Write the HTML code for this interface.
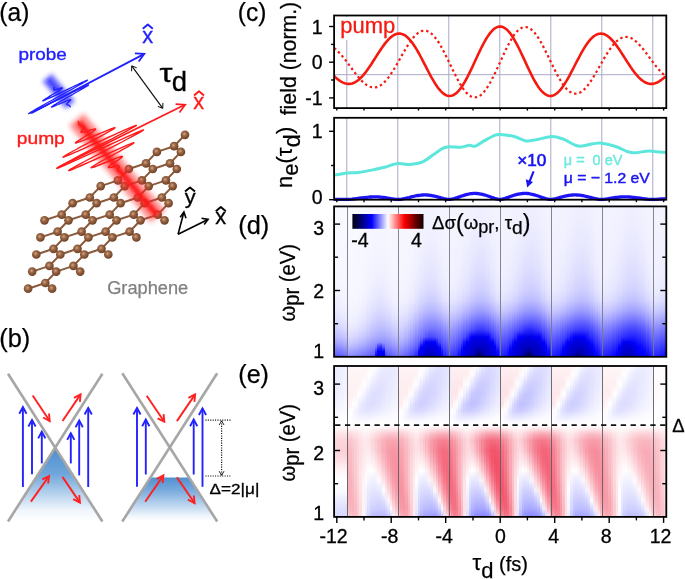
<!DOCTYPE html>
<html lang="en"><head><meta charset="utf-8"><title>Figure</title>
<style>html,body{margin:0;padding:0;background:#fff}svg{display:block}text{font-family:"Liberation Sans", sans-serif}</style></head>
<body><svg width="685" height="579" viewBox="0 0 685 579">
<defs><linearGradient id="d0" x1="0" y1="0" x2="0" y2="1"><stop offset="0" stop-color="#f8f8ff"/><stop offset="0.117" stop-color="#f8f8ff"/><stop offset="0.249" stop-color="#f7f7ff"/><stop offset="0.382" stop-color="#f6f6ff"/><stop offset="0.47" stop-color="#f5f5ff"/><stop offset="0.559" stop-color="#f2f2ff"/><stop offset="0.625" stop-color="#efefff"/><stop offset="0.691" stop-color="#e8e8ff"/><stop offset="0.735" stop-color="#e2e2ff"/><stop offset="0.779" stop-color="#d9d9ff"/><stop offset="0.823" stop-color="#ccccff"/><stop offset="0.868" stop-color="#babaff"/><stop offset="0.903" stop-color="#a6a6ff"/><stop offset="0.934" stop-color="#8f8fff"/><stop offset="0.965" stop-color="#7575ff"/><stop offset="1" stop-color="#5a5aff"/></linearGradient>
<linearGradient id="d1" x1="0" y1="0" x2="0" y2="1"><stop offset="0" stop-color="#f8f8ff"/><stop offset="0.117" stop-color="#f8f8ff"/><stop offset="0.249" stop-color="#f7f7ff"/><stop offset="0.382" stop-color="#f7f7ff"/><stop offset="0.47" stop-color="#f6f6ff"/><stop offset="0.559" stop-color="#f3f3ff"/><stop offset="0.625" stop-color="#f0f0ff"/><stop offset="0.691" stop-color="#eaeaff"/><stop offset="0.735" stop-color="#e4e4ff"/><stop offset="0.779" stop-color="#dbdbff"/><stop offset="0.823" stop-color="#cfcfff"/><stop offset="0.868" stop-color="#bcbcff"/><stop offset="0.903" stop-color="#a8a8ff"/><stop offset="0.934" stop-color="#9191ff"/><stop offset="0.965" stop-color="#7777ff"/><stop offset="1" stop-color="#5c5cff"/></linearGradient>
<linearGradient id="d2" x1="0" y1="0" x2="0" y2="1"><stop offset="0" stop-color="#f8f8ff"/><stop offset="0.117" stop-color="#f8f8ff"/><stop offset="0.249" stop-color="#f8f8ff"/><stop offset="0.382" stop-color="#f7f7ff"/><stop offset="0.47" stop-color="#f6f6ff"/><stop offset="0.559" stop-color="#f4f4ff"/><stop offset="0.625" stop-color="#f1f1ff"/><stop offset="0.691" stop-color="#ececff"/><stop offset="0.735" stop-color="#e6e6ff"/><stop offset="0.779" stop-color="#dedeff"/><stop offset="0.823" stop-color="#d1d1ff"/><stop offset="0.868" stop-color="#bfbfff"/><stop offset="0.903" stop-color="#ababff"/><stop offset="0.934" stop-color="#9595ff"/><stop offset="0.965" stop-color="#7a7aff"/><stop offset="1" stop-color="#6060ff"/></linearGradient>
<linearGradient id="d3" x1="0" y1="0" x2="0" y2="1"><stop offset="0" stop-color="#f8f8ff"/><stop offset="0.117" stop-color="#f8f8ff"/><stop offset="0.249" stop-color="#f8f8ff"/><stop offset="0.382" stop-color="#f7f7ff"/><stop offset="0.47" stop-color="#f7f7ff"/><stop offset="0.559" stop-color="#f5f5ff"/><stop offset="0.625" stop-color="#f3f3ff"/><stop offset="0.691" stop-color="#eeeeff"/><stop offset="0.735" stop-color="#e8e8ff"/><stop offset="0.779" stop-color="#e0e0ff"/><stop offset="0.823" stop-color="#d4d4ff"/><stop offset="0.868" stop-color="#c3c3ff"/><stop offset="0.903" stop-color="#afafff"/><stop offset="0.934" stop-color="#9999ff"/><stop offset="0.965" stop-color="#7f7fff"/><stop offset="1" stop-color="#6464ff"/></linearGradient>
<linearGradient id="d4" x1="0" y1="0" x2="0" y2="1"><stop offset="0" stop-color="#f8f8ff"/><stop offset="0.117" stop-color="#f8f8ff"/><stop offset="0.249" stop-color="#f8f8ff"/><stop offset="0.382" stop-color="#f7f7ff"/><stop offset="0.47" stop-color="#f7f7ff"/><stop offset="0.559" stop-color="#f5f5ff"/><stop offset="0.625" stop-color="#f3f3ff"/><stop offset="0.691" stop-color="#efefff"/><stop offset="0.735" stop-color="#eaeaff"/><stop offset="0.779" stop-color="#e2e2ff"/><stop offset="0.823" stop-color="#d7d7ff"/><stop offset="0.868" stop-color="#c6c6ff"/><stop offset="0.903" stop-color="#b3b3ff"/><stop offset="0.934" stop-color="#9d9dff"/><stop offset="0.965" stop-color="#8383ff"/><stop offset="1" stop-color="#6969ff"/></linearGradient>
<linearGradient id="d5" x1="0" y1="0" x2="0" y2="1"><stop offset="0" stop-color="#f8f8ff"/><stop offset="0.117" stop-color="#f8f8ff"/><stop offset="0.249" stop-color="#f8f8ff"/><stop offset="0.382" stop-color="#f8f8ff"/><stop offset="0.47" stop-color="#f8f8ff"/><stop offset="0.559" stop-color="#f7f7ff"/><stop offset="0.625" stop-color="#f7f7ff"/><stop offset="0.691" stop-color="#f5f5ff"/><stop offset="0.735" stop-color="#f2f2ff"/><stop offset="0.779" stop-color="#eeeeff"/><stop offset="0.823" stop-color="#e7e7ff"/><stop offset="0.868" stop-color="#dbdbff"/><stop offset="0.903" stop-color="#ccccff"/><stop offset="0.934" stop-color="#bbbbff"/><stop offset="0.965" stop-color="#a4a4ff"/><stop offset="1" stop-color="#8d8dff"/></linearGradient>
<linearGradient id="d6" x1="0" y1="0" x2="0" y2="1"><stop offset="0" stop-color="#f8f8ff"/><stop offset="0.117" stop-color="#f8f8ff"/><stop offset="0.249" stop-color="#f8f8ff"/><stop offset="0.382" stop-color="#f8f8ff"/><stop offset="0.47" stop-color="#f8f8ff"/><stop offset="0.559" stop-color="#f7f7ff"/><stop offset="0.625" stop-color="#f6f6ff"/><stop offset="0.691" stop-color="#f5f5ff"/><stop offset="0.735" stop-color="#f2f2ff"/><stop offset="0.779" stop-color="#eeeeff"/><stop offset="0.823" stop-color="#e6e6ff"/><stop offset="0.868" stop-color="#dadaff"/><stop offset="0.903" stop-color="#cbcbff"/><stop offset="0.934" stop-color="#b9b9ff"/><stop offset="0.965" stop-color="#a2a2ff"/><stop offset="1" stop-color="#8a8aff"/></linearGradient>
<linearGradient id="d7" x1="0" y1="0" x2="0" y2="1"><stop offset="0" stop-color="#f8f8ff"/><stop offset="0.117" stop-color="#f8f8ff"/><stop offset="0.249" stop-color="#f8f8ff"/><stop offset="0.382" stop-color="#f8f8ff"/><stop offset="0.47" stop-color="#f7f7ff"/><stop offset="0.559" stop-color="#f7f7ff"/><stop offset="0.625" stop-color="#f6f6ff"/><stop offset="0.691" stop-color="#f4f4ff"/><stop offset="0.735" stop-color="#f1f1ff"/><stop offset="0.779" stop-color="#ededff"/><stop offset="0.823" stop-color="#e5e5ff"/><stop offset="0.868" stop-color="#d8d8ff"/><stop offset="0.903" stop-color="#c9c9ff"/><stop offset="0.934" stop-color="#b6b6ff"/><stop offset="0.965" stop-color="#9f9fff"/><stop offset="1" stop-color="#8787ff"/></linearGradient>
<linearGradient id="d8" x1="0" y1="0" x2="0" y2="1"><stop offset="0" stop-color="#f8f8ff"/><stop offset="0.117" stop-color="#f8f8ff"/><stop offset="0.249" stop-color="#f8f8ff"/><stop offset="0.382" stop-color="#f7f7ff"/><stop offset="0.47" stop-color="#f7f7ff"/><stop offset="0.559" stop-color="#f7f7ff"/><stop offset="0.625" stop-color="#f6f6ff"/><stop offset="0.691" stop-color="#f3f3ff"/><stop offset="0.735" stop-color="#f0f0ff"/><stop offset="0.779" stop-color="#ebebff"/><stop offset="0.823" stop-color="#e3e3ff"/><stop offset="0.868" stop-color="#d5d5ff"/><stop offset="0.903" stop-color="#c5c5ff"/><stop offset="0.934" stop-color="#b2b2ff"/><stop offset="0.965" stop-color="#9b9bff"/><stop offset="1" stop-color="#8383ff"/></linearGradient>
<linearGradient id="d9" x1="0" y1="0" x2="0" y2="1"><stop offset="0" stop-color="#f8f8ff"/><stop offset="0.117" stop-color="#f8f8ff"/><stop offset="0.249" stop-color="#f7f7ff"/><stop offset="0.382" stop-color="#f7f7ff"/><stop offset="0.47" stop-color="#f7f7ff"/><stop offset="0.559" stop-color="#f6f6ff"/><stop offset="0.625" stop-color="#f5f5ff"/><stop offset="0.691" stop-color="#f2f2ff"/><stop offset="0.735" stop-color="#eeeeff"/><stop offset="0.779" stop-color="#e8e8ff"/><stop offset="0.823" stop-color="#dfdfff"/><stop offset="0.868" stop-color="#d1d1ff"/><stop offset="0.903" stop-color="#c1c1ff"/><stop offset="0.934" stop-color="#aeaeff"/><stop offset="0.965" stop-color="#9696ff"/><stop offset="1" stop-color="#7e7eff"/></linearGradient>
<linearGradient id="d10" x1="0" y1="0" x2="0" y2="1"><stop offset="0" stop-color="#f8f8ff"/><stop offset="0.117" stop-color="#f8f8ff"/><stop offset="0.249" stop-color="#f7f7ff"/><stop offset="0.382" stop-color="#f7f7ff"/><stop offset="0.47" stop-color="#f7f7ff"/><stop offset="0.559" stop-color="#f6f6ff"/><stop offset="0.625" stop-color="#f4f4ff"/><stop offset="0.691" stop-color="#f0f0ff"/><stop offset="0.735" stop-color="#ebebff"/><stop offset="0.779" stop-color="#e5e5ff"/><stop offset="0.823" stop-color="#dbdbff"/><stop offset="0.868" stop-color="#cdcdff"/><stop offset="0.903" stop-color="#bcbcff"/><stop offset="0.934" stop-color="#a8a8ff"/><stop offset="0.965" stop-color="#9191ff"/><stop offset="1" stop-color="#7878ff"/></linearGradient>
<linearGradient id="d11" x1="0" y1="0" x2="0" y2="1"><stop offset="0" stop-color="#f7f7ff"/><stop offset="0.117" stop-color="#f7f7ff"/><stop offset="0.249" stop-color="#f7f7ff"/><stop offset="0.382" stop-color="#f7f7ff"/><stop offset="0.47" stop-color="#f6f6ff"/><stop offset="0.559" stop-color="#f4f4ff"/><stop offset="0.625" stop-color="#f2f2ff"/><stop offset="0.691" stop-color="#ededff"/><stop offset="0.735" stop-color="#e8e8ff"/><stop offset="0.779" stop-color="#e1e1ff"/><stop offset="0.823" stop-color="#d7d7ff"/><stop offset="0.868" stop-color="#c7c7ff"/><stop offset="0.903" stop-color="#b6b6ff"/><stop offset="0.934" stop-color="#a2a2ff"/><stop offset="0.965" stop-color="#8a8aff"/><stop offset="1" stop-color="#7272ff"/></linearGradient>
<linearGradient id="d12" x1="0" y1="0" x2="0" y2="1"><stop offset="0" stop-color="#f7f7ff"/><stop offset="0.117" stop-color="#f7f7ff"/><stop offset="0.249" stop-color="#f7f7ff"/><stop offset="0.382" stop-color="#f6f6ff"/><stop offset="0.47" stop-color="#f5f5ff"/><stop offset="0.559" stop-color="#f3f3ff"/><stop offset="0.625" stop-color="#f0f0ff"/><stop offset="0.691" stop-color="#eaeaff"/><stop offset="0.735" stop-color="#e4e4ff"/><stop offset="0.779" stop-color="#dcdcff"/><stop offset="0.823" stop-color="#d1d1ff"/><stop offset="0.868" stop-color="#c1c1ff"/><stop offset="0.903" stop-color="#b0b0ff"/><stop offset="0.934" stop-color="#9c9cff"/><stop offset="0.965" stop-color="#8484ff"/><stop offset="1" stop-color="#6b6bff"/></linearGradient>
<linearGradient id="d13" x1="0" y1="0" x2="0" y2="1"><stop offset="0" stop-color="#f7f7ff"/><stop offset="0.117" stop-color="#f7f7ff"/><stop offset="0.249" stop-color="#f6f6ff"/><stop offset="0.382" stop-color="#f5f5ff"/><stop offset="0.47" stop-color="#f3f3ff"/><stop offset="0.559" stop-color="#f1f1ff"/><stop offset="0.625" stop-color="#ededff"/><stop offset="0.691" stop-color="#e6e6ff"/><stop offset="0.735" stop-color="#e0e0ff"/><stop offset="0.779" stop-color="#d7d7ff"/><stop offset="0.823" stop-color="#ccccff"/><stop offset="0.868" stop-color="#bbbbff"/><stop offset="0.903" stop-color="#a9a9ff"/><stop offset="0.934" stop-color="#9595ff"/><stop offset="0.965" stop-color="#7d7dff"/><stop offset="1" stop-color="#6565ff"/></linearGradient>
<linearGradient id="d14" x1="0" y1="0" x2="0" y2="1"><stop offset="0" stop-color="#f7f7ff"/><stop offset="0.117" stop-color="#f7f7ff"/><stop offset="0.249" stop-color="#f6f6ff"/><stop offset="0.382" stop-color="#f4f4ff"/><stop offset="0.47" stop-color="#f2f2ff"/><stop offset="0.559" stop-color="#efefff"/><stop offset="0.625" stop-color="#eaeaff"/><stop offset="0.691" stop-color="#e3e3ff"/><stop offset="0.735" stop-color="#dcdcff"/><stop offset="0.779" stop-color="#d2d2ff"/><stop offset="0.823" stop-color="#c6c6ff"/><stop offset="0.868" stop-color="#b5b5ff"/><stop offset="0.903" stop-color="#a3a3ff"/><stop offset="0.934" stop-color="#8f8fff"/><stop offset="0.965" stop-color="#7777ff"/><stop offset="1" stop-color="#5e5eff"/></linearGradient>
<linearGradient id="d15" x1="0" y1="0" x2="0" y2="1"><stop offset="0" stop-color="#f7f7ff"/><stop offset="0.117" stop-color="#f6f6ff"/><stop offset="0.249" stop-color="#f5f5ff"/><stop offset="0.382" stop-color="#f3f3ff"/><stop offset="0.47" stop-color="#f1f1ff"/><stop offset="0.559" stop-color="#ededff"/><stop offset="0.625" stop-color="#e8e8ff"/><stop offset="0.691" stop-color="#dfdfff"/><stop offset="0.735" stop-color="#d8d8ff"/><stop offset="0.779" stop-color="#ceceff"/><stop offset="0.823" stop-color="#c1c1ff"/><stop offset="0.868" stop-color="#b0b0ff"/><stop offset="0.903" stop-color="#9d9dff"/><stop offset="0.934" stop-color="#8989ff"/><stop offset="0.965" stop-color="#7171ff"/><stop offset="1" stop-color="#5858ff"/></linearGradient>
<linearGradient id="d16" x1="0" y1="0" x2="0" y2="1"><stop offset="0" stop-color="#f7f7ff"/><stop offset="0.117" stop-color="#f6f6ff"/><stop offset="0.249" stop-color="#f5f5ff"/><stop offset="0.382" stop-color="#f2f2ff"/><stop offset="0.47" stop-color="#efefff"/><stop offset="0.559" stop-color="#ebebff"/><stop offset="0.625" stop-color="#e5e5ff"/><stop offset="0.691" stop-color="#ddddff"/><stop offset="0.735" stop-color="#d4d4ff"/><stop offset="0.779" stop-color="#cacaff"/><stop offset="0.823" stop-color="#bdbdff"/><stop offset="0.868" stop-color="#ababff"/><stop offset="0.903" stop-color="#9999ff"/><stop offset="0.934" stop-color="#7b7bff"/><stop offset="0.965" stop-color="#2e2eff"/><stop offset="1" stop-color="#0000fc"/></linearGradient>
<linearGradient id="d17" x1="0" y1="0" x2="0" y2="1"><stop offset="0" stop-color="#f7f7ff"/><stop offset="0.117" stop-color="#f6f6ff"/><stop offset="0.249" stop-color="#f5f5ff"/><stop offset="0.382" stop-color="#f2f2ff"/><stop offset="0.47" stop-color="#efefff"/><stop offset="0.559" stop-color="#eaeaff"/><stop offset="0.625" stop-color="#e4e4ff"/><stop offset="0.691" stop-color="#dbdbff"/><stop offset="0.735" stop-color="#d2d2ff"/><stop offset="0.779" stop-color="#c7c7ff"/><stop offset="0.823" stop-color="#babaff"/><stop offset="0.868" stop-color="#a8a8ff"/><stop offset="0.903" stop-color="#9494ff"/><stop offset="0.934" stop-color="#3838ff"/><stop offset="0.965" stop-color="#0000f8"/><stop offset="1" stop-color="#0000f1"/></linearGradient>
<linearGradient id="d18" x1="0" y1="0" x2="0" y2="1"><stop offset="0" stop-color="#f7f7ff"/><stop offset="0.117" stop-color="#f6f6ff"/><stop offset="0.249" stop-color="#f4f4ff"/><stop offset="0.382" stop-color="#f2f2ff"/><stop offset="0.47" stop-color="#efefff"/><stop offset="0.559" stop-color="#eaeaff"/><stop offset="0.625" stop-color="#e4e4ff"/><stop offset="0.691" stop-color="#dbdbff"/><stop offset="0.735" stop-color="#d2d2ff"/><stop offset="0.779" stop-color="#c6c6ff"/><stop offset="0.823" stop-color="#b8b8ff"/><stop offset="0.868" stop-color="#a6a6ff"/><stop offset="0.903" stop-color="#9090ff"/><stop offset="0.934" stop-color="#2929ff"/><stop offset="0.965" stop-color="#0000f9"/><stop offset="1" stop-color="#0000f0"/></linearGradient>
<linearGradient id="d19" x1="0" y1="0" x2="0" y2="1"><stop offset="0" stop-color="#f7f7ff"/><stop offset="0.117" stop-color="#f6f6ff"/><stop offset="0.249" stop-color="#f5f5ff"/><stop offset="0.382" stop-color="#f2f2ff"/><stop offset="0.47" stop-color="#efefff"/><stop offset="0.559" stop-color="#ebebff"/><stop offset="0.625" stop-color="#e5e5ff"/><stop offset="0.691" stop-color="#dcdcff"/><stop offset="0.735" stop-color="#d2d2ff"/><stop offset="0.779" stop-color="#c7c7ff"/><stop offset="0.823" stop-color="#b8b8ff"/><stop offset="0.868" stop-color="#a6a6ff"/><stop offset="0.903" stop-color="#9393ff"/><stop offset="0.934" stop-color="#5b5bff"/><stop offset="0.965" stop-color="#0202ff"/><stop offset="1" stop-color="#0000ef"/></linearGradient>
<linearGradient id="d20" x1="0" y1="0" x2="0" y2="1"><stop offset="0" stop-color="#f7f7ff"/><stop offset="0.117" stop-color="#f6f6ff"/><stop offset="0.249" stop-color="#f5f5ff"/><stop offset="0.382" stop-color="#f3f3ff"/><stop offset="0.47" stop-color="#f1f1ff"/><stop offset="0.559" stop-color="#ededff"/><stop offset="0.625" stop-color="#e7e7ff"/><stop offset="0.691" stop-color="#dedeff"/><stop offset="0.735" stop-color="#d5d5ff"/><stop offset="0.779" stop-color="#c9c9ff"/><stop offset="0.823" stop-color="#babaff"/><stop offset="0.868" stop-color="#a8a8ff"/><stop offset="0.903" stop-color="#9595ff"/><stop offset="0.934" stop-color="#8080ff"/><stop offset="0.965" stop-color="#6464ff"/><stop offset="1" stop-color="#3e3eff"/></linearGradient>
<linearGradient id="d21" x1="0" y1="0" x2="0" y2="1"><stop offset="0" stop-color="#f7f7ff"/><stop offset="0.117" stop-color="#f6f6ff"/><stop offset="0.249" stop-color="#f6f6ff"/><stop offset="0.382" stop-color="#f4f4ff"/><stop offset="0.47" stop-color="#f2f2ff"/><stop offset="0.559" stop-color="#efefff"/><stop offset="0.625" stop-color="#eaeaff"/><stop offset="0.691" stop-color="#e1e1ff"/><stop offset="0.735" stop-color="#d8d8ff"/><stop offset="0.779" stop-color="#cdcdff"/><stop offset="0.823" stop-color="#bebeff"/><stop offset="0.868" stop-color="#acacff"/><stop offset="0.903" stop-color="#9999ff"/><stop offset="0.934" stop-color="#8585ff"/><stop offset="0.965" stop-color="#6d6dff"/><stop offset="1" stop-color="#5555ff"/></linearGradient>
<linearGradient id="d22" x1="0" y1="0" x2="0" y2="1"><stop offset="0" stop-color="#f7f7ff"/><stop offset="0.117" stop-color="#f7f7ff"/><stop offset="0.249" stop-color="#f6f6ff"/><stop offset="0.382" stop-color="#f5f5ff"/><stop offset="0.47" stop-color="#f4f4ff"/><stop offset="0.559" stop-color="#f1f1ff"/><stop offset="0.625" stop-color="#ededff"/><stop offset="0.691" stop-color="#e5e5ff"/><stop offset="0.735" stop-color="#dcdcff"/><stop offset="0.779" stop-color="#d1d1ff"/><stop offset="0.823" stop-color="#c3c3ff"/><stop offset="0.868" stop-color="#b2b2ff"/><stop offset="0.903" stop-color="#9f9fff"/><stop offset="0.934" stop-color="#8b8bff"/><stop offset="0.965" stop-color="#7373ff"/><stop offset="1" stop-color="#5b5bff"/></linearGradient>
<linearGradient id="d23" x1="0" y1="0" x2="0" y2="1"><stop offset="0" stop-color="#f7f7ff"/><stop offset="0.117" stop-color="#f7f7ff"/><stop offset="0.249" stop-color="#f6f6ff"/><stop offset="0.382" stop-color="#f6f6ff"/><stop offset="0.47" stop-color="#f5f5ff"/><stop offset="0.559" stop-color="#f3f3ff"/><stop offset="0.625" stop-color="#f0f0ff"/><stop offset="0.691" stop-color="#e8e8ff"/><stop offset="0.735" stop-color="#e1e1ff"/><stop offset="0.779" stop-color="#d6d6ff"/><stop offset="0.823" stop-color="#c9c9ff"/><stop offset="0.868" stop-color="#b8b8ff"/><stop offset="0.903" stop-color="#a6a6ff"/><stop offset="0.934" stop-color="#9292ff"/><stop offset="0.965" stop-color="#7b7bff"/><stop offset="1" stop-color="#6464ff"/></linearGradient>
<linearGradient id="d24" x1="0" y1="0" x2="0" y2="1"><stop offset="0" stop-color="#f7f7ff"/><stop offset="0.117" stop-color="#f7f7ff"/><stop offset="0.249" stop-color="#f6f6ff"/><stop offset="0.382" stop-color="#f6f6ff"/><stop offset="0.47" stop-color="#f5f5ff"/><stop offset="0.559" stop-color="#f4f4ff"/><stop offset="0.625" stop-color="#f1f1ff"/><stop offset="0.691" stop-color="#ebebff"/><stop offset="0.735" stop-color="#e4e4ff"/><stop offset="0.779" stop-color="#dadaff"/><stop offset="0.823" stop-color="#ceceff"/><stop offset="0.868" stop-color="#bebeff"/><stop offset="0.903" stop-color="#adadff"/><stop offset="0.934" stop-color="#9a9aff"/><stop offset="0.965" stop-color="#8484ff"/><stop offset="1" stop-color="#6d6dff"/></linearGradient>
<linearGradient id="d25" x1="0" y1="0" x2="0" y2="1"><stop offset="0" stop-color="#f7f7ff"/><stop offset="0.117" stop-color="#f7f7ff"/><stop offset="0.249" stop-color="#f7f7ff"/><stop offset="0.382" stop-color="#f6f6ff"/><stop offset="0.47" stop-color="#f6f6ff"/><stop offset="0.559" stop-color="#f5f5ff"/><stop offset="0.625" stop-color="#f2f2ff"/><stop offset="0.691" stop-color="#ececff"/><stop offset="0.735" stop-color="#e5e5ff"/><stop offset="0.779" stop-color="#dcdcff"/><stop offset="0.823" stop-color="#d0d0ff"/><stop offset="0.868" stop-color="#c1c1ff"/><stop offset="0.903" stop-color="#b2b2ff"/><stop offset="0.934" stop-color="#a0a0ff"/><stop offset="0.965" stop-color="#8b8bff"/><stop offset="1" stop-color="#7575ff"/></linearGradient>
<linearGradient id="d26" x1="0" y1="0" x2="0" y2="1"><stop offset="0" stop-color="#f7f7ff"/><stop offset="0.117" stop-color="#f7f7ff"/><stop offset="0.249" stop-color="#f6f6ff"/><stop offset="0.382" stop-color="#f6f6ff"/><stop offset="0.47" stop-color="#f5f5ff"/><stop offset="0.559" stop-color="#f4f4ff"/><stop offset="0.625" stop-color="#f1f1ff"/><stop offset="0.691" stop-color="#eaeaff"/><stop offset="0.735" stop-color="#e3e3ff"/><stop offset="0.779" stop-color="#d9d9ff"/><stop offset="0.823" stop-color="#cdcdff"/><stop offset="0.868" stop-color="#bebeff"/><stop offset="0.903" stop-color="#adadff"/><stop offset="0.934" stop-color="#9b9bff"/><stop offset="0.965" stop-color="#8686ff"/><stop offset="1" stop-color="#7070ff"/></linearGradient>
<linearGradient id="d27" x1="0" y1="0" x2="0" y2="1"><stop offset="0" stop-color="#f6f6ff"/><stop offset="0.117" stop-color="#f6f6ff"/><stop offset="0.249" stop-color="#f6f6ff"/><stop offset="0.382" stop-color="#f6f6ff"/><stop offset="0.47" stop-color="#f5f5ff"/><stop offset="0.559" stop-color="#f3f3ff"/><stop offset="0.625" stop-color="#f0f0ff"/><stop offset="0.691" stop-color="#e8e8ff"/><stop offset="0.735" stop-color="#e0e0ff"/><stop offset="0.779" stop-color="#d6d6ff"/><stop offset="0.823" stop-color="#c8c8ff"/><stop offset="0.868" stop-color="#b8b8ff"/><stop offset="0.903" stop-color="#a7a7ff"/><stop offset="0.934" stop-color="#9494ff"/><stop offset="0.965" stop-color="#7e7eff"/><stop offset="1" stop-color="#6868ff"/></linearGradient>
<linearGradient id="d28" x1="0" y1="0" x2="0" y2="1"><stop offset="0" stop-color="#f6f6ff"/><stop offset="0.117" stop-color="#f6f6ff"/><stop offset="0.249" stop-color="#f6f6ff"/><stop offset="0.382" stop-color="#f5f5ff"/><stop offset="0.47" stop-color="#f4f4ff"/><stop offset="0.559" stop-color="#f2f2ff"/><stop offset="0.625" stop-color="#efefff"/><stop offset="0.691" stop-color="#e6e6ff"/><stop offset="0.735" stop-color="#ddddff"/><stop offset="0.779" stop-color="#d1d1ff"/><stop offset="0.823" stop-color="#c2c2ff"/><stop offset="0.868" stop-color="#b1b1ff"/><stop offset="0.903" stop-color="#9f9fff"/><stop offset="0.934" stop-color="#8c8cff"/><stop offset="0.965" stop-color="#7575ff"/><stop offset="1" stop-color="#5f5fff"/></linearGradient>
<linearGradient id="d29" x1="0" y1="0" x2="0" y2="1"><stop offset="0" stop-color="#f6f6ff"/><stop offset="0.117" stop-color="#f6f6ff"/><stop offset="0.249" stop-color="#f5f5ff"/><stop offset="0.382" stop-color="#f5f5ff"/><stop offset="0.47" stop-color="#f3f3ff"/><stop offset="0.559" stop-color="#f1f1ff"/><stop offset="0.625" stop-color="#ececff"/><stop offset="0.691" stop-color="#e2e2ff"/><stop offset="0.735" stop-color="#d8d8ff"/><stop offset="0.779" stop-color="#cbcbff"/><stop offset="0.823" stop-color="#bbbbff"/><stop offset="0.868" stop-color="#a8a8ff"/><stop offset="0.903" stop-color="#9595ff"/><stop offset="0.934" stop-color="#8282ff"/><stop offset="0.965" stop-color="#6b6bff"/><stop offset="1" stop-color="#5454ff"/></linearGradient>
<linearGradient id="d30" x1="0" y1="0" x2="0" y2="1"><stop offset="0" stop-color="#f6f6ff"/><stop offset="0.117" stop-color="#f6f6ff"/><stop offset="0.249" stop-color="#f5f5ff"/><stop offset="0.382" stop-color="#f4f4ff"/><stop offset="0.47" stop-color="#f2f2ff"/><stop offset="0.559" stop-color="#efefff"/><stop offset="0.625" stop-color="#e9e9ff"/><stop offset="0.691" stop-color="#dedeff"/><stop offset="0.735" stop-color="#d2d2ff"/><stop offset="0.779" stop-color="#c3c3ff"/><stop offset="0.823" stop-color="#b2b2ff"/><stop offset="0.868" stop-color="#9e9eff"/><stop offset="0.903" stop-color="#8a8aff"/><stop offset="0.934" stop-color="#7676ff"/><stop offset="0.965" stop-color="#6060ff"/><stop offset="1" stop-color="#4949ff"/></linearGradient>
<linearGradient id="d31" x1="0" y1="0" x2="0" y2="1"><stop offset="0" stop-color="#f6f6ff"/><stop offset="0.117" stop-color="#f5f5ff"/><stop offset="0.249" stop-color="#f4f4ff"/><stop offset="0.382" stop-color="#f2f2ff"/><stop offset="0.47" stop-color="#f0f0ff"/><stop offset="0.559" stop-color="#ececff"/><stop offset="0.625" stop-color="#e6e6ff"/><stop offset="0.691" stop-color="#d8d8ff"/><stop offset="0.735" stop-color="#cbcbff"/><stop offset="0.779" stop-color="#babaff"/><stop offset="0.823" stop-color="#a8a8ff"/><stop offset="0.868" stop-color="#9292ff"/><stop offset="0.903" stop-color="#7e7eff"/><stop offset="0.934" stop-color="#6a6aff"/><stop offset="0.965" stop-color="#5353ff"/><stop offset="1" stop-color="#3d3dff"/></linearGradient>
<linearGradient id="d32" x1="0" y1="0" x2="0" y2="1"><stop offset="0" stop-color="#f5f5ff"/><stop offset="0.117" stop-color="#f5f5ff"/><stop offset="0.249" stop-color="#f3f3ff"/><stop offset="0.382" stop-color="#f1f1ff"/><stop offset="0.47" stop-color="#eeeeff"/><stop offset="0.559" stop-color="#e9e9ff"/><stop offset="0.625" stop-color="#e1e1ff"/><stop offset="0.691" stop-color="#d2d2ff"/><stop offset="0.735" stop-color="#c3c3ff"/><stop offset="0.779" stop-color="#b1b1ff"/><stop offset="0.823" stop-color="#9d9dff"/><stop offset="0.868" stop-color="#8787ff"/><stop offset="0.903" stop-color="#7272ff"/><stop offset="0.934" stop-color="#5e5eff"/><stop offset="0.965" stop-color="#4141ff"/><stop offset="1" stop-color="#2424ff"/></linearGradient>
<linearGradient id="d33" x1="0" y1="0" x2="0" y2="1"><stop offset="0" stop-color="#f5f5ff"/><stop offset="0.117" stop-color="#f4f4ff"/><stop offset="0.249" stop-color="#f2f2ff"/><stop offset="0.382" stop-color="#efefff"/><stop offset="0.47" stop-color="#ebebff"/><stop offset="0.559" stop-color="#e5e5ff"/><stop offset="0.625" stop-color="#dcdcff"/><stop offset="0.691" stop-color="#cbcbff"/><stop offset="0.735" stop-color="#bbbbff"/><stop offset="0.779" stop-color="#a7a7ff"/><stop offset="0.823" stop-color="#9292ff"/><stop offset="0.868" stop-color="#7b7bff"/><stop offset="0.903" stop-color="#6565ff"/><stop offset="0.934" stop-color="#3838ff"/><stop offset="0.965" stop-color="#0404ff"/><stop offset="1" stop-color="#0000f5"/></linearGradient>
<linearGradient id="d34" x1="0" y1="0" x2="0" y2="1"><stop offset="0" stop-color="#f4f4ff"/><stop offset="0.117" stop-color="#f3f3ff"/><stop offset="0.249" stop-color="#f1f1ff"/><stop offset="0.382" stop-color="#ededff"/><stop offset="0.47" stop-color="#e8e8ff"/><stop offset="0.559" stop-color="#e1e1ff"/><stop offset="0.625" stop-color="#d7d7ff"/><stop offset="0.691" stop-color="#c5c5ff"/><stop offset="0.735" stop-color="#b3b3ff"/><stop offset="0.779" stop-color="#9e9eff"/><stop offset="0.823" stop-color="#8888ff"/><stop offset="0.868" stop-color="#7070ff"/><stop offset="0.903" stop-color="#4242ff"/><stop offset="0.934" stop-color="#0000fd"/><stop offset="0.965" stop-color="#0000eb"/><stop offset="1" stop-color="#0000df"/></linearGradient>
<linearGradient id="d35" x1="0" y1="0" x2="0" y2="1"><stop offset="0" stop-color="#f4f4ff"/><stop offset="0.117" stop-color="#f2f2ff"/><stop offset="0.249" stop-color="#f0f0ff"/><stop offset="0.382" stop-color="#ebebff"/><stop offset="0.47" stop-color="#e6e6ff"/><stop offset="0.559" stop-color="#dedeff"/><stop offset="0.625" stop-color="#d3d3ff"/><stop offset="0.691" stop-color="#bfbfff"/><stop offset="0.735" stop-color="#acacff"/><stop offset="0.779" stop-color="#9696ff"/><stop offset="0.823" stop-color="#7f7fff"/><stop offset="0.868" stop-color="#6464ff"/><stop offset="0.903" stop-color="#1515ff"/><stop offset="0.934" stop-color="#0000ed"/><stop offset="0.965" stop-color="#0000db"/><stop offset="1" stop-color="#0000d2"/></linearGradient>
<linearGradient id="d36" x1="0" y1="0" x2="0" y2="1"><stop offset="0" stop-color="#f3f3ff"/><stop offset="0.117" stop-color="#f2f2ff"/><stop offset="0.249" stop-color="#efefff"/><stop offset="0.382" stop-color="#e9e9ff"/><stop offset="0.47" stop-color="#e4e4ff"/><stop offset="0.559" stop-color="#dbdbff"/><stop offset="0.625" stop-color="#d0d0ff"/><stop offset="0.691" stop-color="#bbbbff"/><stop offset="0.735" stop-color="#a7a7ff"/><stop offset="0.779" stop-color="#9090ff"/><stop offset="0.823" stop-color="#7777ff"/><stop offset="0.868" stop-color="#5454ff"/><stop offset="0.903" stop-color="#0000fb"/><stop offset="0.934" stop-color="#0000e2"/><stop offset="0.965" stop-color="#0000d6"/><stop offset="1" stop-color="#0000c1"/></linearGradient>
<linearGradient id="d37" x1="0" y1="0" x2="0" y2="1"><stop offset="0" stop-color="#f3f3ff"/><stop offset="0.117" stop-color="#f1f1ff"/><stop offset="0.249" stop-color="#eeeeff"/><stop offset="0.382" stop-color="#e8e8ff"/><stop offset="0.47" stop-color="#e3e3ff"/><stop offset="0.559" stop-color="#dadaff"/><stop offset="0.625" stop-color="#ceceff"/><stop offset="0.691" stop-color="#b8b8ff"/><stop offset="0.735" stop-color="#a3a3ff"/><stop offset="0.779" stop-color="#8c8cff"/><stop offset="0.823" stop-color="#7272ff"/><stop offset="0.868" stop-color="#4848ff"/><stop offset="0.903" stop-color="#0000f6"/><stop offset="0.934" stop-color="#0000df"/><stop offset="0.965" stop-color="#0000ce"/><stop offset="1" stop-color="#0000b1"/></linearGradient>
<linearGradient id="d38" x1="0" y1="0" x2="0" y2="1"><stop offset="0" stop-color="#f3f3ff"/><stop offset="0.117" stop-color="#f1f1ff"/><stop offset="0.249" stop-color="#eeeeff"/><stop offset="0.382" stop-color="#e8e8ff"/><stop offset="0.47" stop-color="#e3e3ff"/><stop offset="0.559" stop-color="#dadaff"/><stop offset="0.625" stop-color="#cdcdff"/><stop offset="0.691" stop-color="#b7b7ff"/><stop offset="0.735" stop-color="#a2a2ff"/><stop offset="0.779" stop-color="#8a8aff"/><stop offset="0.823" stop-color="#7070ff"/><stop offset="0.868" stop-color="#4848ff"/><stop offset="0.903" stop-color="#0000f7"/><stop offset="0.934" stop-color="#0000df"/><stop offset="0.965" stop-color="#0000d1"/><stop offset="1" stop-color="#0000b7"/></linearGradient>
<linearGradient id="d39" x1="0" y1="0" x2="0" y2="1"><stop offset="0" stop-color="#f3f3ff"/><stop offset="0.117" stop-color="#f1f1ff"/><stop offset="0.249" stop-color="#eeeeff"/><stop offset="0.382" stop-color="#e9e9ff"/><stop offset="0.47" stop-color="#e4e4ff"/><stop offset="0.559" stop-color="#dbdbff"/><stop offset="0.625" stop-color="#cfcfff"/><stop offset="0.691" stop-color="#b9b9ff"/><stop offset="0.735" stop-color="#a3a3ff"/><stop offset="0.779" stop-color="#8a8aff"/><stop offset="0.823" stop-color="#7070ff"/><stop offset="0.868" stop-color="#5151ff"/><stop offset="0.903" stop-color="#0000fd"/><stop offset="0.934" stop-color="#0000e4"/><stop offset="0.965" stop-color="#0000d6"/><stop offset="1" stop-color="#0000ca"/></linearGradient>
<linearGradient id="d40" x1="0" y1="0" x2="0" y2="1"><stop offset="0" stop-color="#f3f3ff"/><stop offset="0.117" stop-color="#f2f2ff"/><stop offset="0.249" stop-color="#efefff"/><stop offset="0.382" stop-color="#ebebff"/><stop offset="0.47" stop-color="#e6e6ff"/><stop offset="0.559" stop-color="#dedeff"/><stop offset="0.625" stop-color="#d2d2ff"/><stop offset="0.691" stop-color="#bcbcff"/><stop offset="0.735" stop-color="#a7a7ff"/><stop offset="0.779" stop-color="#8e8eff"/><stop offset="0.823" stop-color="#7474ff"/><stop offset="0.868" stop-color="#5959ff"/><stop offset="0.903" stop-color="#1c1cff"/><stop offset="0.934" stop-color="#0000f1"/><stop offset="0.965" stop-color="#0000de"/><stop offset="1" stop-color="#0000d2"/></linearGradient>
<linearGradient id="d41" x1="0" y1="0" x2="0" y2="1"><stop offset="0" stop-color="#f4f4ff"/><stop offset="0.117" stop-color="#f3f3ff"/><stop offset="0.249" stop-color="#f1f1ff"/><stop offset="0.382" stop-color="#ededff"/><stop offset="0.47" stop-color="#e9e9ff"/><stop offset="0.559" stop-color="#e2e2ff"/><stop offset="0.625" stop-color="#d7d7ff"/><stop offset="0.691" stop-color="#c1c1ff"/><stop offset="0.735" stop-color="#acacff"/><stop offset="0.779" stop-color="#9494ff"/><stop offset="0.823" stop-color="#7a7aff"/><stop offset="0.868" stop-color="#6060ff"/><stop offset="0.903" stop-color="#4343ff"/><stop offset="0.934" stop-color="#0909ff"/><stop offset="0.965" stop-color="#0000f1"/><stop offset="1" stop-color="#0000e6"/></linearGradient>
<linearGradient id="d42" x1="0" y1="0" x2="0" y2="1"><stop offset="0" stop-color="#f4f4ff"/><stop offset="0.117" stop-color="#f3f3ff"/><stop offset="0.249" stop-color="#f2f2ff"/><stop offset="0.382" stop-color="#efefff"/><stop offset="0.47" stop-color="#ececff"/><stop offset="0.559" stop-color="#e6e6ff"/><stop offset="0.625" stop-color="#dcdcff"/><stop offset="0.691" stop-color="#c7c7ff"/><stop offset="0.735" stop-color="#b3b3ff"/><stop offset="0.779" stop-color="#9b9bff"/><stop offset="0.823" stop-color="#8282ff"/><stop offset="0.868" stop-color="#6969ff"/><stop offset="0.903" stop-color="#5454ff"/><stop offset="0.934" stop-color="#3b3bff"/><stop offset="0.965" stop-color="#1515ff"/><stop offset="1" stop-color="#0000fc"/></linearGradient>
<linearGradient id="d43" x1="0" y1="0" x2="0" y2="1"><stop offset="0" stop-color="#f4f4ff"/><stop offset="0.117" stop-color="#f4f4ff"/><stop offset="0.249" stop-color="#f3f3ff"/><stop offset="0.382" stop-color="#f1f1ff"/><stop offset="0.47" stop-color="#eeeeff"/><stop offset="0.559" stop-color="#e9e9ff"/><stop offset="0.625" stop-color="#e1e1ff"/><stop offset="0.691" stop-color="#ceceff"/><stop offset="0.735" stop-color="#bbbbff"/><stop offset="0.779" stop-color="#a4a4ff"/><stop offset="0.823" stop-color="#8c8cff"/><stop offset="0.868" stop-color="#7373ff"/><stop offset="0.903" stop-color="#5f5fff"/><stop offset="0.934" stop-color="#4c4cff"/><stop offset="0.965" stop-color="#3737ff"/><stop offset="1" stop-color="#2323ff"/></linearGradient>
<linearGradient id="d44" x1="0" y1="0" x2="0" y2="1"><stop offset="0" stop-color="#f4f4ff"/><stop offset="0.117" stop-color="#f4f4ff"/><stop offset="0.249" stop-color="#f3f3ff"/><stop offset="0.382" stop-color="#f2f2ff"/><stop offset="0.47" stop-color="#f0f0ff"/><stop offset="0.559" stop-color="#ececff"/><stop offset="0.625" stop-color="#e5e5ff"/><stop offset="0.691" stop-color="#d3d3ff"/><stop offset="0.735" stop-color="#c1c1ff"/><stop offset="0.779" stop-color="#acacff"/><stop offset="0.823" stop-color="#9595ff"/><stop offset="0.868" stop-color="#7e7eff"/><stop offset="0.903" stop-color="#6b6bff"/><stop offset="0.934" stop-color="#5959ff"/><stop offset="0.965" stop-color="#4545ff"/><stop offset="1" stop-color="#3131ff"/></linearGradient>
<linearGradient id="d45" x1="0" y1="0" x2="0" y2="1"><stop offset="0" stop-color="#f4f4ff"/><stop offset="0.117" stop-color="#f4f4ff"/><stop offset="0.249" stop-color="#f4f4ff"/><stop offset="0.382" stop-color="#f3f3ff"/><stop offset="0.47" stop-color="#f2f2ff"/><stop offset="0.559" stop-color="#efefff"/><stop offset="0.625" stop-color="#e7e7ff"/><stop offset="0.691" stop-color="#d7d7ff"/><stop offset="0.735" stop-color="#c6c6ff"/><stop offset="0.779" stop-color="#b2b2ff"/><stop offset="0.823" stop-color="#9c9cff"/><stop offset="0.868" stop-color="#8787ff"/><stop offset="0.903" stop-color="#7575ff"/><stop offset="0.934" stop-color="#6464ff"/><stop offset="0.965" stop-color="#5151ff"/><stop offset="1" stop-color="#3f3fff"/></linearGradient>
<linearGradient id="d46" x1="0" y1="0" x2="0" y2="1"><stop offset="0" stop-color="#f4f4ff"/><stop offset="0.117" stop-color="#f4f4ff"/><stop offset="0.249" stop-color="#f4f4ff"/><stop offset="0.382" stop-color="#f3f3ff"/><stop offset="0.47" stop-color="#f1f1ff"/><stop offset="0.559" stop-color="#eeeeff"/><stop offset="0.625" stop-color="#e6e6ff"/><stop offset="0.691" stop-color="#d5d5ff"/><stop offset="0.735" stop-color="#c3c3ff"/><stop offset="0.779" stop-color="#aeaeff"/><stop offset="0.823" stop-color="#9898ff"/><stop offset="0.868" stop-color="#8282ff"/><stop offset="0.903" stop-color="#7070ff"/><stop offset="0.934" stop-color="#5e5eff"/><stop offset="0.965" stop-color="#4c4cff"/><stop offset="1" stop-color="#3939ff"/></linearGradient>
<linearGradient id="d47" x1="0" y1="0" x2="0" y2="1"><stop offset="0" stop-color="#f4f4ff"/><stop offset="0.117" stop-color="#f4f4ff"/><stop offset="0.249" stop-color="#f3f3ff"/><stop offset="0.382" stop-color="#f2f2ff"/><stop offset="0.47" stop-color="#f0f0ff"/><stop offset="0.559" stop-color="#ededff"/><stop offset="0.625" stop-color="#e4e4ff"/><stop offset="0.691" stop-color="#d2d2ff"/><stop offset="0.735" stop-color="#bfbfff"/><stop offset="0.779" stop-color="#a9a9ff"/><stop offset="0.823" stop-color="#9292ff"/><stop offset="0.868" stop-color="#7b7bff"/><stop offset="0.903" stop-color="#6868ff"/><stop offset="0.934" stop-color="#5656ff"/><stop offset="0.965" stop-color="#4343ff"/><stop offset="1" stop-color="#3030ff"/></linearGradient>
<linearGradient id="d48" x1="0" y1="0" x2="0" y2="1"><stop offset="0" stop-color="#f4f4ff"/><stop offset="0.117" stop-color="#f4f4ff"/><stop offset="0.249" stop-color="#f3f3ff"/><stop offset="0.382" stop-color="#f1f1ff"/><stop offset="0.47" stop-color="#efefff"/><stop offset="0.559" stop-color="#ebebff"/><stop offset="0.625" stop-color="#e2e2ff"/><stop offset="0.691" stop-color="#ceceff"/><stop offset="0.735" stop-color="#babaff"/><stop offset="0.779" stop-color="#a3a3ff"/><stop offset="0.823" stop-color="#8a8aff"/><stop offset="0.868" stop-color="#7272ff"/><stop offset="0.903" stop-color="#5e5eff"/><stop offset="0.934" stop-color="#4b4bff"/><stop offset="0.965" stop-color="#3838ff"/><stop offset="1" stop-color="#2525ff"/></linearGradient>
<linearGradient id="d49" x1="0" y1="0" x2="0" y2="1"><stop offset="0" stop-color="#f4f4ff"/><stop offset="0.117" stop-color="#f3f3ff"/><stop offset="0.249" stop-color="#f2f2ff"/><stop offset="0.382" stop-color="#f0f0ff"/><stop offset="0.47" stop-color="#ededff"/><stop offset="0.559" stop-color="#e8e8ff"/><stop offset="0.625" stop-color="#dedeff"/><stop offset="0.691" stop-color="#c9c9ff"/><stop offset="0.735" stop-color="#b4b4ff"/><stop offset="0.779" stop-color="#9b9bff"/><stop offset="0.823" stop-color="#8181ff"/><stop offset="0.868" stop-color="#6767ff"/><stop offset="0.903" stop-color="#5252ff"/><stop offset="0.934" stop-color="#3d3dff"/><stop offset="0.965" stop-color="#2121ff"/><stop offset="1" stop-color="#0909ff"/></linearGradient>
<linearGradient id="d50" x1="0" y1="0" x2="0" y2="1"><stop offset="0" stop-color="#f3f3ff"/><stop offset="0.117" stop-color="#f3f3ff"/><stop offset="0.249" stop-color="#f1f1ff"/><stop offset="0.382" stop-color="#eeeeff"/><stop offset="0.47" stop-color="#ebebff"/><stop offset="0.559" stop-color="#e5e5ff"/><stop offset="0.625" stop-color="#dadaff"/><stop offset="0.691" stop-color="#c3c3ff"/><stop offset="0.735" stop-color="#acacff"/><stop offset="0.779" stop-color="#9292ff"/><stop offset="0.823" stop-color="#7676ff"/><stop offset="0.868" stop-color="#5b5bff"/><stop offset="0.903" stop-color="#3f3fff"/><stop offset="0.934" stop-color="#1717ff"/><stop offset="0.965" stop-color="#0000fa"/><stop offset="1" stop-color="#0000f2"/></linearGradient>
<linearGradient id="d51" x1="0" y1="0" x2="0" y2="1"><stop offset="0" stop-color="#f3f3ff"/><stop offset="0.117" stop-color="#f2f2ff"/><stop offset="0.249" stop-color="#f0f0ff"/><stop offset="0.382" stop-color="#ececff"/><stop offset="0.47" stop-color="#e9e9ff"/><stop offset="0.559" stop-color="#e2e2ff"/><stop offset="0.625" stop-color="#d6d6ff"/><stop offset="0.691" stop-color="#bdbdff"/><stop offset="0.735" stop-color="#a4a4ff"/><stop offset="0.779" stop-color="#8888ff"/><stop offset="0.823" stop-color="#6b6bff"/><stop offset="0.868" stop-color="#4d4dff"/><stop offset="0.903" stop-color="#1818ff"/><stop offset="0.934" stop-color="#0000f6"/><stop offset="0.965" stop-color="#0000e9"/><stop offset="1" stop-color="#0000e1"/></linearGradient>
<linearGradient id="d52" x1="0" y1="0" x2="0" y2="1"><stop offset="0" stop-color="#f2f2ff"/><stop offset="0.117" stop-color="#f1f1ff"/><stop offset="0.249" stop-color="#efefff"/><stop offset="0.382" stop-color="#eaeaff"/><stop offset="0.47" stop-color="#e6e6ff"/><stop offset="0.559" stop-color="#dedeff"/><stop offset="0.625" stop-color="#d0d0ff"/><stop offset="0.691" stop-color="#b6b6ff"/><stop offset="0.735" stop-color="#9c9cff"/><stop offset="0.779" stop-color="#7e7eff"/><stop offset="0.823" stop-color="#6060ff"/><stop offset="0.868" stop-color="#3232ff"/><stop offset="0.903" stop-color="#0000f8"/><stop offset="0.934" stop-color="#0000e7"/><stop offset="0.965" stop-color="#0000d9"/><stop offset="1" stop-color="#0000d0"/></linearGradient>
<linearGradient id="d53" x1="0" y1="0" x2="0" y2="1"><stop offset="0" stop-color="#f2f2ff"/><stop offset="0.117" stop-color="#f0f0ff"/><stop offset="0.249" stop-color="#ededff"/><stop offset="0.382" stop-color="#e8e8ff"/><stop offset="0.47" stop-color="#e2e2ff"/><stop offset="0.559" stop-color="#d9d9ff"/><stop offset="0.625" stop-color="#cbcbff"/><stop offset="0.691" stop-color="#afafff"/><stop offset="0.735" stop-color="#9494ff"/><stop offset="0.779" stop-color="#7575ff"/><stop offset="0.823" stop-color="#5555ff"/><stop offset="0.868" stop-color="#1111ff"/><stop offset="0.903" stop-color="#0000ec"/><stop offset="0.934" stop-color="#0000d9"/><stop offset="0.965" stop-color="#0000cc"/><stop offset="1" stop-color="#0000c6"/></linearGradient>
<linearGradient id="d54" x1="0" y1="0" x2="0" y2="1"><stop offset="0" stop-color="#f1f1ff"/><stop offset="0.117" stop-color="#efefff"/><stop offset="0.249" stop-color="#ebebff"/><stop offset="0.382" stop-color="#e5e5ff"/><stop offset="0.47" stop-color="#dfdfff"/><stop offset="0.559" stop-color="#d5d5ff"/><stop offset="0.625" stop-color="#c6c6ff"/><stop offset="0.691" stop-color="#a9a9ff"/><stop offset="0.735" stop-color="#8c8cff"/><stop offset="0.779" stop-color="#6c6cff"/><stop offset="0.823" stop-color="#4b4bff"/><stop offset="0.868" stop-color="#0000fb"/><stop offset="0.903" stop-color="#0000e1"/><stop offset="0.934" stop-color="#0000ce"/><stop offset="0.965" stop-color="#0000c9"/><stop offset="1" stop-color="#0000c0"/></linearGradient>
<linearGradient id="d55" x1="0" y1="0" x2="0" y2="1"><stop offset="0" stop-color="#f0f0ff"/><stop offset="0.117" stop-color="#eeeeff"/><stop offset="0.249" stop-color="#eaeaff"/><stop offset="0.382" stop-color="#e3e3ff"/><stop offset="0.47" stop-color="#dcdcff"/><stop offset="0.559" stop-color="#d2d2ff"/><stop offset="0.625" stop-color="#c2c2ff"/><stop offset="0.691" stop-color="#a3a3ff"/><stop offset="0.735" stop-color="#8686ff"/><stop offset="0.779" stop-color="#6565ff"/><stop offset="0.823" stop-color="#4040ff"/><stop offset="0.868" stop-color="#0000f4"/><stop offset="0.903" stop-color="#0000d9"/><stop offset="0.934" stop-color="#0000cc"/><stop offset="0.965" stop-color="#0000ba"/><stop offset="1" stop-color="#00009b"/></linearGradient>
<linearGradient id="d56" x1="0" y1="0" x2="0" y2="1"><stop offset="0" stop-color="#f0f0ff"/><stop offset="0.117" stop-color="#eeeeff"/><stop offset="0.249" stop-color="#e9e9ff"/><stop offset="0.382" stop-color="#e2e2ff"/><stop offset="0.47" stop-color="#dadaff"/><stop offset="0.559" stop-color="#cfcfff"/><stop offset="0.625" stop-color="#bfbfff"/><stop offset="0.691" stop-color="#a0a0ff"/><stop offset="0.735" stop-color="#8282ff"/><stop offset="0.779" stop-color="#6060ff"/><stop offset="0.823" stop-color="#3838ff"/><stop offset="0.868" stop-color="#0000ef"/><stop offset="0.903" stop-color="#0000d3"/><stop offset="0.934" stop-color="#0000ca"/><stop offset="0.965" stop-color="#00009f"/><stop offset="1" stop-color="#000062"/></linearGradient>
<linearGradient id="d57" x1="0" y1="0" x2="0" y2="1"><stop offset="0" stop-color="#f0f0ff"/><stop offset="0.117" stop-color="#ededff"/><stop offset="0.249" stop-color="#e8e8ff"/><stop offset="0.382" stop-color="#e1e1ff"/><stop offset="0.47" stop-color="#d9d9ff"/><stop offset="0.559" stop-color="#ceceff"/><stop offset="0.625" stop-color="#bdbdff"/><stop offset="0.691" stop-color="#9e9eff"/><stop offset="0.735" stop-color="#7f7fff"/><stop offset="0.779" stop-color="#5d5dff"/><stop offset="0.823" stop-color="#3535ff"/><stop offset="0.868" stop-color="#0000ee"/><stop offset="0.903" stop-color="#0000d2"/><stop offset="0.934" stop-color="#0000c8"/><stop offset="0.965" stop-color="#000098"/><stop offset="1" stop-color="#000053"/></linearGradient>
<linearGradient id="d58" x1="0" y1="0" x2="0" y2="1"><stop offset="0" stop-color="#f0f0ff"/><stop offset="0.117" stop-color="#ededff"/><stop offset="0.249" stop-color="#e9e9ff"/><stop offset="0.382" stop-color="#e1e1ff"/><stop offset="0.47" stop-color="#dadaff"/><stop offset="0.559" stop-color="#cfcfff"/><stop offset="0.625" stop-color="#bebeff"/><stop offset="0.691" stop-color="#9e9eff"/><stop offset="0.735" stop-color="#8080ff"/><stop offset="0.779" stop-color="#5d5dff"/><stop offset="0.823" stop-color="#3636ff"/><stop offset="0.868" stop-color="#0000ef"/><stop offset="0.903" stop-color="#0000d4"/><stop offset="0.934" stop-color="#0000c9"/><stop offset="0.965" stop-color="#0000ad"/><stop offset="1" stop-color="#000081"/></linearGradient>
<linearGradient id="d59" x1="0" y1="0" x2="0" y2="1"><stop offset="0" stop-color="#f0f0ff"/><stop offset="0.117" stop-color="#eeeeff"/><stop offset="0.249" stop-color="#e9e9ff"/><stop offset="0.382" stop-color="#e2e2ff"/><stop offset="0.47" stop-color="#dbdbff"/><stop offset="0.559" stop-color="#d1d1ff"/><stop offset="0.625" stop-color="#c0c0ff"/><stop offset="0.691" stop-color="#a1a1ff"/><stop offset="0.735" stop-color="#8282ff"/><stop offset="0.779" stop-color="#6060ff"/><stop offset="0.823" stop-color="#3c3cff"/><stop offset="0.868" stop-color="#0000f4"/><stop offset="0.903" stop-color="#0000da"/><stop offset="0.934" stop-color="#0000c9"/><stop offset="0.965" stop-color="#0000c2"/><stop offset="1" stop-color="#0000b1"/></linearGradient>
<linearGradient id="d60" x1="0" y1="0" x2="0" y2="1"><stop offset="0" stop-color="#f1f1ff"/><stop offset="0.117" stop-color="#efefff"/><stop offset="0.249" stop-color="#ebebff"/><stop offset="0.382" stop-color="#e5e5ff"/><stop offset="0.47" stop-color="#dedeff"/><stop offset="0.559" stop-color="#d4d4ff"/><stop offset="0.625" stop-color="#c4c4ff"/><stop offset="0.691" stop-color="#a6a6ff"/><stop offset="0.735" stop-color="#8888ff"/><stop offset="0.779" stop-color="#6666ff"/><stop offset="0.823" stop-color="#4444ff"/><stop offset="0.868" stop-color="#0000fc"/><stop offset="0.903" stop-color="#0000e3"/><stop offset="0.934" stop-color="#0000cf"/><stop offset="0.965" stop-color="#0000c6"/><stop offset="1" stop-color="#0000c2"/></linearGradient>
<linearGradient id="d61" x1="0" y1="0" x2="0" y2="1"><stop offset="0" stop-color="#f1f1ff"/><stop offset="0.117" stop-color="#f0f0ff"/><stop offset="0.249" stop-color="#ededff"/><stop offset="0.382" stop-color="#e7e7ff"/><stop offset="0.47" stop-color="#e2e2ff"/><stop offset="0.559" stop-color="#d9d9ff"/><stop offset="0.625" stop-color="#cacaff"/><stop offset="0.691" stop-color="#acacff"/><stop offset="0.735" stop-color="#8f8fff"/><stop offset="0.779" stop-color="#6e6eff"/><stop offset="0.823" stop-color="#4d4dff"/><stop offset="0.868" stop-color="#1515ff"/><stop offset="0.903" stop-color="#0000ee"/><stop offset="0.934" stop-color="#0000dc"/><stop offset="0.965" stop-color="#0000ce"/><stop offset="1" stop-color="#0000c5"/></linearGradient>
<linearGradient id="d62" x1="0" y1="0" x2="0" y2="1"><stop offset="0" stop-color="#f2f2ff"/><stop offset="0.117" stop-color="#f1f1ff"/><stop offset="0.249" stop-color="#efefff"/><stop offset="0.382" stop-color="#eaeaff"/><stop offset="0.47" stop-color="#e6e6ff"/><stop offset="0.559" stop-color="#dedeff"/><stop offset="0.625" stop-color="#d0d0ff"/><stop offset="0.691" stop-color="#b4b4ff"/><stop offset="0.735" stop-color="#9999ff"/><stop offset="0.779" stop-color="#7979ff"/><stop offset="0.823" stop-color="#5959ff"/><stop offset="0.868" stop-color="#3434ff"/><stop offset="0.903" stop-color="#0000fc"/><stop offset="0.934" stop-color="#0000eb"/><stop offset="0.965" stop-color="#0000de"/><stop offset="1" stop-color="#0000d6"/></linearGradient>
<linearGradient id="d63" x1="0" y1="0" x2="0" y2="1"><stop offset="0" stop-color="#f3f3ff"/><stop offset="0.117" stop-color="#f2f2ff"/><stop offset="0.249" stop-color="#f0f0ff"/><stop offset="0.382" stop-color="#ededff"/><stop offset="0.47" stop-color="#eaeaff"/><stop offset="0.559" stop-color="#e3e3ff"/><stop offset="0.625" stop-color="#d7d7ff"/><stop offset="0.691" stop-color="#bdbdff"/><stop offset="0.735" stop-color="#a3a3ff"/><stop offset="0.779" stop-color="#8585ff"/><stop offset="0.823" stop-color="#6666ff"/><stop offset="0.868" stop-color="#4a4aff"/><stop offset="0.903" stop-color="#2424ff"/><stop offset="0.934" stop-color="#0000fc"/><stop offset="0.965" stop-color="#0000f0"/><stop offset="1" stop-color="#0000e8"/></linearGradient>
<linearGradient id="d64" x1="0" y1="0" x2="0" y2="1"><stop offset="0" stop-color="#f3f3ff"/><stop offset="0.117" stop-color="#f3f3ff"/><stop offset="0.249" stop-color="#f2f2ff"/><stop offset="0.382" stop-color="#efefff"/><stop offset="0.47" stop-color="#ededff"/><stop offset="0.559" stop-color="#e8e8ff"/><stop offset="0.625" stop-color="#ddddff"/><stop offset="0.691" stop-color="#c4c4ff"/><stop offset="0.735" stop-color="#acacff"/><stop offset="0.779" stop-color="#9090ff"/><stop offset="0.823" stop-color="#7474ff"/><stop offset="0.868" stop-color="#5959ff"/><stop offset="0.903" stop-color="#4444ff"/><stop offset="0.934" stop-color="#2828ff"/><stop offset="0.965" stop-color="#0808ff"/><stop offset="1" stop-color="#0000fa"/></linearGradient>
<linearGradient id="d65" x1="0" y1="0" x2="0" y2="1"><stop offset="0" stop-color="#f3f3ff"/><stop offset="0.117" stop-color="#f3f3ff"/><stop offset="0.249" stop-color="#f2f2ff"/><stop offset="0.382" stop-color="#f1f1ff"/><stop offset="0.47" stop-color="#efefff"/><stop offset="0.559" stop-color="#ebebff"/><stop offset="0.625" stop-color="#e1e1ff"/><stop offset="0.691" stop-color="#cbcbff"/><stop offset="0.735" stop-color="#b4b4ff"/><stop offset="0.779" stop-color="#9a9aff"/><stop offset="0.823" stop-color="#7f7fff"/><stop offset="0.868" stop-color="#6666ff"/><stop offset="0.903" stop-color="#5353ff"/><stop offset="0.934" stop-color="#4242ff"/><stop offset="0.965" stop-color="#3030ff"/><stop offset="1" stop-color="#1d1dff"/></linearGradient>
<linearGradient id="d66" x1="0" y1="0" x2="0" y2="1"><stop offset="0" stop-color="#f3f3ff"/><stop offset="0.117" stop-color="#f3f3ff"/><stop offset="0.249" stop-color="#f2f2ff"/><stop offset="0.382" stop-color="#f1f1ff"/><stop offset="0.47" stop-color="#efefff"/><stop offset="0.559" stop-color="#ebebff"/><stop offset="0.625" stop-color="#e1e1ff"/><stop offset="0.691" stop-color="#cacaff"/><stop offset="0.735" stop-color="#b3b3ff"/><stop offset="0.779" stop-color="#9999ff"/><stop offset="0.823" stop-color="#7e7eff"/><stop offset="0.868" stop-color="#6464ff"/><stop offset="0.903" stop-color="#5151ff"/><stop offset="0.934" stop-color="#4040ff"/><stop offset="0.965" stop-color="#2f2fff"/><stop offset="1" stop-color="#1e1eff"/></linearGradient>
<linearGradient id="d67" x1="0" y1="0" x2="0" y2="1"><stop offset="0" stop-color="#f3f3ff"/><stop offset="0.117" stop-color="#f3f3ff"/><stop offset="0.249" stop-color="#f2f2ff"/><stop offset="0.382" stop-color="#f0f0ff"/><stop offset="0.47" stop-color="#eeeeff"/><stop offset="0.559" stop-color="#e9e9ff"/><stop offset="0.625" stop-color="#dfdfff"/><stop offset="0.691" stop-color="#c7c7ff"/><stop offset="0.735" stop-color="#b0b0ff"/><stop offset="0.779" stop-color="#9494ff"/><stop offset="0.823" stop-color="#7878ff"/><stop offset="0.868" stop-color="#5e5eff"/><stop offset="0.903" stop-color="#4a4aff"/><stop offset="0.934" stop-color="#3939ff"/><stop offset="0.965" stop-color="#2727ff"/><stop offset="1" stop-color="#1717ff"/></linearGradient>
<linearGradient id="d68" x1="0" y1="0" x2="0" y2="1"><stop offset="0" stop-color="#f3f3ff"/><stop offset="0.117" stop-color="#f2f2ff"/><stop offset="0.249" stop-color="#f1f1ff"/><stop offset="0.382" stop-color="#efefff"/><stop offset="0.47" stop-color="#ededff"/><stop offset="0.559" stop-color="#e7e7ff"/><stop offset="0.625" stop-color="#dcdcff"/><stop offset="0.691" stop-color="#c4c4ff"/><stop offset="0.735" stop-color="#ababff"/><stop offset="0.779" stop-color="#8f8fff"/><stop offset="0.823" stop-color="#7272ff"/><stop offset="0.868" stop-color="#5757ff"/><stop offset="0.903" stop-color="#4242ff"/><stop offset="0.934" stop-color="#2f2fff"/><stop offset="0.965" stop-color="#1616ff"/><stop offset="1" stop-color="#0202ff"/></linearGradient>
<linearGradient id="d69" x1="0" y1="0" x2="0" y2="1"><stop offset="0" stop-color="#f3f3ff"/><stop offset="0.117" stop-color="#f2f2ff"/><stop offset="0.249" stop-color="#f1f1ff"/><stop offset="0.382" stop-color="#eeeeff"/><stop offset="0.47" stop-color="#ebebff"/><stop offset="0.559" stop-color="#e5e5ff"/><stop offset="0.625" stop-color="#d9d9ff"/><stop offset="0.691" stop-color="#bfbfff"/><stop offset="0.735" stop-color="#a5a5ff"/><stop offset="0.779" stop-color="#8888ff"/><stop offset="0.823" stop-color="#6969ff"/><stop offset="0.868" stop-color="#4d4dff"/><stop offset="0.903" stop-color="#3333ff"/><stop offset="0.934" stop-color="#0f0fff"/><stop offset="0.965" stop-color="#0000f9"/><stop offset="1" stop-color="#0000f2"/></linearGradient>
<linearGradient id="d70" x1="0" y1="0" x2="0" y2="1"><stop offset="0" stop-color="#f2f2ff"/><stop offset="0.117" stop-color="#f2f2ff"/><stop offset="0.249" stop-color="#f0f0ff"/><stop offset="0.382" stop-color="#ececff"/><stop offset="0.47" stop-color="#e9e9ff"/><stop offset="0.559" stop-color="#e2e2ff"/><stop offset="0.625" stop-color="#d5d5ff"/><stop offset="0.691" stop-color="#babaff"/><stop offset="0.735" stop-color="#9f9fff"/><stop offset="0.779" stop-color="#8080ff"/><stop offset="0.823" stop-color="#6060ff"/><stop offset="0.868" stop-color="#4242ff"/><stop offset="0.903" stop-color="#1111ff"/><stop offset="0.934" stop-color="#0000f5"/><stop offset="0.965" stop-color="#0000e9"/><stop offset="1" stop-color="#0000e1"/></linearGradient>
<linearGradient id="d71" x1="0" y1="0" x2="0" y2="1"><stop offset="0" stop-color="#f2f2ff"/><stop offset="0.117" stop-color="#f1f1ff"/><stop offset="0.249" stop-color="#efefff"/><stop offset="0.382" stop-color="#eaeaff"/><stop offset="0.47" stop-color="#e6e6ff"/><stop offset="0.559" stop-color="#dedeff"/><stop offset="0.625" stop-color="#d0d0ff"/><stop offset="0.691" stop-color="#b4b4ff"/><stop offset="0.735" stop-color="#9797ff"/><stop offset="0.779" stop-color="#7777ff"/><stop offset="0.823" stop-color="#5656ff"/><stop offset="0.868" stop-color="#2929ff"/><stop offset="0.903" stop-color="#0000f7"/><stop offset="0.934" stop-color="#0000e6"/><stop offset="0.965" stop-color="#0000da"/><stop offset="1" stop-color="#0000d1"/></linearGradient>
<linearGradient id="d72" x1="0" y1="0" x2="0" y2="1"><stop offset="0" stop-color="#f1f1ff"/><stop offset="0.117" stop-color="#f0f0ff"/><stop offset="0.249" stop-color="#ededff"/><stop offset="0.382" stop-color="#e8e8ff"/><stop offset="0.47" stop-color="#e3e3ff"/><stop offset="0.559" stop-color="#dadaff"/><stop offset="0.625" stop-color="#cbcbff"/><stop offset="0.691" stop-color="#adadff"/><stop offset="0.735" stop-color="#9090ff"/><stop offset="0.779" stop-color="#6e6eff"/><stop offset="0.823" stop-color="#4d4dff"/><stop offset="0.868" stop-color="#0909ff"/><stop offset="0.903" stop-color="#0000ea"/><stop offset="0.934" stop-color="#0000d9"/><stop offset="0.965" stop-color="#0000cb"/><stop offset="1" stop-color="#0000c4"/></linearGradient>
<linearGradient id="d73" x1="0" y1="0" x2="0" y2="1"><stop offset="0" stop-color="#f1f1ff"/><stop offset="0.117" stop-color="#efefff"/><stop offset="0.249" stop-color="#ececff"/><stop offset="0.382" stop-color="#e6e6ff"/><stop offset="0.47" stop-color="#e0e0ff"/><stop offset="0.559" stop-color="#d6d6ff"/><stop offset="0.625" stop-color="#c6c6ff"/><stop offset="0.691" stop-color="#a7a7ff"/><stop offset="0.735" stop-color="#8989ff"/><stop offset="0.779" stop-color="#6666ff"/><stop offset="0.823" stop-color="#4343ff"/><stop offset="0.868" stop-color="#0000f8"/><stop offset="0.903" stop-color="#0000df"/><stop offset="0.934" stop-color="#0000cc"/><stop offset="0.965" stop-color="#0000c7"/><stop offset="1" stop-color="#0000c2"/></linearGradient>
<linearGradient id="d74" x1="0" y1="0" x2="0" y2="1"><stop offset="0" stop-color="#f0f0ff"/><stop offset="0.117" stop-color="#eeeeff"/><stop offset="0.249" stop-color="#eaeaff"/><stop offset="0.382" stop-color="#e3e3ff"/><stop offset="0.47" stop-color="#ddddff"/><stop offset="0.559" stop-color="#d2d2ff"/><stop offset="0.625" stop-color="#c2c2ff"/><stop offset="0.691" stop-color="#a1a1ff"/><stop offset="0.735" stop-color="#8282ff"/><stop offset="0.779" stop-color="#5f5fff"/><stop offset="0.823" stop-color="#3737ff"/><stop offset="0.868" stop-color="#0000f0"/><stop offset="0.903" stop-color="#0000d6"/><stop offset="0.934" stop-color="#0000c9"/><stop offset="0.965" stop-color="#0000bf"/><stop offset="1" stop-color="#0000ab"/></linearGradient>
<linearGradient id="d75" x1="0" y1="0" x2="0" y2="1"><stop offset="0" stop-color="#f0f0ff"/><stop offset="0.117" stop-color="#ededff"/><stop offset="0.249" stop-color="#e9e9ff"/><stop offset="0.382" stop-color="#e1e1ff"/><stop offset="0.47" stop-color="#dadaff"/><stop offset="0.559" stop-color="#cfcfff"/><stop offset="0.625" stop-color="#bebeff"/><stop offset="0.691" stop-color="#9d9dff"/><stop offset="0.735" stop-color="#7d7dff"/><stop offset="0.779" stop-color="#5959ff"/><stop offset="0.823" stop-color="#2c2cff"/><stop offset="0.868" stop-color="#0000eb"/><stop offset="0.903" stop-color="#0000d0"/><stop offset="0.934" stop-color="#0000c7"/><stop offset="0.965" stop-color="#0000a5"/><stop offset="1" stop-color="#000072"/></linearGradient>
<linearGradient id="d76" x1="0" y1="0" x2="0" y2="1"><stop offset="0" stop-color="#efefff"/><stop offset="0.117" stop-color="#ececff"/><stop offset="0.249" stop-color="#e8e8ff"/><stop offset="0.382" stop-color="#e0e0ff"/><stop offset="0.47" stop-color="#d8d8ff"/><stop offset="0.559" stop-color="#cdcdff"/><stop offset="0.625" stop-color="#bcbcff"/><stop offset="0.691" stop-color="#9a9aff"/><stop offset="0.735" stop-color="#7a7aff"/><stop offset="0.779" stop-color="#5555ff"/><stop offset="0.823" stop-color="#2626ff"/><stop offset="0.868" stop-color="#0000e8"/><stop offset="0.903" stop-color="#0000cd"/><stop offset="0.934" stop-color="#0000c4"/><stop offset="0.965" stop-color="#00008e"/><stop offset="1" stop-color="#000041"/></linearGradient>
<linearGradient id="d77" x1="0" y1="0" x2="0" y2="1"><stop offset="0" stop-color="#efefff"/><stop offset="0.117" stop-color="#ececff"/><stop offset="0.249" stop-color="#e7e7ff"/><stop offset="0.382" stop-color="#dfdfff"/><stop offset="0.47" stop-color="#d8d8ff"/><stop offset="0.559" stop-color="#ccccff"/><stop offset="0.625" stop-color="#bbbbff"/><stop offset="0.691" stop-color="#9999ff"/><stop offset="0.735" stop-color="#7878ff"/><stop offset="0.779" stop-color="#5353ff"/><stop offset="0.823" stop-color="#2525ff"/><stop offset="0.868" stop-color="#0000e8"/><stop offset="0.903" stop-color="#0000cd"/><stop offset="0.934" stop-color="#0000c4"/><stop offset="0.965" stop-color="#000097"/><stop offset="1" stop-color="#000056"/></linearGradient>
<linearGradient id="d78" x1="0" y1="0" x2="0" y2="1"><stop offset="0" stop-color="#efefff"/><stop offset="0.117" stop-color="#ececff"/><stop offset="0.249" stop-color="#e7e7ff"/><stop offset="0.382" stop-color="#e0e0ff"/><stop offset="0.47" stop-color="#d8d8ff"/><stop offset="0.559" stop-color="#cdcdff"/><stop offset="0.625" stop-color="#bbbbff"/><stop offset="0.691" stop-color="#9999ff"/><stop offset="0.735" stop-color="#7979ff"/><stop offset="0.779" stop-color="#5454ff"/><stop offset="0.823" stop-color="#2929ff"/><stop offset="0.868" stop-color="#0000eb"/><stop offset="0.903" stop-color="#0000d0"/><stop offset="0.934" stop-color="#0000c5"/><stop offset="0.965" stop-color="#0000b3"/><stop offset="1" stop-color="#000093"/></linearGradient>
<linearGradient id="d79" x1="0" y1="0" x2="0" y2="1"><stop offset="0" stop-color="#efefff"/><stop offset="0.117" stop-color="#ededff"/><stop offset="0.249" stop-color="#e8e8ff"/><stop offset="0.382" stop-color="#e1e1ff"/><stop offset="0.47" stop-color="#dadaff"/><stop offset="0.559" stop-color="#cfcfff"/><stop offset="0.625" stop-color="#bebeff"/><stop offset="0.691" stop-color="#9c9cff"/><stop offset="0.735" stop-color="#7c7cff"/><stop offset="0.779" stop-color="#5858ff"/><stop offset="0.823" stop-color="#3232ff"/><stop offset="0.868" stop-color="#0000f1"/><stop offset="0.903" stop-color="#0000d7"/><stop offset="0.934" stop-color="#0000c6"/><stop offset="0.965" stop-color="#0000c2"/><stop offset="1" stop-color="#0000b9"/></linearGradient>
<linearGradient id="d80" x1="0" y1="0" x2="0" y2="1"><stop offset="0" stop-color="#f0f0ff"/><stop offset="0.117" stop-color="#eeeeff"/><stop offset="0.249" stop-color="#eaeaff"/><stop offset="0.382" stop-color="#e3e3ff"/><stop offset="0.47" stop-color="#ddddff"/><stop offset="0.559" stop-color="#d2d2ff"/><stop offset="0.625" stop-color="#c2c2ff"/><stop offset="0.691" stop-color="#a2a2ff"/><stop offset="0.735" stop-color="#8282ff"/><stop offset="0.779" stop-color="#5f5fff"/><stop offset="0.823" stop-color="#3b3bff"/><stop offset="0.868" stop-color="#0000f9"/><stop offset="0.903" stop-color="#0000e1"/><stop offset="0.934" stop-color="#0000ce"/><stop offset="0.965" stop-color="#0000c3"/><stop offset="1" stop-color="#0000be"/></linearGradient>
<linearGradient id="d81" x1="0" y1="0" x2="0" y2="1"><stop offset="0" stop-color="#f1f1ff"/><stop offset="0.117" stop-color="#efefff"/><stop offset="0.249" stop-color="#ececff"/><stop offset="0.382" stop-color="#e6e6ff"/><stop offset="0.47" stop-color="#e1e1ff"/><stop offset="0.559" stop-color="#d7d7ff"/><stop offset="0.625" stop-color="#c8c8ff"/><stop offset="0.691" stop-color="#a8a8ff"/><stop offset="0.735" stop-color="#8a8aff"/><stop offset="0.779" stop-color="#6868ff"/><stop offset="0.823" stop-color="#4646ff"/><stop offset="0.868" stop-color="#0e0eff"/><stop offset="0.903" stop-color="#0000ed"/><stop offset="0.934" stop-color="#0000dc"/><stop offset="0.965" stop-color="#0000cf"/><stop offset="1" stop-color="#0000c6"/></linearGradient>
<linearGradient id="d82" x1="0" y1="0" x2="0" y2="1"><stop offset="0" stop-color="#f2f2ff"/><stop offset="0.117" stop-color="#f0f0ff"/><stop offset="0.249" stop-color="#eeeeff"/><stop offset="0.382" stop-color="#e9e9ff"/><stop offset="0.47" stop-color="#e5e5ff"/><stop offset="0.559" stop-color="#dcdcff"/><stop offset="0.625" stop-color="#ceceff"/><stop offset="0.691" stop-color="#b1b1ff"/><stop offset="0.735" stop-color="#9494ff"/><stop offset="0.779" stop-color="#7373ff"/><stop offset="0.823" stop-color="#5252ff"/><stop offset="0.868" stop-color="#2e2eff"/><stop offset="0.903" stop-color="#0000fb"/><stop offset="0.934" stop-color="#0000eb"/><stop offset="0.965" stop-color="#0000df"/><stop offset="1" stop-color="#0000d7"/></linearGradient>
<linearGradient id="d83" x1="0" y1="0" x2="0" y2="1"><stop offset="0" stop-color="#f2f2ff"/><stop offset="0.117" stop-color="#f2f2ff"/><stop offset="0.249" stop-color="#f0f0ff"/><stop offset="0.382" stop-color="#ececff"/><stop offset="0.47" stop-color="#e9e9ff"/><stop offset="0.559" stop-color="#e2e2ff"/><stop offset="0.625" stop-color="#d5d5ff"/><stop offset="0.691" stop-color="#babaff"/><stop offset="0.735" stop-color="#9f9fff"/><stop offset="0.779" stop-color="#7f7fff"/><stop offset="0.823" stop-color="#6060ff"/><stop offset="0.868" stop-color="#4343ff"/><stop offset="0.903" stop-color="#2020ff"/><stop offset="0.934" stop-color="#0000fc"/><stop offset="0.965" stop-color="#0000f0"/><stop offset="1" stop-color="#0000e9"/></linearGradient>
<linearGradient id="d84" x1="0" y1="0" x2="0" y2="1"><stop offset="0" stop-color="#f3f3ff"/><stop offset="0.117" stop-color="#f2f2ff"/><stop offset="0.249" stop-color="#f1f1ff"/><stop offset="0.382" stop-color="#efefff"/><stop offset="0.47" stop-color="#ececff"/><stop offset="0.559" stop-color="#e7e7ff"/><stop offset="0.625" stop-color="#dbdbff"/><stop offset="0.691" stop-color="#c2c2ff"/><stop offset="0.735" stop-color="#a9a9ff"/><stop offset="0.779" stop-color="#8c8cff"/><stop offset="0.823" stop-color="#6e6eff"/><stop offset="0.868" stop-color="#5353ff"/><stop offset="0.903" stop-color="#3e3eff"/><stop offset="0.934" stop-color="#2525ff"/><stop offset="0.965" stop-color="#0707ff"/><stop offset="1" stop-color="#0000fa"/></linearGradient>
<linearGradient id="d85" x1="0" y1="0" x2="0" y2="1"><stop offset="0" stop-color="#f3f3ff"/><stop offset="0.117" stop-color="#f3f3ff"/><stop offset="0.249" stop-color="#f2f2ff"/><stop offset="0.382" stop-color="#f1f1ff"/><stop offset="0.47" stop-color="#efefff"/><stop offset="0.559" stop-color="#eaeaff"/><stop offset="0.625" stop-color="#e0e0ff"/><stop offset="0.691" stop-color="#c9c9ff"/><stop offset="0.735" stop-color="#b2b2ff"/><stop offset="0.779" stop-color="#9797ff"/><stop offset="0.823" stop-color="#7b7bff"/><stop offset="0.868" stop-color="#6161ff"/><stop offset="0.903" stop-color="#4e4eff"/><stop offset="0.934" stop-color="#3d3dff"/><stop offset="0.965" stop-color="#2b2bff"/><stop offset="1" stop-color="#1a1aff"/></linearGradient>
<linearGradient id="d86" x1="0" y1="0" x2="0" y2="1"><stop offset="0" stop-color="#f3f3ff"/><stop offset="0.117" stop-color="#f3f3ff"/><stop offset="0.249" stop-color="#f2f2ff"/><stop offset="0.382" stop-color="#f1f1ff"/><stop offset="0.47" stop-color="#efefff"/><stop offset="0.559" stop-color="#ebebff"/><stop offset="0.625" stop-color="#e0e0ff"/><stop offset="0.691" stop-color="#c9c9ff"/><stop offset="0.735" stop-color="#b2b2ff"/><stop offset="0.779" stop-color="#9797ff"/><stop offset="0.823" stop-color="#7c7cff"/><stop offset="0.868" stop-color="#6262ff"/><stop offset="0.903" stop-color="#4f4fff"/><stop offset="0.934" stop-color="#3e3eff"/><stop offset="0.965" stop-color="#2d2dff"/><stop offset="1" stop-color="#1c1cff"/></linearGradient>
<linearGradient id="d87" x1="0" y1="0" x2="0" y2="1"><stop offset="0" stop-color="#f3f3ff"/><stop offset="0.117" stop-color="#f3f3ff"/><stop offset="0.249" stop-color="#f2f2ff"/><stop offset="0.382" stop-color="#f0f0ff"/><stop offset="0.47" stop-color="#eeeeff"/><stop offset="0.559" stop-color="#e9e9ff"/><stop offset="0.625" stop-color="#dfdfff"/><stop offset="0.691" stop-color="#c7c7ff"/><stop offset="0.735" stop-color="#afafff"/><stop offset="0.779" stop-color="#9494ff"/><stop offset="0.823" stop-color="#7878ff"/><stop offset="0.868" stop-color="#5d5dff"/><stop offset="0.903" stop-color="#4a4aff"/><stop offset="0.934" stop-color="#3838ff"/><stop offset="0.965" stop-color="#2727ff"/><stop offset="1" stop-color="#1616ff"/></linearGradient>
<linearGradient id="d88" x1="0" y1="0" x2="0" y2="1"><stop offset="0" stop-color="#f3f3ff"/><stop offset="0.117" stop-color="#f2f2ff"/><stop offset="0.249" stop-color="#f1f1ff"/><stop offset="0.382" stop-color="#efefff"/><stop offset="0.47" stop-color="#ededff"/><stop offset="0.559" stop-color="#e8e8ff"/><stop offset="0.625" stop-color="#dcdcff"/><stop offset="0.691" stop-color="#c4c4ff"/><stop offset="0.735" stop-color="#ababff"/><stop offset="0.779" stop-color="#8f8fff"/><stop offset="0.823" stop-color="#7272ff"/><stop offset="0.868" stop-color="#5757ff"/><stop offset="0.903" stop-color="#4242ff"/><stop offset="0.934" stop-color="#3131ff"/><stop offset="0.965" stop-color="#1f1fff"/><stop offset="1" stop-color="#0e0eff"/></linearGradient>
<linearGradient id="d89" x1="0" y1="0" x2="0" y2="1"><stop offset="0" stop-color="#f3f3ff"/><stop offset="0.117" stop-color="#f2f2ff"/><stop offset="0.249" stop-color="#f1f1ff"/><stop offset="0.382" stop-color="#eeeeff"/><stop offset="0.47" stop-color="#ebebff"/><stop offset="0.559" stop-color="#e5e5ff"/><stop offset="0.625" stop-color="#d9d9ff"/><stop offset="0.691" stop-color="#c0c0ff"/><stop offset="0.735" stop-color="#a6a6ff"/><stop offset="0.779" stop-color="#8888ff"/><stop offset="0.823" stop-color="#6b6bff"/><stop offset="0.868" stop-color="#4f4fff"/><stop offset="0.903" stop-color="#3a3aff"/><stop offset="0.934" stop-color="#2828ff"/><stop offset="0.965" stop-color="#1111ff"/><stop offset="1" stop-color="#0000fe"/></linearGradient>
<linearGradient id="d90" x1="0" y1="0" x2="0" y2="1"><stop offset="0" stop-color="#f2f2ff"/><stop offset="0.117" stop-color="#f2f2ff"/><stop offset="0.249" stop-color="#f0f0ff"/><stop offset="0.382" stop-color="#ededff"/><stop offset="0.47" stop-color="#e9e9ff"/><stop offset="0.559" stop-color="#e2e2ff"/><stop offset="0.625" stop-color="#d6d6ff"/><stop offset="0.691" stop-color="#bbbbff"/><stop offset="0.735" stop-color="#a0a0ff"/><stop offset="0.779" stop-color="#8181ff"/><stop offset="0.823" stop-color="#6262ff"/><stop offset="0.868" stop-color="#4646ff"/><stop offset="0.903" stop-color="#2e2eff"/><stop offset="0.934" stop-color="#0909ff"/><stop offset="0.965" stop-color="#0000f6"/><stop offset="1" stop-color="#0000ee"/></linearGradient>
<linearGradient id="d91" x1="0" y1="0" x2="0" y2="1"><stop offset="0" stop-color="#f2f2ff"/><stop offset="0.117" stop-color="#f1f1ff"/><stop offset="0.249" stop-color="#efefff"/><stop offset="0.382" stop-color="#ebebff"/><stop offset="0.47" stop-color="#e7e7ff"/><stop offset="0.559" stop-color="#dfdfff"/><stop offset="0.625" stop-color="#d1d1ff"/><stop offset="0.691" stop-color="#b5b5ff"/><stop offset="0.735" stop-color="#9a9aff"/><stop offset="0.779" stop-color="#7a7aff"/><stop offset="0.823" stop-color="#5a5aff"/><stop offset="0.868" stop-color="#3c3cff"/><stop offset="0.903" stop-color="#0d0dff"/><stop offset="0.934" stop-color="#0000f2"/><stop offset="0.965" stop-color="#0000e4"/><stop offset="1" stop-color="#0000db"/></linearGradient>
<linearGradient id="d92" x1="0" y1="0" x2="0" y2="1"><stop offset="0" stop-color="#f2f2ff"/><stop offset="0.117" stop-color="#f0f0ff"/><stop offset="0.249" stop-color="#ededff"/><stop offset="0.382" stop-color="#e9e9ff"/><stop offset="0.47" stop-color="#e4e4ff"/><stop offset="0.559" stop-color="#dbdbff"/><stop offset="0.625" stop-color="#cdcdff"/><stop offset="0.691" stop-color="#afafff"/><stop offset="0.735" stop-color="#9393ff"/><stop offset="0.779" stop-color="#7272ff"/><stop offset="0.823" stop-color="#5151ff"/><stop offset="0.868" stop-color="#2b2bff"/><stop offset="0.903" stop-color="#0000f6"/><stop offset="0.934" stop-color="#0000e2"/><stop offset="0.965" stop-color="#0000d3"/><stop offset="1" stop-color="#0000ca"/></linearGradient>
<linearGradient id="d93" x1="0" y1="0" x2="0" y2="1"><stop offset="0" stop-color="#f1f1ff"/><stop offset="0.117" stop-color="#efefff"/><stop offset="0.249" stop-color="#ececff"/><stop offset="0.382" stop-color="#e6e6ff"/><stop offset="0.47" stop-color="#e1e1ff"/><stop offset="0.559" stop-color="#d8d8ff"/><stop offset="0.625" stop-color="#c8c8ff"/><stop offset="0.691" stop-color="#aaaaff"/><stop offset="0.735" stop-color="#8c8cff"/><stop offset="0.779" stop-color="#6a6aff"/><stop offset="0.823" stop-color="#4848ff"/><stop offset="0.868" stop-color="#1111ff"/><stop offset="0.903" stop-color="#0000ea"/><stop offset="0.934" stop-color="#0000d5"/><stop offset="0.965" stop-color="#0000c9"/><stop offset="1" stop-color="#0000c3"/></linearGradient>
<linearGradient id="d94" x1="0" y1="0" x2="0" y2="1"><stop offset="0" stop-color="#f0f0ff"/><stop offset="0.117" stop-color="#eeeeff"/><stop offset="0.249" stop-color="#eaeaff"/><stop offset="0.382" stop-color="#e4e4ff"/><stop offset="0.47" stop-color="#dedeff"/><stop offset="0.559" stop-color="#d4d4ff"/><stop offset="0.625" stop-color="#c4c4ff"/><stop offset="0.691" stop-color="#a5a5ff"/><stop offset="0.735" stop-color="#8686ff"/><stop offset="0.779" stop-color="#6464ff"/><stop offset="0.823" stop-color="#4141ff"/><stop offset="0.868" stop-color="#0000fd"/><stop offset="0.903" stop-color="#0000e0"/><stop offset="0.934" stop-color="#0000cd"/><stop offset="0.965" stop-color="#0000c2"/><stop offset="1" stop-color="#0000ad"/></linearGradient>
<linearGradient id="d95" x1="0" y1="0" x2="0" y2="1"><stop offset="0" stop-color="#f0f0ff"/><stop offset="0.117" stop-color="#ededff"/><stop offset="0.249" stop-color="#e9e9ff"/><stop offset="0.382" stop-color="#e2e2ff"/><stop offset="0.47" stop-color="#dbdbff"/><stop offset="0.559" stop-color="#d1d1ff"/><stop offset="0.625" stop-color="#c1c1ff"/><stop offset="0.691" stop-color="#a0a0ff"/><stop offset="0.735" stop-color="#8181ff"/><stop offset="0.779" stop-color="#5e5eff"/><stop offset="0.823" stop-color="#3b3bff"/><stop offset="0.868" stop-color="#0000f8"/><stop offset="0.903" stop-color="#0000da"/><stop offset="0.934" stop-color="#0000cb"/><stop offset="0.965" stop-color="#0000b0"/><stop offset="1" stop-color="#000087"/></linearGradient>
<linearGradient id="d96" x1="0" y1="0" x2="0" y2="1"><stop offset="0" stop-color="#efefff"/><stop offset="0.117" stop-color="#ededff"/><stop offset="0.249" stop-color="#e8e8ff"/><stop offset="0.382" stop-color="#e1e1ff"/><stop offset="0.47" stop-color="#dadaff"/><stop offset="0.559" stop-color="#cfcfff"/><stop offset="0.625" stop-color="#bebeff"/><stop offset="0.691" stop-color="#9e9eff"/><stop offset="0.735" stop-color="#7e7eff"/><stop offset="0.779" stop-color="#5b5bff"/><stop offset="0.823" stop-color="#3737ff"/><stop offset="0.868" stop-color="#0000f6"/><stop offset="0.903" stop-color="#0000d8"/><stop offset="0.934" stop-color="#0000c9"/><stop offset="0.965" stop-color="#0000ab"/><stop offset="1" stop-color="#00007b"/></linearGradient>
<linearGradient id="d97" x1="0" y1="0" x2="0" y2="1"><stop offset="0" stop-color="#efefff"/><stop offset="0.117" stop-color="#ececff"/><stop offset="0.249" stop-color="#e8e8ff"/><stop offset="0.382" stop-color="#e0e0ff"/><stop offset="0.47" stop-color="#d9d9ff"/><stop offset="0.559" stop-color="#ceceff"/><stop offset="0.625" stop-color="#bdbdff"/><stop offset="0.691" stop-color="#9c9cff"/><stop offset="0.735" stop-color="#7d7dff"/><stop offset="0.779" stop-color="#5959ff"/><stop offset="0.823" stop-color="#3636ff"/><stop offset="0.868" stop-color="#0000f7"/><stop offset="0.903" stop-color="#0000db"/><stop offset="0.934" stop-color="#0000c9"/><stop offset="0.965" stop-color="#0000b8"/><stop offset="1" stop-color="#000099"/></linearGradient>
<linearGradient id="d98" x1="0" y1="0" x2="0" y2="1"><stop offset="0" stop-color="#efefff"/><stop offset="0.117" stop-color="#ededff"/><stop offset="0.249" stop-color="#e8e8ff"/><stop offset="0.382" stop-color="#e0e0ff"/><stop offset="0.47" stop-color="#d9d9ff"/><stop offset="0.559" stop-color="#ceceff"/><stop offset="0.625" stop-color="#bebeff"/><stop offset="0.691" stop-color="#9d9dff"/><stop offset="0.735" stop-color="#7e7eff"/><stop offset="0.779" stop-color="#5a5aff"/><stop offset="0.823" stop-color="#3737ff"/><stop offset="0.868" stop-color="#0000fc"/><stop offset="0.903" stop-color="#0000e1"/><stop offset="0.934" stop-color="#0000cb"/><stop offset="0.965" stop-color="#0000c3"/><stop offset="1" stop-color="#0000b8"/></linearGradient>
<linearGradient id="d99" x1="0" y1="0" x2="0" y2="1"><stop offset="0" stop-color="#f0f0ff"/><stop offset="0.117" stop-color="#ededff"/><stop offset="0.249" stop-color="#e9e9ff"/><stop offset="0.382" stop-color="#e2e2ff"/><stop offset="0.47" stop-color="#dbdbff"/><stop offset="0.559" stop-color="#d0d0ff"/><stop offset="0.625" stop-color="#c0c0ff"/><stop offset="0.691" stop-color="#a0a0ff"/><stop offset="0.735" stop-color="#8181ff"/><stop offset="0.779" stop-color="#5e5eff"/><stop offset="0.823" stop-color="#3b3bff"/><stop offset="0.868" stop-color="#0d0dff"/><stop offset="0.903" stop-color="#0000ea"/><stop offset="0.934" stop-color="#0000d6"/><stop offset="0.965" stop-color="#0000c7"/><stop offset="1" stop-color="#0000bf"/></linearGradient>
<linearGradient id="d100" x1="0" y1="0" x2="0" y2="1"><stop offset="0" stop-color="#f0f0ff"/><stop offset="0.117" stop-color="#eeeeff"/><stop offset="0.249" stop-color="#eaeaff"/><stop offset="0.382" stop-color="#e4e4ff"/><stop offset="0.47" stop-color="#dedeff"/><stop offset="0.559" stop-color="#d4d4ff"/><stop offset="0.625" stop-color="#c4c4ff"/><stop offset="0.691" stop-color="#a4a4ff"/><stop offset="0.735" stop-color="#8686ff"/><stop offset="0.779" stop-color="#6464ff"/><stop offset="0.823" stop-color="#4242ff"/><stop offset="0.868" stop-color="#2121ff"/><stop offset="0.903" stop-color="#0000f7"/><stop offset="0.934" stop-color="#0000e4"/><stop offset="0.965" stop-color="#0000d6"/><stop offset="1" stop-color="#0000cd"/></linearGradient>
<linearGradient id="d101" x1="0" y1="0" x2="0" y2="1"><stop offset="0" stop-color="#f1f1ff"/><stop offset="0.117" stop-color="#efefff"/><stop offset="0.249" stop-color="#ececff"/><stop offset="0.382" stop-color="#e7e7ff"/><stop offset="0.47" stop-color="#e1e1ff"/><stop offset="0.559" stop-color="#d8d8ff"/><stop offset="0.625" stop-color="#c9c9ff"/><stop offset="0.691" stop-color="#ababff"/><stop offset="0.735" stop-color="#8e8eff"/><stop offset="0.779" stop-color="#6c6cff"/><stop offset="0.823" stop-color="#4b4bff"/><stop offset="0.868" stop-color="#2d2dff"/><stop offset="0.903" stop-color="#0d0dff"/><stop offset="0.934" stop-color="#0000f5"/><stop offset="0.965" stop-color="#0000e7"/><stop offset="1" stop-color="#0000df"/></linearGradient>
<linearGradient id="d102" x1="0" y1="0" x2="0" y2="1"><stop offset="0" stop-color="#f2f2ff"/><stop offset="0.117" stop-color="#f1f1ff"/><stop offset="0.249" stop-color="#eeeeff"/><stop offset="0.382" stop-color="#eaeaff"/><stop offset="0.47" stop-color="#e5e5ff"/><stop offset="0.559" stop-color="#ddddff"/><stop offset="0.625" stop-color="#cfcfff"/><stop offset="0.691" stop-color="#b3b3ff"/><stop offset="0.735" stop-color="#9797ff"/><stop offset="0.779" stop-color="#7777ff"/><stop offset="0.823" stop-color="#5757ff"/><stop offset="0.868" stop-color="#3939ff"/><stop offset="0.903" stop-color="#2323ff"/><stop offset="0.934" stop-color="#0c0cff"/><stop offset="0.965" stop-color="#0000f9"/><stop offset="1" stop-color="#0000f2"/></linearGradient>
<linearGradient id="d103" x1="0" y1="0" x2="0" y2="1"><stop offset="0" stop-color="#f2f2ff"/><stop offset="0.117" stop-color="#f2f2ff"/><stop offset="0.249" stop-color="#f0f0ff"/><stop offset="0.382" stop-color="#ededff"/><stop offset="0.47" stop-color="#e9e9ff"/><stop offset="0.559" stop-color="#e2e2ff"/><stop offset="0.625" stop-color="#d5d5ff"/><stop offset="0.691" stop-color="#bbbbff"/><stop offset="0.735" stop-color="#a1a1ff"/><stop offset="0.779" stop-color="#8282ff"/><stop offset="0.823" stop-color="#6464ff"/><stop offset="0.868" stop-color="#4747ff"/><stop offset="0.903" stop-color="#3232ff"/><stop offset="0.934" stop-color="#2020ff"/><stop offset="0.965" stop-color="#0e0eff"/><stop offset="1" stop-color="#0000fe"/></linearGradient>
<linearGradient id="d104" x1="0" y1="0" x2="0" y2="1"><stop offset="0" stop-color="#f3f3ff"/><stop offset="0.117" stop-color="#f2f2ff"/><stop offset="0.249" stop-color="#f1f1ff"/><stop offset="0.382" stop-color="#efefff"/><stop offset="0.47" stop-color="#ececff"/><stop offset="0.559" stop-color="#e7e7ff"/><stop offset="0.625" stop-color="#dbdbff"/><stop offset="0.691" stop-color="#c3c3ff"/><stop offset="0.735" stop-color="#aaaaff"/><stop offset="0.779" stop-color="#8e8eff"/><stop offset="0.823" stop-color="#7171ff"/><stop offset="0.868" stop-color="#5656ff"/><stop offset="0.903" stop-color="#4242ff"/><stop offset="0.934" stop-color="#3030ff"/><stop offset="0.965" stop-color="#1e1eff"/><stop offset="1" stop-color="#0d0dff"/></linearGradient>
<linearGradient id="d105" x1="0" y1="0" x2="0" y2="1"><stop offset="0" stop-color="#f3f3ff"/><stop offset="0.117" stop-color="#f3f3ff"/><stop offset="0.249" stop-color="#f2f2ff"/><stop offset="0.382" stop-color="#f1f1ff"/><stop offset="0.47" stop-color="#efefff"/><stop offset="0.559" stop-color="#ebebff"/><stop offset="0.625" stop-color="#e1e1ff"/><stop offset="0.691" stop-color="#cacaff"/><stop offset="0.735" stop-color="#b3b3ff"/><stop offset="0.779" stop-color="#9999ff"/><stop offset="0.823" stop-color="#7e7eff"/><stop offset="0.868" stop-color="#6464ff"/><stop offset="0.903" stop-color="#5151ff"/><stop offset="0.934" stop-color="#4040ff"/><stop offset="0.965" stop-color="#2f2fff"/><stop offset="1" stop-color="#1e1eff"/></linearGradient>
<linearGradient id="d106" x1="0" y1="0" x2="0" y2="1"><stop offset="0" stop-color="#f3f3ff"/><stop offset="0.117" stop-color="#f3f3ff"/><stop offset="0.249" stop-color="#f2f2ff"/><stop offset="0.382" stop-color="#f1f1ff"/><stop offset="0.47" stop-color="#efefff"/><stop offset="0.559" stop-color="#ebebff"/><stop offset="0.625" stop-color="#e1e1ff"/><stop offset="0.691" stop-color="#cbcbff"/><stop offset="0.735" stop-color="#b5b5ff"/><stop offset="0.779" stop-color="#9b9bff"/><stop offset="0.823" stop-color="#8080ff"/><stop offset="0.868" stop-color="#6767ff"/><stop offset="0.903" stop-color="#5454ff"/><stop offset="0.934" stop-color="#4343ff"/><stop offset="0.965" stop-color="#3232ff"/><stop offset="1" stop-color="#2121ff"/></linearGradient>
<linearGradient id="d107" x1="0" y1="0" x2="0" y2="1"><stop offset="0" stop-color="#f3f3ff"/><stop offset="0.117" stop-color="#f3f3ff"/><stop offset="0.249" stop-color="#f2f2ff"/><stop offset="0.382" stop-color="#f1f1ff"/><stop offset="0.47" stop-color="#efefff"/><stop offset="0.559" stop-color="#eaeaff"/><stop offset="0.625" stop-color="#e0e0ff"/><stop offset="0.691" stop-color="#c9c9ff"/><stop offset="0.735" stop-color="#b2b2ff"/><stop offset="0.779" stop-color="#9898ff"/><stop offset="0.823" stop-color="#7c7cff"/><stop offset="0.868" stop-color="#6363ff"/><stop offset="0.903" stop-color="#4f4fff"/><stop offset="0.934" stop-color="#3e3eff"/><stop offset="0.965" stop-color="#2d2dff"/><stop offset="1" stop-color="#1c1cff"/></linearGradient>
<linearGradient id="d108" x1="0" y1="0" x2="0" y2="1"><stop offset="0" stop-color="#f3f3ff"/><stop offset="0.117" stop-color="#f3f3ff"/><stop offset="0.249" stop-color="#f2f2ff"/><stop offset="0.382" stop-color="#f0f0ff"/><stop offset="0.47" stop-color="#ededff"/><stop offset="0.559" stop-color="#e8e8ff"/><stop offset="0.625" stop-color="#dedeff"/><stop offset="0.691" stop-color="#c6c6ff"/><stop offset="0.735" stop-color="#aeaeff"/><stop offset="0.779" stop-color="#9393ff"/><stop offset="0.823" stop-color="#7777ff"/><stop offset="0.868" stop-color="#5d5dff"/><stop offset="0.903" stop-color="#4949ff"/><stop offset="0.934" stop-color="#3737ff"/><stop offset="0.965" stop-color="#2626ff"/><stop offset="1" stop-color="#1515ff"/></linearGradient>
<linearGradient id="d109" x1="0" y1="0" x2="0" y2="1"><stop offset="0" stop-color="#f3f3ff"/><stop offset="0.117" stop-color="#f2f2ff"/><stop offset="0.249" stop-color="#f1f1ff"/><stop offset="0.382" stop-color="#efefff"/><stop offset="0.47" stop-color="#ececff"/><stop offset="0.559" stop-color="#e6e6ff"/><stop offset="0.625" stop-color="#dbdbff"/><stop offset="0.691" stop-color="#c2c2ff"/><stop offset="0.735" stop-color="#aaaaff"/><stop offset="0.779" stop-color="#8d8dff"/><stop offset="0.823" stop-color="#7171ff"/><stop offset="0.868" stop-color="#5656ff"/><stop offset="0.903" stop-color="#4141ff"/><stop offset="0.934" stop-color="#2f2fff"/><stop offset="0.965" stop-color="#1d1dff"/><stop offset="1" stop-color="#0c0cff"/></linearGradient>
<linearGradient id="d110" x1="0" y1="0" x2="0" y2="1"><stop offset="0" stop-color="#f3f3ff"/><stop offset="0.117" stop-color="#f2f2ff"/><stop offset="0.249" stop-color="#f0f0ff"/><stop offset="0.382" stop-color="#ededff"/><stop offset="0.47" stop-color="#eaeaff"/><stop offset="0.559" stop-color="#e4e4ff"/><stop offset="0.625" stop-color="#d7d7ff"/><stop offset="0.691" stop-color="#bebeff"/><stop offset="0.735" stop-color="#a4a4ff"/><stop offset="0.779" stop-color="#8787ff"/><stop offset="0.823" stop-color="#6969ff"/><stop offset="0.868" stop-color="#4e4eff"/><stop offset="0.903" stop-color="#3939ff"/><stop offset="0.934" stop-color="#2727ff"/><stop offset="0.965" stop-color="#1414ff"/><stop offset="1" stop-color="#0303ff"/></linearGradient>
<linearGradient id="d111" x1="0" y1="0" x2="0" y2="1"><stop offset="0" stop-color="#f2f2ff"/><stop offset="0.117" stop-color="#f1f1ff"/><stop offset="0.249" stop-color="#efefff"/><stop offset="0.382" stop-color="#ececff"/><stop offset="0.47" stop-color="#e8e8ff"/><stop offset="0.559" stop-color="#e0e0ff"/><stop offset="0.625" stop-color="#d4d4ff"/><stop offset="0.691" stop-color="#b9b9ff"/><stop offset="0.735" stop-color="#9e9eff"/><stop offset="0.779" stop-color="#8080ff"/><stop offset="0.823" stop-color="#6161ff"/><stop offset="0.868" stop-color="#4545ff"/><stop offset="0.903" stop-color="#3030ff"/><stop offset="0.934" stop-color="#1d1dff"/><stop offset="0.965" stop-color="#0505ff"/><stop offset="1" stop-color="#0000f9"/></linearGradient>
<linearGradient id="d112" x1="0" y1="0" x2="0" y2="1"><stop offset="0" stop-color="#f2f2ff"/><stop offset="0.117" stop-color="#f1f1ff"/><stop offset="0.249" stop-color="#eeeeff"/><stop offset="0.382" stop-color="#eaeaff"/><stop offset="0.47" stop-color="#e5e5ff"/><stop offset="0.559" stop-color="#ddddff"/><stop offset="0.625" stop-color="#cfcfff"/><stop offset="0.691" stop-color="#b4b4ff"/><stop offset="0.735" stop-color="#9898ff"/><stop offset="0.779" stop-color="#7979ff"/><stop offset="0.823" stop-color="#5959ff"/><stop offset="0.868" stop-color="#3c3cff"/><stop offset="0.903" stop-color="#2727ff"/><stop offset="0.934" stop-color="#0000fd"/><stop offset="0.965" stop-color="#0000ec"/><stop offset="1" stop-color="#0000e1"/></linearGradient>
<linearGradient id="d113" x1="0" y1="0" x2="0" y2="1"><stop offset="0" stop-color="#f1f1ff"/><stop offset="0.117" stop-color="#f0f0ff"/><stop offset="0.249" stop-color="#ededff"/><stop offset="0.382" stop-color="#e7e7ff"/><stop offset="0.47" stop-color="#e2e2ff"/><stop offset="0.559" stop-color="#dadaff"/><stop offset="0.625" stop-color="#cbcbff"/><stop offset="0.691" stop-color="#aeaeff"/><stop offset="0.735" stop-color="#9292ff"/><stop offset="0.779" stop-color="#7272ff"/><stop offset="0.823" stop-color="#5252ff"/><stop offset="0.868" stop-color="#3434ff"/><stop offset="0.903" stop-color="#0808ff"/><stop offset="0.934" stop-color="#0000e9"/><stop offset="0.965" stop-color="#0000d5"/><stop offset="1" stop-color="#0000ca"/></linearGradient>
<linearGradient id="d114" x1="0" y1="0" x2="0" y2="1"><stop offset="0" stop-color="#f1f1ff"/><stop offset="0.117" stop-color="#efefff"/><stop offset="0.249" stop-color="#ebebff"/><stop offset="0.382" stop-color="#e5e5ff"/><stop offset="0.47" stop-color="#e0e0ff"/><stop offset="0.559" stop-color="#d6d6ff"/><stop offset="0.625" stop-color="#c7c7ff"/><stop offset="0.691" stop-color="#aaaaff"/><stop offset="0.735" stop-color="#8d8dff"/><stop offset="0.779" stop-color="#6c6cff"/><stop offset="0.823" stop-color="#4b4bff"/><stop offset="0.868" stop-color="#2d2dff"/><stop offset="0.903" stop-color="#0000f6"/><stop offset="0.934" stop-color="#0000db"/><stop offset="0.965" stop-color="#0000ce"/><stop offset="1" stop-color="#0000c2"/></linearGradient>
<linearGradient id="d115" x1="0" y1="0" x2="0" y2="1"><stop offset="0" stop-color="#f0f0ff"/><stop offset="0.117" stop-color="#eeeeff"/><stop offset="0.249" stop-color="#eaeaff"/><stop offset="0.382" stop-color="#e3e3ff"/><stop offset="0.47" stop-color="#ddddff"/><stop offset="0.559" stop-color="#d4d4ff"/><stop offset="0.625" stop-color="#c4c4ff"/><stop offset="0.691" stop-color="#a6a6ff"/><stop offset="0.735" stop-color="#8989ff"/><stop offset="0.779" stop-color="#6767ff"/><stop offset="0.823" stop-color="#4646ff"/><stop offset="0.868" stop-color="#2727ff"/><stop offset="0.903" stop-color="#0000ef"/><stop offset="0.934" stop-color="#0000d5"/><stop offset="0.965" stop-color="#0000ca"/><stop offset="1" stop-color="#0000b7"/></linearGradient>
<linearGradient id="d116" x1="0" y1="0" x2="0" y2="1"><stop offset="0" stop-color="#f0f0ff"/><stop offset="0.117" stop-color="#ededff"/><stop offset="0.249" stop-color="#e9e9ff"/><stop offset="0.382" stop-color="#e2e2ff"/><stop offset="0.47" stop-color="#dcdcff"/><stop offset="0.559" stop-color="#d2d2ff"/><stop offset="0.625" stop-color="#c2c2ff"/><stop offset="0.691" stop-color="#a3a3ff"/><stop offset="0.735" stop-color="#8686ff"/><stop offset="0.779" stop-color="#6464ff"/><stop offset="0.823" stop-color="#4242ff"/><stop offset="0.868" stop-color="#2424ff"/><stop offset="0.903" stop-color="#0000f0"/><stop offset="0.934" stop-color="#0000d5"/><stop offset="0.965" stop-color="#0000ca"/><stop offset="1" stop-color="#0000ba"/></linearGradient>
<linearGradient id="d117" x1="0" y1="0" x2="0" y2="1"><stop offset="0" stop-color="#f0f0ff"/><stop offset="0.117" stop-color="#ededff"/><stop offset="0.249" stop-color="#e9e9ff"/><stop offset="0.382" stop-color="#e1e1ff"/><stop offset="0.47" stop-color="#dbdbff"/><stop offset="0.559" stop-color="#d1d1ff"/><stop offset="0.625" stop-color="#c1c1ff"/><stop offset="0.691" stop-color="#a2a2ff"/><stop offset="0.735" stop-color="#8484ff"/><stop offset="0.779" stop-color="#6262ff"/><stop offset="0.823" stop-color="#4141ff"/><stop offset="0.868" stop-color="#2222ff"/><stop offset="0.903" stop-color="#0000f7"/><stop offset="0.934" stop-color="#0000de"/><stop offset="0.965" stop-color="#0000ca"/><stop offset="1" stop-color="#0000c2"/></linearGradient>
<linearGradient id="d118" x1="0" y1="0" x2="0" y2="1"><stop offset="0" stop-color="#f0f0ff"/><stop offset="0.117" stop-color="#ededff"/><stop offset="0.249" stop-color="#e9e9ff"/><stop offset="0.382" stop-color="#e2e2ff"/><stop offset="0.47" stop-color="#dbdbff"/><stop offset="0.559" stop-color="#d1d1ff"/><stop offset="0.625" stop-color="#c1c1ff"/><stop offset="0.691" stop-color="#a3a3ff"/><stop offset="0.735" stop-color="#8585ff"/><stop offset="0.779" stop-color="#6363ff"/><stop offset="0.823" stop-color="#4242ff"/><stop offset="0.868" stop-color="#2323ff"/><stop offset="0.903" stop-color="#0606ff"/><stop offset="0.934" stop-color="#0000ed"/><stop offset="0.965" stop-color="#0000da"/><stop offset="1" stop-color="#0000cf"/></linearGradient>
<linearGradient id="d119" x1="0" y1="0" x2="0" y2="1"><stop offset="0" stop-color="#f0f0ff"/><stop offset="0.117" stop-color="#eeeeff"/><stop offset="0.249" stop-color="#e9e9ff"/><stop offset="0.382" stop-color="#e3e3ff"/><stop offset="0.47" stop-color="#dcdcff"/><stop offset="0.559" stop-color="#d3d3ff"/><stop offset="0.625" stop-color="#c3c3ff"/><stop offset="0.691" stop-color="#a5a5ff"/><stop offset="0.735" stop-color="#8888ff"/><stop offset="0.779" stop-color="#6666ff"/><stop offset="0.823" stop-color="#4545ff"/><stop offset="0.868" stop-color="#2727ff"/><stop offset="0.903" stop-color="#1010ff"/><stop offset="0.934" stop-color="#0000fd"/><stop offset="0.965" stop-color="#0000f0"/><stop offset="1" stop-color="#0000e7"/></linearGradient>
<linearGradient id="d120" x1="0" y1="0" x2="0" y2="1"><stop offset="0" stop-color="#f1f1ff"/><stop offset="0.117" stop-color="#eeeeff"/><stop offset="0.249" stop-color="#ebebff"/><stop offset="0.382" stop-color="#e5e5ff"/><stop offset="0.47" stop-color="#dfdfff"/><stop offset="0.559" stop-color="#d5d5ff"/><stop offset="0.625" stop-color="#c7c7ff"/><stop offset="0.691" stop-color="#a9a9ff"/><stop offset="0.735" stop-color="#8c8cff"/><stop offset="0.779" stop-color="#6c6cff"/><stop offset="0.823" stop-color="#4b4bff"/><stop offset="0.868" stop-color="#2d2dff"/><stop offset="0.903" stop-color="#1717ff"/><stop offset="0.934" stop-color="#0404ff"/><stop offset="0.965" stop-color="#0000fb"/><stop offset="1" stop-color="#0000f6"/></linearGradient>
<linearGradient id="d121" x1="0" y1="0" x2="0" y2="1"><stop offset="0" stop-color="#f1f1ff"/><stop offset="0.117" stop-color="#f0f0ff"/><stop offset="0.249" stop-color="#ececff"/><stop offset="0.382" stop-color="#e7e7ff"/><stop offset="0.47" stop-color="#e2e2ff"/><stop offset="0.559" stop-color="#d9d9ff"/><stop offset="0.625" stop-color="#cbcbff"/><stop offset="0.691" stop-color="#afafff"/><stop offset="0.735" stop-color="#9393ff"/><stop offset="0.779" stop-color="#7373ff"/><stop offset="0.823" stop-color="#5353ff"/><stop offset="0.868" stop-color="#3636ff"/><stop offset="0.903" stop-color="#2020ff"/><stop offset="0.934" stop-color="#0e0eff"/><stop offset="0.965" stop-color="#0000fe"/><stop offset="1" stop-color="#0000f8"/></linearGradient>
<linearGradient id="d122" x1="0" y1="0" x2="0" y2="1"><stop offset="0" stop-color="#f2f2ff"/><stop offset="0.117" stop-color="#f1f1ff"/><stop offset="0.249" stop-color="#eeeeff"/><stop offset="0.382" stop-color="#eaeaff"/><stop offset="0.47" stop-color="#e5e5ff"/><stop offset="0.559" stop-color="#dedeff"/><stop offset="0.625" stop-color="#d1d1ff"/><stop offset="0.691" stop-color="#b5b5ff"/><stop offset="0.735" stop-color="#9b9bff"/><stop offset="0.779" stop-color="#7c7cff"/><stop offset="0.823" stop-color="#5e5eff"/><stop offset="0.868" stop-color="#4141ff"/><stop offset="0.903" stop-color="#2c2cff"/><stop offset="0.934" stop-color="#1a1aff"/><stop offset="0.965" stop-color="#0707ff"/><stop offset="1" stop-color="#0000fc"/></linearGradient>
<linearGradient id="d123" x1="0" y1="0" x2="0" y2="1"><stop offset="0" stop-color="#f3f3ff"/><stop offset="0.117" stop-color="#f2f2ff"/><stop offset="0.249" stop-color="#f0f0ff"/><stop offset="0.382" stop-color="#ededff"/><stop offset="0.47" stop-color="#e9e9ff"/><stop offset="0.559" stop-color="#e3e3ff"/><stop offset="0.625" stop-color="#d6d6ff"/><stop offset="0.691" stop-color="#bdbdff"/><stop offset="0.735" stop-color="#a4a4ff"/><stop offset="0.779" stop-color="#8787ff"/><stop offset="0.823" stop-color="#6969ff"/><stop offset="0.868" stop-color="#4e4eff"/><stop offset="0.903" stop-color="#3939ff"/><stop offset="0.934" stop-color="#2727ff"/><stop offset="0.965" stop-color="#1515ff"/><stop offset="1" stop-color="#0404ff"/></linearGradient>
<linearGradient id="d124" x1="0" y1="0" x2="0" y2="1"><stop offset="0" stop-color="#f3f3ff"/><stop offset="0.117" stop-color="#f3f3ff"/><stop offset="0.249" stop-color="#f1f1ff"/><stop offset="0.382" stop-color="#efefff"/><stop offset="0.47" stop-color="#ececff"/><stop offset="0.559" stop-color="#e7e7ff"/><stop offset="0.625" stop-color="#dcdcff"/><stop offset="0.691" stop-color="#c5c5ff"/><stop offset="0.735" stop-color="#adadff"/><stop offset="0.779" stop-color="#9191ff"/><stop offset="0.823" stop-color="#7676ff"/><stop offset="0.868" stop-color="#5b5bff"/><stop offset="0.903" stop-color="#4747ff"/><stop offset="0.934" stop-color="#3636ff"/><stop offset="0.965" stop-color="#2424ff"/><stop offset="1" stop-color="#1313ff"/></linearGradient>
<linearGradient id="d125" x1="0" y1="0" x2="0" y2="1"><stop offset="0" stop-color="#f3f3ff"/><stop offset="0.117" stop-color="#f3f3ff"/><stop offset="0.249" stop-color="#f2f2ff"/><stop offset="0.382" stop-color="#f1f1ff"/><stop offset="0.47" stop-color="#efefff"/><stop offset="0.559" stop-color="#ebebff"/><stop offset="0.625" stop-color="#e1e1ff"/><stop offset="0.691" stop-color="#cbcbff"/><stop offset="0.735" stop-color="#b5b5ff"/><stop offset="0.779" stop-color="#9c9cff"/><stop offset="0.823" stop-color="#8181ff"/><stop offset="0.868" stop-color="#6969ff"/><stop offset="0.903" stop-color="#5555ff"/><stop offset="0.934" stop-color="#4444ff"/><stop offset="0.965" stop-color="#3333ff"/><stop offset="1" stop-color="#2222ff"/></linearGradient>
<linearGradient id="d126" x1="0" y1="0" x2="0" y2="1"><stop offset="0" stop-color="#f3f3ff"/><stop offset="0.117" stop-color="#f3f3ff"/><stop offset="0.249" stop-color="#f3f3ff"/><stop offset="0.382" stop-color="#f1f1ff"/><stop offset="0.47" stop-color="#f0f0ff"/><stop offset="0.559" stop-color="#ececff"/><stop offset="0.625" stop-color="#e2e2ff"/><stop offset="0.691" stop-color="#cdcdff"/><stop offset="0.735" stop-color="#b8b8ff"/><stop offset="0.779" stop-color="#9f9fff"/><stop offset="0.823" stop-color="#8585ff"/><stop offset="0.868" stop-color="#6d6dff"/><stop offset="0.903" stop-color="#5a5aff"/><stop offset="0.934" stop-color="#4949ff"/><stop offset="0.965" stop-color="#3737ff"/><stop offset="1" stop-color="#2626ff"/></linearGradient>
<linearGradient id="d127" x1="0" y1="0" x2="0" y2="1"><stop offset="0" stop-color="#f3f3ff"/><stop offset="0.117" stop-color="#f3f3ff"/><stop offset="0.249" stop-color="#f2f2ff"/><stop offset="0.382" stop-color="#f1f1ff"/><stop offset="0.47" stop-color="#efefff"/><stop offset="0.559" stop-color="#ebebff"/><stop offset="0.625" stop-color="#e1e1ff"/><stop offset="0.691" stop-color="#cbcbff"/><stop offset="0.735" stop-color="#b5b5ff"/><stop offset="0.779" stop-color="#9c9cff"/><stop offset="0.823" stop-color="#8282ff"/><stop offset="0.868" stop-color="#6969ff"/><stop offset="0.903" stop-color="#5656ff"/><stop offset="0.934" stop-color="#4545ff"/><stop offset="0.965" stop-color="#3333ff"/><stop offset="1" stop-color="#2222ff"/></linearGradient>
<linearGradient id="d128" x1="0" y1="0" x2="0" y2="1"><stop offset="0" stop-color="#f3f3ff"/><stop offset="0.117" stop-color="#f3f3ff"/><stop offset="0.249" stop-color="#f2f2ff"/><stop offset="0.382" stop-color="#f0f0ff"/><stop offset="0.47" stop-color="#eeeeff"/><stop offset="0.559" stop-color="#e9e9ff"/><stop offset="0.625" stop-color="#dfdfff"/><stop offset="0.691" stop-color="#c9c9ff"/><stop offset="0.735" stop-color="#b2b2ff"/><stop offset="0.779" stop-color="#9898ff"/><stop offset="0.823" stop-color="#7d7dff"/><stop offset="0.868" stop-color="#6464ff"/><stop offset="0.903" stop-color="#5050ff"/><stop offset="0.934" stop-color="#3f3fff"/><stop offset="0.965" stop-color="#2d2dff"/><stop offset="1" stop-color="#1c1cff"/></linearGradient>
<linearGradient id="d129" x1="0" y1="0" x2="0" y2="1"><stop offset="0" stop-color="#f3f3ff"/><stop offset="0.117" stop-color="#f3f3ff"/><stop offset="0.249" stop-color="#f2f2ff"/><stop offset="0.382" stop-color="#efefff"/><stop offset="0.47" stop-color="#ededff"/><stop offset="0.559" stop-color="#e7e7ff"/><stop offset="0.625" stop-color="#dcdcff"/><stop offset="0.691" stop-color="#c5c5ff"/><stop offset="0.735" stop-color="#aeaeff"/><stop offset="0.779" stop-color="#9393ff"/><stop offset="0.823" stop-color="#7777ff"/><stop offset="0.868" stop-color="#5d5dff"/><stop offset="0.903" stop-color="#4949ff"/><stop offset="0.934" stop-color="#3838ff"/><stop offset="0.965" stop-color="#2626ff"/><stop offset="1" stop-color="#1414ff"/></linearGradient>
<linearGradient id="d130" x1="0" y1="0" x2="0" y2="1"><stop offset="0" stop-color="#f3f3ff"/><stop offset="0.117" stop-color="#f2f2ff"/><stop offset="0.249" stop-color="#f1f1ff"/><stop offset="0.382" stop-color="#eeeeff"/><stop offset="0.47" stop-color="#ebebff"/><stop offset="0.559" stop-color="#e5e5ff"/><stop offset="0.625" stop-color="#d9d9ff"/><stop offset="0.691" stop-color="#c1c1ff"/><stop offset="0.735" stop-color="#a9a9ff"/><stop offset="0.779" stop-color="#8d8dff"/><stop offset="0.823" stop-color="#7171ff"/><stop offset="0.868" stop-color="#5656ff"/><stop offset="0.903" stop-color="#4242ff"/><stop offset="0.934" stop-color="#3030ff"/><stop offset="0.965" stop-color="#1e1eff"/><stop offset="1" stop-color="#0c0cff"/></linearGradient>
<linearGradient id="e0" x1="0" y1="0" x2="0" y2="1"><stop offset="0" stop-color="#f0f0ff"/><stop offset="0.054" stop-color="#ececff"/><stop offset="0.12" stop-color="#ebebff"/><stop offset="0.186" stop-color="#ececff"/><stop offset="0.252" stop-color="#f0f0ff"/><stop offset="0.296" stop-color="#f5f5ff"/><stop offset="0.34" stop-color="#fbfbff"/><stop offset="0.371" stop-color="#fefeff"/><stop offset="0.397" stop-color="#fffefe"/><stop offset="0.424" stop-color="#fef2f3"/><stop offset="0.45" stop-color="#fde4e7"/><stop offset="0.494" stop-color="#fcd5db"/><stop offset="0.56" stop-color="#fbd0d6"/><stop offset="0.626" stop-color="#fddfe3"/><stop offset="0.692" stop-color="#fef4f6"/><stop offset="0.758" stop-color="#ffffff"/><stop offset="0.824" stop-color="#fbfbff"/><stop offset="0.89" stop-color="#ececff"/><stop offset="0.947" stop-color="#dfdfff"/><stop offset="1" stop-color="#d9d9ff"/></linearGradient>
<linearGradient id="e1" x1="0" y1="0" x2="0" y2="1"><stop offset="0" stop-color="#efefff"/><stop offset="0.054" stop-color="#ededff"/><stop offset="0.12" stop-color="#ededff"/><stop offset="0.186" stop-color="#eeeeff"/><stop offset="0.252" stop-color="#f2f2ff"/><stop offset="0.296" stop-color="#f6f6ff"/><stop offset="0.34" stop-color="#fcfcff"/><stop offset="0.371" stop-color="#fefeff"/><stop offset="0.397" stop-color="#fffefe"/><stop offset="0.424" stop-color="#fef1f3"/><stop offset="0.45" stop-color="#fde4e7"/><stop offset="0.494" stop-color="#fcd5da"/><stop offset="0.56" stop-color="#fbd0d6"/><stop offset="0.626" stop-color="#fddfe3"/><stop offset="0.692" stop-color="#fef4f6"/><stop offset="0.758" stop-color="#ffffff"/><stop offset="0.824" stop-color="#fbfbff"/><stop offset="0.89" stop-color="#ececff"/><stop offset="0.947" stop-color="#dedeff"/><stop offset="1" stop-color="#d9d9ff"/></linearGradient>
<linearGradient id="e2" x1="0" y1="0" x2="0" y2="1"><stop offset="0" stop-color="#efefff"/><stop offset="0.054" stop-color="#eeeeff"/><stop offset="0.12" stop-color="#eeeeff"/><stop offset="0.186" stop-color="#f0f0ff"/><stop offset="0.252" stop-color="#f4f4ff"/><stop offset="0.296" stop-color="#f8f8ff"/><stop offset="0.34" stop-color="#fcfcff"/><stop offset="0.371" stop-color="#ffffff"/><stop offset="0.397" stop-color="#fffefe"/><stop offset="0.424" stop-color="#fef1f3"/><stop offset="0.45" stop-color="#fde3e7"/><stop offset="0.494" stop-color="#fcd4da"/><stop offset="0.56" stop-color="#fbcfd6"/><stop offset="0.626" stop-color="#fddfe3"/><stop offset="0.692" stop-color="#fef4f6"/><stop offset="0.758" stop-color="#ffffff"/><stop offset="0.824" stop-color="#fbfbff"/><stop offset="0.89" stop-color="#ececff"/><stop offset="0.947" stop-color="#dedeff"/><stop offset="1" stop-color="#d8d8ff"/></linearGradient>
<linearGradient id="e3" x1="0" y1="0" x2="0" y2="1"><stop offset="0" stop-color="#f0f0ff"/><stop offset="0.054" stop-color="#f0f0ff"/><stop offset="0.12" stop-color="#f0f0ff"/><stop offset="0.186" stop-color="#f2f2ff"/><stop offset="0.252" stop-color="#f5f5ff"/><stop offset="0.296" stop-color="#f9f9ff"/><stop offset="0.34" stop-color="#fdfdff"/><stop offset="0.371" stop-color="#ffffff"/><stop offset="0.397" stop-color="#fffefe"/><stop offset="0.424" stop-color="#fef1f3"/><stop offset="0.45" stop-color="#fde3e7"/><stop offset="0.494" stop-color="#fcd4da"/><stop offset="0.56" stop-color="#fbcfd5"/><stop offset="0.626" stop-color="#fddee3"/><stop offset="0.692" stop-color="#fef4f6"/><stop offset="0.758" stop-color="#ffffff"/><stop offset="0.824" stop-color="#fbfbff"/><stop offset="0.89" stop-color="#ebebff"/><stop offset="0.947" stop-color="#dedeff"/><stop offset="1" stop-color="#d8d8ff"/></linearGradient>
<linearGradient id="e4" x1="0" y1="0" x2="0" y2="1"><stop offset="0" stop-color="#f1f1ff"/><stop offset="0.054" stop-color="#f1f1ff"/><stop offset="0.12" stop-color="#f2f2ff"/><stop offset="0.186" stop-color="#f4f4ff"/><stop offset="0.252" stop-color="#f7f7ff"/><stop offset="0.296" stop-color="#fafaff"/><stop offset="0.34" stop-color="#fdfdff"/><stop offset="0.371" stop-color="#ffffff"/><stop offset="0.397" stop-color="#fffefe"/><stop offset="0.424" stop-color="#fef1f3"/><stop offset="0.45" stop-color="#fde3e7"/><stop offset="0.494" stop-color="#fcd4d9"/><stop offset="0.56" stop-color="#fbced5"/><stop offset="0.626" stop-color="#fddee2"/><stop offset="0.692" stop-color="#fef4f5"/><stop offset="0.758" stop-color="#ffffff"/><stop offset="0.824" stop-color="#fbfbff"/><stop offset="0.89" stop-color="#ebebff"/><stop offset="0.947" stop-color="#ddddff"/><stop offset="1" stop-color="#d8d8ff"/></linearGradient>
<linearGradient id="e5" x1="0" y1="0" x2="0" y2="1"><stop offset="0" stop-color="#fef8f9"/><stop offset="0.054" stop-color="#fef5f7"/><stop offset="0.12" stop-color="#fef3f4"/><stop offset="0.186" stop-color="#fef1f3"/><stop offset="0.252" stop-color="#fef2f3"/><stop offset="0.296" stop-color="#fef8f9"/><stop offset="0.34" stop-color="#ffffff"/><stop offset="0.371" stop-color="#ffffff"/><stop offset="0.397" stop-color="#fffefe"/><stop offset="0.424" stop-color="#fdebee"/><stop offset="0.45" stop-color="#fcd7dc"/><stop offset="0.494" stop-color="#fac1c9"/><stop offset="0.56" stop-color="#f9b6c0"/><stop offset="0.626" stop-color="#f9b3bd"/><stop offset="0.692" stop-color="#f9b0ba"/><stop offset="0.758" stop-color="#f9aeb9"/><stop offset="0.824" stop-color="#f9afb9"/><stop offset="0.89" stop-color="#f9b4be"/><stop offset="0.947" stop-color="#fabfc8"/><stop offset="1" stop-color="#fcd5da"/></linearGradient>
<linearGradient id="e6" x1="0" y1="0" x2="0" y2="1"><stop offset="0" stop-color="#fef8f9"/><stop offset="0.054" stop-color="#fef5f7"/><stop offset="0.12" stop-color="#fef3f4"/><stop offset="0.186" stop-color="#fef1f3"/><stop offset="0.252" stop-color="#fef3f5"/><stop offset="0.296" stop-color="#ffffff"/><stop offset="0.34" stop-color="#fcfcff"/><stop offset="0.371" stop-color="#fefeff"/><stop offset="0.397" stop-color="#fffefe"/><stop offset="0.424" stop-color="#feedef"/><stop offset="0.45" stop-color="#fcdadf"/><stop offset="0.494" stop-color="#fbc6cd"/><stop offset="0.56" stop-color="#fabcc5"/><stop offset="0.626" stop-color="#fab9c3"/><stop offset="0.692" stop-color="#f9b6c0"/><stop offset="0.758" stop-color="#f9b2bd"/><stop offset="0.824" stop-color="#f9b0ba"/><stop offset="0.89" stop-color="#f9b0ba"/><stop offset="0.947" stop-color="#f9b5bf"/><stop offset="1" stop-color="#fbc4cc"/></linearGradient>
<linearGradient id="e7" x1="0" y1="0" x2="0" y2="1"><stop offset="0" stop-color="#fef7f8"/><stop offset="0.054" stop-color="#fef5f7"/><stop offset="0.12" stop-color="#fef3f4"/><stop offset="0.186" stop-color="#fef1f3"/><stop offset="0.252" stop-color="#fffdfd"/><stop offset="0.296" stop-color="#fcfcff"/><stop offset="0.34" stop-color="#f9f9ff"/><stop offset="0.371" stop-color="#fdfdff"/><stop offset="0.397" stop-color="#fffefe"/><stop offset="0.424" stop-color="#feeff1"/><stop offset="0.45" stop-color="#fcdee2"/><stop offset="0.494" stop-color="#fbccd3"/><stop offset="0.56" stop-color="#fbc4cc"/><stop offset="0.626" stop-color="#fac2ca"/><stop offset="0.692" stop-color="#fac0c8"/><stop offset="0.758" stop-color="#fabbc4"/><stop offset="0.824" stop-color="#fab7c0"/><stop offset="0.89" stop-color="#f9b3bd"/><stop offset="0.947" stop-color="#f9b3bd"/><stop offset="1" stop-color="#fabcc5"/></linearGradient>
<linearGradient id="e8" x1="0" y1="0" x2="0" y2="1"><stop offset="0" stop-color="#fef7f8"/><stop offset="0.054" stop-color="#fef5f6"/><stop offset="0.12" stop-color="#fef2f4"/><stop offset="0.186" stop-color="#fef3f5"/><stop offset="0.252" stop-color="#fdfdff"/><stop offset="0.296" stop-color="#f4f4ff"/><stop offset="0.34" stop-color="#f6f6ff"/><stop offset="0.371" stop-color="#fdfdff"/><stop offset="0.397" stop-color="#fffefe"/><stop offset="0.424" stop-color="#fef1f3"/><stop offset="0.45" stop-color="#fde2e6"/><stop offset="0.494" stop-color="#fcd2d8"/><stop offset="0.56" stop-color="#fbcdd4"/><stop offset="0.626" stop-color="#fbcdd3"/><stop offset="0.692" stop-color="#fbcbd2"/><stop offset="0.758" stop-color="#fbc8cf"/><stop offset="0.824" stop-color="#fac3cb"/><stop offset="0.89" stop-color="#fabec6"/><stop offset="0.947" stop-color="#fabac3"/><stop offset="1" stop-color="#fabec7"/></linearGradient>
<linearGradient id="e9" x1="0" y1="0" x2="0" y2="1"><stop offset="0" stop-color="#fef7f8"/><stop offset="0.054" stop-color="#fef5f6"/><stop offset="0.12" stop-color="#fef2f4"/><stop offset="0.186" stop-color="#fffdfd"/><stop offset="0.252" stop-color="#f5f5ff"/><stop offset="0.296" stop-color="#ededff"/><stop offset="0.34" stop-color="#f4f4ff"/><stop offset="0.371" stop-color="#fcfcff"/><stop offset="0.397" stop-color="#fffefe"/><stop offset="0.424" stop-color="#fef3f5"/><stop offset="0.45" stop-color="#fde7ea"/><stop offset="0.494" stop-color="#fcd9de"/><stop offset="0.56" stop-color="#fcd6db"/><stop offset="0.626" stop-color="#fcd7dd"/><stop offset="0.692" stop-color="#fcd8dd"/><stop offset="0.758" stop-color="#fcd6dc"/><stop offset="0.824" stop-color="#fcd3d9"/><stop offset="0.89" stop-color="#fbcdd4"/><stop offset="0.947" stop-color="#fbc9d0"/><stop offset="1" stop-color="#fbcbd2"/></linearGradient>
<linearGradient id="e10" x1="0" y1="0" x2="0" y2="1"><stop offset="0" stop-color="#fef7f8"/><stop offset="0.054" stop-color="#fef5f6"/><stop offset="0.12" stop-color="#fef5f6"/><stop offset="0.186" stop-color="#fdfdff"/><stop offset="0.252" stop-color="#ececff"/><stop offset="0.296" stop-color="#e8e8ff"/><stop offset="0.34" stop-color="#f2f2ff"/><stop offset="0.371" stop-color="#fcfcff"/><stop offset="0.397" stop-color="#fffefe"/><stop offset="0.424" stop-color="#fef5f6"/><stop offset="0.45" stop-color="#fdebee"/><stop offset="0.494" stop-color="#fde0e4"/><stop offset="0.56" stop-color="#fddee3"/><stop offset="0.626" stop-color="#fde1e5"/><stop offset="0.692" stop-color="#fde4e7"/><stop offset="0.758" stop-color="#fde5e8"/><stop offset="0.824" stop-color="#fde4e7"/><stop offset="0.89" stop-color="#fde0e4"/><stop offset="0.947" stop-color="#fcdde1"/><stop offset="1" stop-color="#fddee3"/></linearGradient>
<linearGradient id="e11" x1="0" y1="0" x2="0" y2="1"><stop offset="0" stop-color="#fef7f8"/><stop offset="0.054" stop-color="#fef5f6"/><stop offset="0.12" stop-color="#fffdfe"/><stop offset="0.186" stop-color="#f5f5ff"/><stop offset="0.252" stop-color="#e5e5ff"/><stop offset="0.296" stop-color="#e5e5ff"/><stop offset="0.34" stop-color="#f2f2ff"/><stop offset="0.371" stop-color="#fcfcff"/><stop offset="0.397" stop-color="#ffffff"/><stop offset="0.424" stop-color="#fef7f8"/><stop offset="0.45" stop-color="#feeff1"/><stop offset="0.494" stop-color="#fde6e9"/><stop offset="0.56" stop-color="#fde6e9"/><stop offset="0.626" stop-color="#fdeaed"/><stop offset="0.692" stop-color="#feeef1"/><stop offset="0.758" stop-color="#fef2f4"/><stop offset="0.824" stop-color="#fef4f6"/><stop offset="0.89" stop-color="#fef4f6"/><stop offset="0.947" stop-color="#fef3f5"/><stop offset="1" stop-color="#fef8f9"/></linearGradient>
<linearGradient id="e12" x1="0" y1="0" x2="0" y2="1"><stop offset="0" stop-color="#fef7f8"/><stop offset="0.054" stop-color="#fef7f8"/><stop offset="0.12" stop-color="#fdfdff"/><stop offset="0.186" stop-color="#ececff"/><stop offset="0.252" stop-color="#e0e0ff"/><stop offset="0.296" stop-color="#e3e3ff"/><stop offset="0.34" stop-color="#f2f2ff"/><stop offset="0.371" stop-color="#fcfcff"/><stop offset="0.397" stop-color="#ffffff"/><stop offset="0.424" stop-color="#fef8f9"/><stop offset="0.45" stop-color="#fef1f2"/><stop offset="0.494" stop-color="#fde9ec"/><stop offset="0.56" stop-color="#fdeaed"/><stop offset="0.626" stop-color="#fef0f2"/><stop offset="0.692" stop-color="#fef7f8"/><stop offset="0.758" stop-color="#fefeff"/><stop offset="0.824" stop-color="#f5f5ff"/><stop offset="0.89" stop-color="#f1f1ff"/><stop offset="0.947" stop-color="#ededff"/><stop offset="1" stop-color="#e4e4ff"/></linearGradient>
<linearGradient id="e13" x1="0" y1="0" x2="0" y2="1"><stop offset="0" stop-color="#fef7f8"/><stop offset="0.054" stop-color="#fffefe"/><stop offset="0.12" stop-color="#f6f6ff"/><stop offset="0.186" stop-color="#e6e6ff"/><stop offset="0.252" stop-color="#dedeff"/><stop offset="0.296" stop-color="#e3e3ff"/><stop offset="0.34" stop-color="#f2f2ff"/><stop offset="0.371" stop-color="#fdfdff"/><stop offset="0.397" stop-color="#fffeff"/><stop offset="0.424" stop-color="#fef6f7"/><stop offset="0.45" stop-color="#feedf0"/><stop offset="0.494" stop-color="#fde4e7"/><stop offset="0.56" stop-color="#fde9ec"/><stop offset="0.626" stop-color="#fef3f4"/><stop offset="0.692" stop-color="#fffdfd"/><stop offset="0.758" stop-color="#f4f4ff"/><stop offset="0.824" stop-color="#ebebff"/><stop offset="0.89" stop-color="#e3e3ff"/><stop offset="0.947" stop-color="#ddddff"/><stop offset="1" stop-color="#d0d0ff"/></linearGradient>
<linearGradient id="e14" x1="0" y1="0" x2="0" y2="1"><stop offset="0" stop-color="#fffbfb"/><stop offset="0.054" stop-color="#fdfdff"/><stop offset="0.12" stop-color="#eeeeff"/><stop offset="0.186" stop-color="#e1e1ff"/><stop offset="0.252" stop-color="#ddddff"/><stop offset="0.296" stop-color="#e4e4ff"/><stop offset="0.34" stop-color="#f3f3ff"/><stop offset="0.371" stop-color="#fdfdff"/><stop offset="0.397" stop-color="#fffefe"/><stop offset="0.424" stop-color="#fef4f5"/><stop offset="0.45" stop-color="#fde8eb"/><stop offset="0.494" stop-color="#fcdce1"/><stop offset="0.56" stop-color="#fde2e6"/><stop offset="0.626" stop-color="#fef0f2"/><stop offset="0.692" stop-color="#fffefe"/><stop offset="0.758" stop-color="#f1f1ff"/><stop offset="0.824" stop-color="#e7e7ff"/><stop offset="0.89" stop-color="#dcdcff"/><stop offset="0.947" stop-color="#d3d3ff"/><stop offset="1" stop-color="#c3c3ff"/></linearGradient>
<linearGradient id="e15" x1="0" y1="0" x2="0" y2="1"><stop offset="0" stop-color="#ffffff"/><stop offset="0.054" stop-color="#f7f7ff"/><stop offset="0.12" stop-color="#e9e9ff"/><stop offset="0.186" stop-color="#dfdfff"/><stop offset="0.252" stop-color="#dedeff"/><stop offset="0.296" stop-color="#e6e6ff"/><stop offset="0.34" stop-color="#f4f4ff"/><stop offset="0.371" stop-color="#fdfdff"/><stop offset="0.397" stop-color="#fffefe"/><stop offset="0.424" stop-color="#fef1f3"/><stop offset="0.45" stop-color="#fde3e6"/><stop offset="0.494" stop-color="#fcd4d9"/><stop offset="0.56" stop-color="#fcd9de"/><stop offset="0.626" stop-color="#fdeaed"/><stop offset="0.692" stop-color="#fffbfc"/><stop offset="0.758" stop-color="#f1f1ff"/><stop offset="0.824" stop-color="#e5e5ff"/><stop offset="0.89" stop-color="#dadaff"/><stop offset="0.947" stop-color="#cfcfff"/><stop offset="1" stop-color="#bcbcff"/></linearGradient>
<linearGradient id="e16" x1="0" y1="0" x2="0" y2="1"><stop offset="0" stop-color="#fcfcff"/><stop offset="0.054" stop-color="#f1f1ff"/><stop offset="0.12" stop-color="#e5e5ff"/><stop offset="0.186" stop-color="#dedeff"/><stop offset="0.252" stop-color="#e0e0ff"/><stop offset="0.296" stop-color="#e8e8ff"/><stop offset="0.34" stop-color="#f6f6ff"/><stop offset="0.371" stop-color="#fdfdff"/><stop offset="0.397" stop-color="#fffefe"/><stop offset="0.424" stop-color="#feeef0"/><stop offset="0.45" stop-color="#fcdde1"/><stop offset="0.494" stop-color="#fbcbd2"/><stop offset="0.56" stop-color="#fbced5"/><stop offset="0.626" stop-color="#fde0e4"/><stop offset="0.692" stop-color="#fef3f5"/><stop offset="0.758" stop-color="#f3f3ff"/><stop offset="0.824" stop-color="#e5e5ff"/><stop offset="0.89" stop-color="#d9d9ff"/><stop offset="0.947" stop-color="#cdcdff"/><stop offset="1" stop-color="#babaff"/></linearGradient>
<linearGradient id="e17" x1="0" y1="0" x2="0" y2="1"><stop offset="0" stop-color="#f6f6ff"/><stop offset="0.054" stop-color="#ececff"/><stop offset="0.12" stop-color="#e3e3ff"/><stop offset="0.186" stop-color="#dfdfff"/><stop offset="0.252" stop-color="#e2e2ff"/><stop offset="0.296" stop-color="#eaeaff"/><stop offset="0.34" stop-color="#f7f7ff"/><stop offset="0.371" stop-color="#fdfdff"/><stop offset="0.397" stop-color="#fffefe"/><stop offset="0.424" stop-color="#feebee"/><stop offset="0.45" stop-color="#fcd7dc"/><stop offset="0.494" stop-color="#fac2ca"/><stop offset="0.56" stop-color="#fac2cb"/><stop offset="0.626" stop-color="#fcd4da"/><stop offset="0.692" stop-color="#fde9ec"/><stop offset="0.758" stop-color="#fcfcff"/><stop offset="0.824" stop-color="#e7e7ff"/><stop offset="0.89" stop-color="#d8d8ff"/><stop offset="0.947" stop-color="#ccccff"/><stop offset="1" stop-color="#b8b8ff"/></linearGradient>
<linearGradient id="e18" x1="0" y1="0" x2="0" y2="1"><stop offset="0" stop-color="#f1f1ff"/><stop offset="0.054" stop-color="#e8e8ff"/><stop offset="0.12" stop-color="#e2e2ff"/><stop offset="0.186" stop-color="#e1e1ff"/><stop offset="0.252" stop-color="#e5e5ff"/><stop offset="0.296" stop-color="#ededff"/><stop offset="0.34" stop-color="#f8f8ff"/><stop offset="0.371" stop-color="#fefeff"/><stop offset="0.397" stop-color="#fffefe"/><stop offset="0.424" stop-color="#fde9ec"/><stop offset="0.45" stop-color="#fcd1d8"/><stop offset="0.494" stop-color="#fab9c2"/><stop offset="0.56" stop-color="#fab7c0"/><stop offset="0.626" stop-color="#fbc7ce"/><stop offset="0.692" stop-color="#fcdbe0"/><stop offset="0.758" stop-color="#fef2f4"/><stop offset="0.824" stop-color="#ededff"/><stop offset="0.89" stop-color="#dadaff"/><stop offset="0.947" stop-color="#ccccff"/><stop offset="1" stop-color="#b7b7ff"/></linearGradient>
<linearGradient id="e19" x1="0" y1="0" x2="0" y2="1"><stop offset="0" stop-color="#ededff"/><stop offset="0.054" stop-color="#e7e7ff"/><stop offset="0.12" stop-color="#e3e3ff"/><stop offset="0.186" stop-color="#e3e3ff"/><stop offset="0.252" stop-color="#e8e8ff"/><stop offset="0.296" stop-color="#efefff"/><stop offset="0.34" stop-color="#f9f9ff"/><stop offset="0.371" stop-color="#fefeff"/><stop offset="0.397" stop-color="#fffdfe"/><stop offset="0.424" stop-color="#fde6e9"/><stop offset="0.45" stop-color="#fbcdd3"/><stop offset="0.494" stop-color="#f9b2bc"/><stop offset="0.56" stop-color="#f9acb7"/><stop offset="0.626" stop-color="#fab9c2"/><stop offset="0.692" stop-color="#fbccd3"/><stop offset="0.758" stop-color="#fde3e6"/><stop offset="0.824" stop-color="#fdfdff"/><stop offset="0.89" stop-color="#e0e0ff"/><stop offset="0.947" stop-color="#cdcdff"/><stop offset="1" stop-color="#b7b7ff"/></linearGradient>
<linearGradient id="e20" x1="0" y1="0" x2="0" y2="1"><stop offset="0" stop-color="#ebebff"/><stop offset="0.054" stop-color="#e6e6ff"/><stop offset="0.12" stop-color="#e4e4ff"/><stop offset="0.186" stop-color="#e6e6ff"/><stop offset="0.252" stop-color="#ebebff"/><stop offset="0.296" stop-color="#f1f1ff"/><stop offset="0.34" stop-color="#fafaff"/><stop offset="0.371" stop-color="#fefeff"/><stop offset="0.397" stop-color="#fffdfe"/><stop offset="0.424" stop-color="#fde4e8"/><stop offset="0.45" stop-color="#fbc9d0"/><stop offset="0.494" stop-color="#f9acb7"/><stop offset="0.56" stop-color="#f8a3af"/><stop offset="0.626" stop-color="#f9acb7"/><stop offset="0.692" stop-color="#fabcc5"/><stop offset="0.758" stop-color="#fcd1d7"/><stop offset="0.824" stop-color="#fdebed"/><stop offset="0.89" stop-color="#ededff"/><stop offset="0.947" stop-color="#d4d4ff"/><stop offset="1" stop-color="#b9b9ff"/></linearGradient>
<linearGradient id="e21" x1="0" y1="0" x2="0" y2="1"><stop offset="0" stop-color="#eaeaff"/><stop offset="0.054" stop-color="#e7e7ff"/><stop offset="0.12" stop-color="#e7e7ff"/><stop offset="0.186" stop-color="#e9e9ff"/><stop offset="0.252" stop-color="#ededff"/><stop offset="0.296" stop-color="#f3f3ff"/><stop offset="0.34" stop-color="#fbfbff"/><stop offset="0.371" stop-color="#fefeff"/><stop offset="0.397" stop-color="#fffdfd"/><stop offset="0.424" stop-color="#fde3e7"/><stop offset="0.45" stop-color="#fbc6ce"/><stop offset="0.494" stop-color="#f8a7b3"/><stop offset="0.56" stop-color="#f79ca9"/><stop offset="0.626" stop-color="#f8a0ad"/><stop offset="0.692" stop-color="#f9acb7"/><stop offset="0.758" stop-color="#fabec7"/><stop offset="0.824" stop-color="#fcd6dc"/><stop offset="0.89" stop-color="#fef4f6"/><stop offset="0.947" stop-color="#e3e3ff"/><stop offset="1" stop-color="#c1c1ff"/></linearGradient>
<linearGradient id="e22" x1="0" y1="0" x2="0" y2="1"><stop offset="0" stop-color="#eaeaff"/><stop offset="0.054" stop-color="#e8e8ff"/><stop offset="0.12" stop-color="#e9e9ff"/><stop offset="0.186" stop-color="#ebebff"/><stop offset="0.252" stop-color="#f0f0ff"/><stop offset="0.296" stop-color="#f5f5ff"/><stop offset="0.34" stop-color="#fbfbff"/><stop offset="0.371" stop-color="#fefeff"/><stop offset="0.397" stop-color="#fffdfd"/><stop offset="0.424" stop-color="#fde2e6"/><stop offset="0.45" stop-color="#fbc4cc"/><stop offset="0.494" stop-color="#f8a5b1"/><stop offset="0.56" stop-color="#f797a5"/><stop offset="0.626" stop-color="#f798a6"/><stop offset="0.692" stop-color="#f89fac"/><stop offset="0.758" stop-color="#f9acb7"/><stop offset="0.824" stop-color="#fac1c9"/><stop offset="0.89" stop-color="#fcdce1"/><stop offset="0.947" stop-color="#fffdfd"/><stop offset="1" stop-color="#d2d2ff"/></linearGradient>
<linearGradient id="e23" x1="0" y1="0" x2="0" y2="1"><stop offset="0" stop-color="#ebebff"/><stop offset="0.054" stop-color="#eaeaff"/><stop offset="0.12" stop-color="#ebebff"/><stop offset="0.186" stop-color="#eeeeff"/><stop offset="0.252" stop-color="#f2f2ff"/><stop offset="0.296" stop-color="#f7f7ff"/><stop offset="0.34" stop-color="#fcfcff"/><stop offset="0.371" stop-color="#fefeff"/><stop offset="0.397" stop-color="#fffdfd"/><stop offset="0.424" stop-color="#fde2e6"/><stop offset="0.45" stop-color="#fbc4cc"/><stop offset="0.494" stop-color="#f8a5b1"/><stop offset="0.56" stop-color="#f796a4"/><stop offset="0.626" stop-color="#f794a2"/><stop offset="0.692" stop-color="#f796a4"/><stop offset="0.758" stop-color="#f89eab"/><stop offset="0.824" stop-color="#f9acb7"/><stop offset="0.89" stop-color="#fac3cb"/><stop offset="0.947" stop-color="#fddee3"/><stop offset="1" stop-color="#eeeeff"/></linearGradient>
<linearGradient id="e24" x1="0" y1="0" x2="0" y2="1"><stop offset="0" stop-color="#ececff"/><stop offset="0.054" stop-color="#ececff"/><stop offset="0.12" stop-color="#eeeeff"/><stop offset="0.186" stop-color="#f0f0ff"/><stop offset="0.252" stop-color="#f4f4ff"/><stop offset="0.296" stop-color="#f8f8ff"/><stop offset="0.34" stop-color="#fcfcff"/><stop offset="0.371" stop-color="#ffffff"/><stop offset="0.397" stop-color="#fffdfd"/><stop offset="0.424" stop-color="#fde3e6"/><stop offset="0.45" stop-color="#fbc5cd"/><stop offset="0.494" stop-color="#f8a7b2"/><stop offset="0.56" stop-color="#f797a5"/><stop offset="0.626" stop-color="#f793a2"/><stop offset="0.692" stop-color="#f792a1"/><stop offset="0.758" stop-color="#f794a3"/><stop offset="0.824" stop-color="#f89caa"/><stop offset="0.89" stop-color="#f9adb8"/><stop offset="0.947" stop-color="#fac3cb"/><stop offset="1" stop-color="#fde7ea"/></linearGradient>
<linearGradient id="e25" x1="0" y1="0" x2="0" y2="1"><stop offset="0" stop-color="#fef5f6"/><stop offset="0.054" stop-color="#fef2f4"/><stop offset="0.12" stop-color="#feeff1"/><stop offset="0.186" stop-color="#feecef"/><stop offset="0.252" stop-color="#feedef"/><stop offset="0.296" stop-color="#fef4f6"/><stop offset="0.34" stop-color="#ffffff"/><stop offset="0.371" stop-color="#fefeff"/><stop offset="0.397" stop-color="#fffdfe"/><stop offset="0.424" stop-color="#fde4e8"/><stop offset="0.45" stop-color="#fbc8cf"/><stop offset="0.494" stop-color="#f9abb6"/><stop offset="0.56" stop-color="#f89ca9"/><stop offset="0.626" stop-color="#f797a5"/><stop offset="0.692" stop-color="#f794a2"/><stop offset="0.758" stop-color="#f792a0"/><stop offset="0.824" stop-color="#f793a2"/><stop offset="0.89" stop-color="#f89ca9"/><stop offset="0.947" stop-color="#f9acb7"/><stop offset="1" stop-color="#fbc9d0"/></linearGradient>
<linearGradient id="e26" x1="0" y1="0" x2="0" y2="1"><stop offset="0" stop-color="#fef5f6"/><stop offset="0.054" stop-color="#fef2f4"/><stop offset="0.12" stop-color="#feeef1"/><stop offset="0.186" stop-color="#feecef"/><stop offset="0.252" stop-color="#feeef1"/><stop offset="0.296" stop-color="#fffefe"/><stop offset="0.34" stop-color="#fcfcff"/><stop offset="0.371" stop-color="#fdfdff"/><stop offset="0.397" stop-color="#fffdfe"/><stop offset="0.424" stop-color="#fde6e9"/><stop offset="0.45" stop-color="#fbccd3"/><stop offset="0.494" stop-color="#f9b1bb"/><stop offset="0.56" stop-color="#f8a4b0"/><stop offset="0.626" stop-color="#f8a0ac"/><stop offset="0.692" stop-color="#f79ba8"/><stop offset="0.758" stop-color="#f796a4"/><stop offset="0.824" stop-color="#f793a1"/><stop offset="0.89" stop-color="#f794a2"/><stop offset="0.947" stop-color="#f79ca9"/><stop offset="1" stop-color="#f9b1bc"/></linearGradient>
<linearGradient id="e27" x1="0" y1="0" x2="0" y2="1"><stop offset="0" stop-color="#fef5f6"/><stop offset="0.054" stop-color="#fef2f4"/><stop offset="0.12" stop-color="#feeef0"/><stop offset="0.186" stop-color="#feecee"/><stop offset="0.252" stop-color="#fffbfb"/><stop offset="0.296" stop-color="#fcfcff"/><stop offset="0.34" stop-color="#f7f7ff"/><stop offset="0.371" stop-color="#fdfdff"/><stop offset="0.397" stop-color="#fffefe"/><stop offset="0.424" stop-color="#fde8eb"/><stop offset="0.45" stop-color="#fcd1d7"/><stop offset="0.494" stop-color="#fab8c2"/><stop offset="0.56" stop-color="#f9aeb9"/><stop offset="0.626" stop-color="#f9abb6"/><stop offset="0.692" stop-color="#f8a7b3"/><stop offset="0.758" stop-color="#f8a1ae"/><stop offset="0.824" stop-color="#f79ba8"/><stop offset="0.89" stop-color="#f797a4"/><stop offset="0.947" stop-color="#f797a5"/><stop offset="1" stop-color="#f8a5b1"/></linearGradient>
<linearGradient id="e28" x1="0" y1="0" x2="0" y2="1"><stop offset="0" stop-color="#fef5f6"/><stop offset="0.054" stop-color="#fef2f3"/><stop offset="0.12" stop-color="#feeef0"/><stop offset="0.186" stop-color="#feeef0"/><stop offset="0.252" stop-color="#fdfdff"/><stop offset="0.296" stop-color="#f2f2ff"/><stop offset="0.34" stop-color="#f3f3ff"/><stop offset="0.371" stop-color="#fcfcff"/><stop offset="0.397" stop-color="#fffefe"/><stop offset="0.424" stop-color="#fdebee"/><stop offset="0.45" stop-color="#fcd7dc"/><stop offset="0.494" stop-color="#fac1c9"/><stop offset="0.56" stop-color="#fab9c2"/><stop offset="0.626" stop-color="#fab8c2"/><stop offset="0.692" stop-color="#fab6c0"/><stop offset="0.758" stop-color="#f9b2bc"/><stop offset="0.824" stop-color="#f9abb6"/><stop offset="0.89" stop-color="#f8a3b0"/><stop offset="0.947" stop-color="#f89fac"/><stop offset="1" stop-color="#f8a6b2"/></linearGradient>
<linearGradient id="e29" x1="0" y1="0" x2="0" y2="1"><stop offset="0" stop-color="#fef4f6"/><stop offset="0.054" stop-color="#fef1f3"/><stop offset="0.12" stop-color="#feeef0"/><stop offset="0.186" stop-color="#fffbfb"/><stop offset="0.252" stop-color="#f3f3ff"/><stop offset="0.296" stop-color="#e8e8ff"/><stop offset="0.34" stop-color="#efefff"/><stop offset="0.371" stop-color="#fbfbff"/><stop offset="0.397" stop-color="#fffefe"/><stop offset="0.424" stop-color="#feeef0"/><stop offset="0.45" stop-color="#fcdde1"/><stop offset="0.494" stop-color="#fbcad1"/><stop offset="0.56" stop-color="#fbc5cd"/><stop offset="0.626" stop-color="#fbc7ce"/><stop offset="0.692" stop-color="#fbc7cf"/><stop offset="0.758" stop-color="#fbc5cd"/><stop offset="0.824" stop-color="#fac0c8"/><stop offset="0.89" stop-color="#fab8c2"/><stop offset="0.947" stop-color="#f9b2bc"/><stop offset="1" stop-color="#f9b5be"/></linearGradient>
<linearGradient id="e30" x1="0" y1="0" x2="0" y2="1"><stop offset="0" stop-color="#fef4f6"/><stop offset="0.054" stop-color="#fef1f3"/><stop offset="0.12" stop-color="#fef0f2"/><stop offset="0.186" stop-color="#fdfdff"/><stop offset="0.252" stop-color="#e6e6ff"/><stop offset="0.296" stop-color="#e0e0ff"/><stop offset="0.34" stop-color="#ededff"/><stop offset="0.371" stop-color="#fbfbff"/><stop offset="0.397" stop-color="#fffefe"/><stop offset="0.424" stop-color="#fef1f3"/><stop offset="0.45" stop-color="#fde3e6"/><stop offset="0.494" stop-color="#fcd4d9"/><stop offset="0.56" stop-color="#fbd1d7"/><stop offset="0.626" stop-color="#fcd5da"/><stop offset="0.692" stop-color="#fcd8dd"/><stop offset="0.758" stop-color="#fcd9de"/><stop offset="0.824" stop-color="#fcd7dc"/><stop offset="0.89" stop-color="#fcd2d8"/><stop offset="0.947" stop-color="#fbccd3"/><stop offset="1" stop-color="#fbcfd5"/></linearGradient>
<linearGradient id="e31" x1="0" y1="0" x2="0" y2="1"><stop offset="0" stop-color="#fef4f5"/><stop offset="0.054" stop-color="#fef1f3"/><stop offset="0.12" stop-color="#fffcfc"/><stop offset="0.186" stop-color="#f3f3ff"/><stop offset="0.252" stop-color="#dcdcff"/><stop offset="0.296" stop-color="#dbdbff"/><stop offset="0.34" stop-color="#ededff"/><stop offset="0.371" stop-color="#fbfbff"/><stop offset="0.397" stop-color="#fffefe"/><stop offset="0.424" stop-color="#fef4f5"/><stop offset="0.45" stop-color="#fde8eb"/><stop offset="0.494" stop-color="#fcdce0"/><stop offset="0.56" stop-color="#fcdbe0"/><stop offset="0.626" stop-color="#fde1e5"/><stop offset="0.692" stop-color="#fde7ea"/><stop offset="0.758" stop-color="#fdebee"/><stop offset="0.824" stop-color="#feedf0"/><stop offset="0.89" stop-color="#feedef"/><stop offset="0.947" stop-color="#fdebed"/><stop offset="1" stop-color="#fef1f3"/></linearGradient>
<linearGradient id="e32" x1="0" y1="0" x2="0" y2="1"><stop offset="0" stop-color="#fef4f5"/><stop offset="0.054" stop-color="#fef3f4"/><stop offset="0.12" stop-color="#fdfdff"/><stop offset="0.186" stop-color="#e6e6ff"/><stop offset="0.252" stop-color="#d4d4ff"/><stop offset="0.296" stop-color="#d8d8ff"/><stop offset="0.34" stop-color="#ededff"/><stop offset="0.371" stop-color="#fbfbff"/><stop offset="0.397" stop-color="#fffefe"/><stop offset="0.424" stop-color="#fef5f7"/><stop offset="0.45" stop-color="#feebee"/><stop offset="0.494" stop-color="#fde1e5"/><stop offset="0.56" stop-color="#fde2e5"/><stop offset="0.626" stop-color="#fdeaec"/><stop offset="0.692" stop-color="#fef3f4"/><stop offset="0.758" stop-color="#fffefe"/><stop offset="0.824" stop-color="#f4f4ff"/><stop offset="0.89" stop-color="#eeeeff"/><stop offset="0.947" stop-color="#eaeaff"/><stop offset="1" stop-color="#dedeff"/></linearGradient>
<linearGradient id="e33" x1="0" y1="0" x2="0" y2="1"><stop offset="0" stop-color="#fef4f5"/><stop offset="0.054" stop-color="#fffdfd"/><stop offset="0.12" stop-color="#f4f4ff"/><stop offset="0.186" stop-color="#dcdcff"/><stop offset="0.252" stop-color="#d0d0ff"/><stop offset="0.296" stop-color="#d8d8ff"/><stop offset="0.34" stop-color="#ededff"/><stop offset="0.371" stop-color="#fcfcff"/><stop offset="0.397" stop-color="#fffefe"/><stop offset="0.424" stop-color="#fef3f5"/><stop offset="0.45" stop-color="#fde7ea"/><stop offset="0.494" stop-color="#fcdadf"/><stop offset="0.56" stop-color="#fde0e4"/><stop offset="0.626" stop-color="#feedf0"/><stop offset="0.692" stop-color="#fffbfc"/><stop offset="0.758" stop-color="#f1f1ff"/><stop offset="0.824" stop-color="#e4e4ff"/><stop offset="0.89" stop-color="#dadaff"/><stop offset="0.947" stop-color="#d1d1ff"/><stop offset="1" stop-color="#c0c0ff"/></linearGradient>
<linearGradient id="e34" x1="0" y1="0" x2="0" y2="1"><stop offset="0" stop-color="#fef8f9"/><stop offset="0.054" stop-color="#fdfdff"/><stop offset="0.12" stop-color="#e9e9ff"/><stop offset="0.186" stop-color="#d6d6ff"/><stop offset="0.252" stop-color="#cfcfff"/><stop offset="0.296" stop-color="#d9d9ff"/><stop offset="0.34" stop-color="#efefff"/><stop offset="0.371" stop-color="#fcfcff"/><stop offset="0.397" stop-color="#fffefe"/><stop offset="0.424" stop-color="#fef0f2"/><stop offset="0.45" stop-color="#fde0e4"/><stop offset="0.494" stop-color="#fbcfd6"/><stop offset="0.56" stop-color="#fcd8dd"/><stop offset="0.626" stop-color="#fdebee"/><stop offset="0.692" stop-color="#fffefe"/><stop offset="0.758" stop-color="#ececff"/><stop offset="0.824" stop-color="#ddddff"/><stop offset="0.89" stop-color="#cfcfff"/><stop offset="0.947" stop-color="#c3c3ff"/><stop offset="1" stop-color="#adadff"/></linearGradient>
<linearGradient id="e35" x1="0" y1="0" x2="0" y2="1"><stop offset="0" stop-color="#ffffff"/><stop offset="0.054" stop-color="#f5f5ff"/><stop offset="0.12" stop-color="#e0e0ff"/><stop offset="0.186" stop-color="#d2d2ff"/><stop offset="0.252" stop-color="#d0d0ff"/><stop offset="0.296" stop-color="#dbdbff"/><stop offset="0.34" stop-color="#f0f0ff"/><stop offset="0.371" stop-color="#fcfcff"/><stop offset="0.397" stop-color="#fffefe"/><stop offset="0.424" stop-color="#feecee"/><stop offset="0.45" stop-color="#fcd8dd"/><stop offset="0.494" stop-color="#fbc3cb"/><stop offset="0.56" stop-color="#fbcbd2"/><stop offset="0.626" stop-color="#fde3e7"/><stop offset="0.692" stop-color="#fffafb"/><stop offset="0.758" stop-color="#ebebff"/><stop offset="0.824" stop-color="#dbdbff"/><stop offset="0.89" stop-color="#cbcbff"/><stop offset="0.947" stop-color="#bcbcff"/><stop offset="1" stop-color="#a2a2ff"/></linearGradient>
<linearGradient id="e36" x1="0" y1="0" x2="0" y2="1"><stop offset="0" stop-color="#fbfbff"/><stop offset="0.054" stop-color="#ececff"/><stop offset="0.12" stop-color="#dadaff"/><stop offset="0.186" stop-color="#d1d1ff"/><stop offset="0.252" stop-color="#d3d3ff"/><stop offset="0.296" stop-color="#dedeff"/><stop offset="0.34" stop-color="#f2f2ff"/><stop offset="0.371" stop-color="#fdfdff"/><stop offset="0.397" stop-color="#fffefe"/><stop offset="0.424" stop-color="#fde8eb"/><stop offset="0.45" stop-color="#fbd0d6"/><stop offset="0.494" stop-color="#fab7c0"/><stop offset="0.56" stop-color="#fabcc5"/><stop offset="0.626" stop-color="#fcd6db"/><stop offset="0.692" stop-color="#fef0f2"/><stop offset="0.758" stop-color="#eeeeff"/><stop offset="0.824" stop-color="#dbdbff"/><stop offset="0.89" stop-color="#cacaff"/><stop offset="0.947" stop-color="#b9b9ff"/><stop offset="1" stop-color="#9e9eff"/></linearGradient>
<linearGradient id="e37" x1="0" y1="0" x2="0" y2="1"><stop offset="0" stop-color="#f3f3ff"/><stop offset="0.054" stop-color="#e5e5ff"/><stop offset="0.12" stop-color="#d7d7ff"/><stop offset="0.186" stop-color="#d2d2ff"/><stop offset="0.252" stop-color="#d6d6ff"/><stop offset="0.296" stop-color="#e2e2ff"/><stop offset="0.34" stop-color="#f3f3ff"/><stop offset="0.371" stop-color="#fdfdff"/><stop offset="0.397" stop-color="#fffdfe"/><stop offset="0.424" stop-color="#fde4e7"/><stop offset="0.45" stop-color="#fbc8cf"/><stop offset="0.494" stop-color="#f9aab5"/><stop offset="0.56" stop-color="#f9acb7"/><stop offset="0.626" stop-color="#fbc5cd"/><stop offset="0.692" stop-color="#fde2e6"/><stop offset="0.758" stop-color="#f8f8ff"/><stop offset="0.824" stop-color="#dcdcff"/><stop offset="0.89" stop-color="#c9c9ff"/><stop offset="0.947" stop-color="#b8b8ff"/><stop offset="1" stop-color="#9c9cff"/></linearGradient>
<linearGradient id="e38" x1="0" y1="0" x2="0" y2="1"><stop offset="0" stop-color="#ececff"/><stop offset="0.054" stop-color="#e0e0ff"/><stop offset="0.12" stop-color="#d6d6ff"/><stop offset="0.186" stop-color="#d4d4ff"/><stop offset="0.252" stop-color="#dadaff"/><stop offset="0.296" stop-color="#e5e5ff"/><stop offset="0.34" stop-color="#f5f5ff"/><stop offset="0.371" stop-color="#fdfdff"/><stop offset="0.397" stop-color="#fffdfd"/><stop offset="0.424" stop-color="#fde0e4"/><stop offset="0.45" stop-color="#fac0c8"/><stop offset="0.494" stop-color="#f89eab"/><stop offset="0.56" stop-color="#f79ca9"/><stop offset="0.626" stop-color="#f9b2bc"/><stop offset="0.692" stop-color="#fbcfd6"/><stop offset="0.758" stop-color="#feeff1"/><stop offset="0.824" stop-color="#e4e4ff"/><stop offset="0.89" stop-color="#cacaff"/><stop offset="0.947" stop-color="#b7b7ff"/><stop offset="1" stop-color="#9a9aff"/></linearGradient>
<linearGradient id="e39" x1="0" y1="0" x2="0" y2="1"><stop offset="0" stop-color="#e7e7ff"/><stop offset="0.054" stop-color="#ddddff"/><stop offset="0.12" stop-color="#d7d7ff"/><stop offset="0.186" stop-color="#d8d8ff"/><stop offset="0.252" stop-color="#dedeff"/><stop offset="0.296" stop-color="#e8e8ff"/><stop offset="0.34" stop-color="#f6f6ff"/><stop offset="0.371" stop-color="#fdfdff"/><stop offset="0.397" stop-color="#fffdfd"/><stop offset="0.424" stop-color="#fcdde1"/><stop offset="0.45" stop-color="#fab9c2"/><stop offset="0.494" stop-color="#f794a2"/><stop offset="0.56" stop-color="#f68c9c"/><stop offset="0.626" stop-color="#f89fac"/><stop offset="0.692" stop-color="#fabac3"/><stop offset="0.758" stop-color="#fcdadf"/><stop offset="0.824" stop-color="#f9f9ff"/><stop offset="0.89" stop-color="#d2d2ff"/><stop offset="0.947" stop-color="#b9b9ff"/><stop offset="1" stop-color="#9999ff"/></linearGradient>
<linearGradient id="e40" x1="0" y1="0" x2="0" y2="1"><stop offset="0" stop-color="#e3e3ff"/><stop offset="0.054" stop-color="#dcdcff"/><stop offset="0.12" stop-color="#dadaff"/><stop offset="0.186" stop-color="#dbdbff"/><stop offset="0.252" stop-color="#e2e2ff"/><stop offset="0.296" stop-color="#ebebff"/><stop offset="0.34" stop-color="#f7f7ff"/><stop offset="0.371" stop-color="#fefeff"/><stop offset="0.397" stop-color="#fffdfd"/><stop offset="0.424" stop-color="#fcdadf"/><stop offset="0.45" stop-color="#f9b3be"/><stop offset="0.494" stop-color="#f68b9b"/><stop offset="0.56" stop-color="#f57f90"/><stop offset="0.626" stop-color="#f68c9b"/><stop offset="0.692" stop-color="#f8a3af"/><stop offset="0.758" stop-color="#fac1ca"/><stop offset="0.824" stop-color="#fde6e9"/><stop offset="0.89" stop-color="#e3e3ff"/><stop offset="0.947" stop-color="#c2c2ff"/><stop offset="1" stop-color="#9c9cff"/></linearGradient>
<linearGradient id="e41" x1="0" y1="0" x2="0" y2="1"><stop offset="0" stop-color="#e2e2ff"/><stop offset="0.054" stop-color="#ddddff"/><stop offset="0.12" stop-color="#ddddff"/><stop offset="0.186" stop-color="#dfdfff"/><stop offset="0.252" stop-color="#e6e6ff"/><stop offset="0.296" stop-color="#eeeeff"/><stop offset="0.34" stop-color="#f9f9ff"/><stop offset="0.371" stop-color="#fefeff"/><stop offset="0.397" stop-color="#fffdfd"/><stop offset="0.424" stop-color="#fcd8dd"/><stop offset="0.45" stop-color="#f9b0ba"/><stop offset="0.494" stop-color="#f68595"/><stop offset="0.56" stop-color="#f57587"/><stop offset="0.626" stop-color="#f57c8e"/><stop offset="0.692" stop-color="#f68d9c"/><stop offset="0.758" stop-color="#f8a7b3"/><stop offset="0.824" stop-color="#fbc9d0"/><stop offset="0.89" stop-color="#fef4f6"/><stop offset="0.947" stop-color="#d5d5ff"/><stop offset="1" stop-color="#a7a7ff"/></linearGradient>
<linearGradient id="e42" x1="0" y1="0" x2="0" y2="1"><stop offset="0" stop-color="#e2e2ff"/><stop offset="0.054" stop-color="#dfdfff"/><stop offset="0.12" stop-color="#e0e0ff"/><stop offset="0.186" stop-color="#e3e3ff"/><stop offset="0.252" stop-color="#eaeaff"/><stop offset="0.296" stop-color="#f1f1ff"/><stop offset="0.34" stop-color="#fafaff"/><stop offset="0.371" stop-color="#fefeff"/><stop offset="0.397" stop-color="#fffcfd"/><stop offset="0.424" stop-color="#fcd7dc"/><stop offset="0.45" stop-color="#f9adb8"/><stop offset="0.494" stop-color="#f68292"/><stop offset="0.56" stop-color="#f46f82"/><stop offset="0.626" stop-color="#f47083"/><stop offset="0.692" stop-color="#f57b8d"/><stop offset="0.758" stop-color="#f68e9d"/><stop offset="0.824" stop-color="#f9abb6"/><stop offset="0.89" stop-color="#fcd2d8"/><stop offset="0.947" stop-color="#fafaff"/><stop offset="1" stop-color="#bdbdff"/></linearGradient>
<linearGradient id="e43" x1="0" y1="0" x2="0" y2="1"><stop offset="0" stop-color="#e3e3ff"/><stop offset="0.054" stop-color="#e2e2ff"/><stop offset="0.12" stop-color="#e3e3ff"/><stop offset="0.186" stop-color="#e7e7ff"/><stop offset="0.252" stop-color="#ededff"/><stop offset="0.296" stop-color="#f3f3ff"/><stop offset="0.34" stop-color="#fbfbff"/><stop offset="0.371" stop-color="#fefeff"/><stop offset="0.397" stop-color="#fffcfd"/><stop offset="0.424" stop-color="#fcd7dc"/><stop offset="0.45" stop-color="#f9adb8"/><stop offset="0.494" stop-color="#f68192"/><stop offset="0.56" stop-color="#f46d80"/><stop offset="0.626" stop-color="#f46a7e"/><stop offset="0.692" stop-color="#f46e81"/><stop offset="0.758" stop-color="#f57a8b"/><stop offset="0.824" stop-color="#f78f9e"/><stop offset="0.89" stop-color="#f9b0ba"/><stop offset="0.947" stop-color="#fcd6db"/><stop offset="1" stop-color="#e2e2ff"/></linearGradient>
<linearGradient id="e44" x1="0" y1="0" x2="0" y2="1"><stop offset="0" stop-color="#e5e5ff"/><stop offset="0.054" stop-color="#e5e5ff"/><stop offset="0.12" stop-color="#e7e7ff"/><stop offset="0.186" stop-color="#ebebff"/><stop offset="0.252" stop-color="#f0f0ff"/><stop offset="0.296" stop-color="#f5f5ff"/><stop offset="0.34" stop-color="#fbfbff"/><stop offset="0.371" stop-color="#fefeff"/><stop offset="0.397" stop-color="#fffdfd"/><stop offset="0.424" stop-color="#fcd8dd"/><stop offset="0.45" stop-color="#f9afba"/><stop offset="0.494" stop-color="#f68495"/><stop offset="0.56" stop-color="#f46f82"/><stop offset="0.626" stop-color="#f46a7e"/><stop offset="0.692" stop-color="#f4687c"/><stop offset="0.758" stop-color="#f46c80"/><stop offset="0.824" stop-color="#f5798b"/><stop offset="0.89" stop-color="#f7909f"/><stop offset="0.947" stop-color="#f9b0bb"/><stop offset="1" stop-color="#fde2e6"/></linearGradient>
<linearGradient id="e45" x1="0" y1="0" x2="0" y2="1"><stop offset="0" stop-color="#e7e7ff"/><stop offset="0.054" stop-color="#e8e8ff"/><stop offset="0.12" stop-color="#eaeaff"/><stop offset="0.186" stop-color="#eeeeff"/><stop offset="0.252" stop-color="#f2f2ff"/><stop offset="0.296" stop-color="#f7f7ff"/><stop offset="0.34" stop-color="#fcfcff"/><stop offset="0.371" stop-color="#fefeff"/><stop offset="0.397" stop-color="#fffdfd"/><stop offset="0.424" stop-color="#fcd9de"/><stop offset="0.45" stop-color="#f9b3bd"/><stop offset="0.494" stop-color="#f68a9a"/><stop offset="0.56" stop-color="#f57688"/><stop offset="0.626" stop-color="#f46f83"/><stop offset="0.692" stop-color="#f46b7e"/><stop offset="0.758" stop-color="#f4687c"/><stop offset="0.824" stop-color="#f46c7f"/><stop offset="0.89" stop-color="#f5788a"/><stop offset="0.947" stop-color="#f78f9e"/><stop offset="1" stop-color="#fab9c2"/></linearGradient>
<linearGradient id="e46" x1="0" y1="0" x2="0" y2="1"><stop offset="0" stop-color="#fef1f3"/><stop offset="0.054" stop-color="#feedf0"/><stop offset="0.12" stop-color="#fde8eb"/><stop offset="0.186" stop-color="#fde5e9"/><stop offset="0.252" stop-color="#fde7ea"/><stop offset="0.296" stop-color="#fffdfd"/><stop offset="0.34" stop-color="#fcfcff"/><stop offset="0.371" stop-color="#fdfdff"/><stop offset="0.397" stop-color="#fffdfd"/><stop offset="0.424" stop-color="#fcdce1"/><stop offset="0.45" stop-color="#fab8c2"/><stop offset="0.494" stop-color="#f793a1"/><stop offset="0.56" stop-color="#f58192"/><stop offset="0.626" stop-color="#f57b8c"/><stop offset="0.692" stop-color="#f57487"/><stop offset="0.758" stop-color="#f46e81"/><stop offset="0.824" stop-color="#f46a7e"/><stop offset="0.89" stop-color="#f46d80"/><stop offset="0.947" stop-color="#f5788a"/><stop offset="1" stop-color="#f798a5"/></linearGradient>
<linearGradient id="e47" x1="0" y1="0" x2="0" y2="1"><stop offset="0" stop-color="#fef1f3"/><stop offset="0.054" stop-color="#feedef"/><stop offset="0.12" stop-color="#fde8eb"/><stop offset="0.186" stop-color="#fde5e8"/><stop offset="0.252" stop-color="#fef7f8"/><stop offset="0.296" stop-color="#fbfbff"/><stop offset="0.34" stop-color="#f5f5ff"/><stop offset="0.371" stop-color="#fcfcff"/><stop offset="0.397" stop-color="#fffdfd"/><stop offset="0.424" stop-color="#fde0e4"/><stop offset="0.45" stop-color="#fabfc8"/><stop offset="0.494" stop-color="#f89daa"/><stop offset="0.56" stop-color="#f78f9e"/><stop offset="0.626" stop-color="#f68a9a"/><stop offset="0.692" stop-color="#f68595"/><stop offset="0.758" stop-color="#f57d8f"/><stop offset="0.824" stop-color="#f57587"/><stop offset="0.89" stop-color="#f46f83"/><stop offset="0.947" stop-color="#f47184"/><stop offset="1" stop-color="#f68595"/></linearGradient>
<linearGradient id="e48" x1="0" y1="0" x2="0" y2="1"><stop offset="0" stop-color="#fef1f3"/><stop offset="0.054" stop-color="#feedef"/><stop offset="0.12" stop-color="#fde8eb"/><stop offset="0.186" stop-color="#fde6ea"/><stop offset="0.252" stop-color="#fefeff"/><stop offset="0.296" stop-color="#eeeeff"/><stop offset="0.34" stop-color="#efefff"/><stop offset="0.371" stop-color="#fbfbff"/><stop offset="0.397" stop-color="#fffdfe"/><stop offset="0.424" stop-color="#fde4e7"/><stop offset="0.45" stop-color="#fbc7cf"/><stop offset="0.494" stop-color="#f9aab5"/><stop offset="0.56" stop-color="#f89eab"/><stop offset="0.626" stop-color="#f89daa"/><stop offset="0.692" stop-color="#f79aa7"/><stop offset="0.758" stop-color="#f793a2"/><stop offset="0.824" stop-color="#f68a9a"/><stop offset="0.89" stop-color="#f58091"/><stop offset="0.947" stop-color="#f57b8c"/><stop offset="1" stop-color="#f68595"/></linearGradient>
<linearGradient id="e49" x1="0" y1="0" x2="0" y2="1"><stop offset="0" stop-color="#fef1f3"/><stop offset="0.054" stop-color="#feedef"/><stop offset="0.12" stop-color="#fde8eb"/><stop offset="0.186" stop-color="#fef8f9"/><stop offset="0.252" stop-color="#f0f0ff"/><stop offset="0.296" stop-color="#e1e1ff"/><stop offset="0.34" stop-color="#eaeaff"/><stop offset="0.371" stop-color="#fafaff"/><stop offset="0.397" stop-color="#fffefe"/><stop offset="0.424" stop-color="#fde8eb"/><stop offset="0.45" stop-color="#fbd0d6"/><stop offset="0.494" stop-color="#fab7c0"/><stop offset="0.56" stop-color="#f9afba"/><stop offset="0.626" stop-color="#f9b1bc"/><stop offset="0.692" stop-color="#f9b1bc"/><stop offset="0.758" stop-color="#f9aeb8"/><stop offset="0.824" stop-color="#f8a6b2"/><stop offset="0.89" stop-color="#f89ca9"/><stop offset="0.947" stop-color="#f794a2"/><stop offset="1" stop-color="#f798a5"/></linearGradient>
<linearGradient id="e50" x1="0" y1="0" x2="0" y2="1"><stop offset="0" stop-color="#fef1f2"/><stop offset="0.054" stop-color="#feecef"/><stop offset="0.12" stop-color="#fde9ec"/><stop offset="0.186" stop-color="#fefeff"/><stop offset="0.252" stop-color="#dfdfff"/><stop offset="0.296" stop-color="#d6d6ff"/><stop offset="0.34" stop-color="#e8e8ff"/><stop offset="0.371" stop-color="#fafaff"/><stop offset="0.397" stop-color="#fffefe"/><stop offset="0.424" stop-color="#feecee"/><stop offset="0.45" stop-color="#fcd8dd"/><stop offset="0.494" stop-color="#fbc4cc"/><stop offset="0.56" stop-color="#fabfc8"/><stop offset="0.626" stop-color="#fbc5cc"/><stop offset="0.692" stop-color="#fbc8cf"/><stop offset="0.758" stop-color="#fbc9d0"/><stop offset="0.824" stop-color="#fbc6cd"/><stop offset="0.89" stop-color="#fabfc7"/><stop offset="0.947" stop-color="#fab7c1"/><stop offset="1" stop-color="#fabac3"/></linearGradient>
<linearGradient id="e51" x1="0" y1="0" x2="0" y2="1"><stop offset="0" stop-color="#fef0f2"/><stop offset="0.054" stop-color="#feecef"/><stop offset="0.12" stop-color="#fff9fa"/><stop offset="0.186" stop-color="#f0f0ff"/><stop offset="0.252" stop-color="#d1d1ff"/><stop offset="0.296" stop-color="#d0d0ff"/><stop offset="0.34" stop-color="#e7e7ff"/><stop offset="0.371" stop-color="#fafaff"/><stop offset="0.397" stop-color="#fffefe"/><stop offset="0.424" stop-color="#fef0f2"/><stop offset="0.45" stop-color="#fde0e4"/><stop offset="0.494" stop-color="#fbcfd6"/><stop offset="0.56" stop-color="#fbced4"/><stop offset="0.626" stop-color="#fcd5db"/><stop offset="0.692" stop-color="#fcdde1"/><stop offset="0.758" stop-color="#fde2e6"/><stop offset="0.824" stop-color="#fde4e8"/><stop offset="0.89" stop-color="#fde3e7"/><stop offset="0.947" stop-color="#fddfe4"/><stop offset="1" stop-color="#fde6ea"/></linearGradient>
<linearGradient id="e52" x1="0" y1="0" x2="0" y2="1"><stop offset="0" stop-color="#fef0f2"/><stop offset="0.054" stop-color="#feeef0"/><stop offset="0.12" stop-color="#fdfdff"/><stop offset="0.186" stop-color="#e0e0ff"/><stop offset="0.252" stop-color="#c8c8ff"/><stop offset="0.296" stop-color="#ccccff"/><stop offset="0.34" stop-color="#e7e7ff"/><stop offset="0.371" stop-color="#fafaff"/><stop offset="0.397" stop-color="#fffefe"/><stop offset="0.424" stop-color="#fef2f4"/><stop offset="0.45" stop-color="#fde5e8"/><stop offset="0.494" stop-color="#fcd7dc"/><stop offset="0.56" stop-color="#fcd8dd"/><stop offset="0.626" stop-color="#fde2e6"/><stop offset="0.692" stop-color="#feedf0"/><stop offset="0.758" stop-color="#fffbfb"/><stop offset="0.824" stop-color="#f4f4ff"/><stop offset="0.89" stop-color="#ececff"/><stop offset="0.947" stop-color="#e8e8ff"/><stop offset="1" stop-color="#d8d8ff"/></linearGradient>
<linearGradient id="e53" x1="0" y1="0" x2="0" y2="1"><stop offset="0" stop-color="#fef0f2"/><stop offset="0.054" stop-color="#fffbfb"/><stop offset="0.12" stop-color="#f2f2ff"/><stop offset="0.186" stop-color="#d3d3ff"/><stop offset="0.252" stop-color="#c3c3ff"/><stop offset="0.296" stop-color="#ccccff"/><stop offset="0.34" stop-color="#e8e8ff"/><stop offset="0.371" stop-color="#fafaff"/><stop offset="0.397" stop-color="#fffefe"/><stop offset="0.424" stop-color="#fef0f2"/><stop offset="0.45" stop-color="#fde0e4"/><stop offset="0.494" stop-color="#fbd0d6"/><stop offset="0.56" stop-color="#fcd8dd"/><stop offset="0.626" stop-color="#fde8eb"/><stop offset="0.692" stop-color="#fff9fa"/><stop offset="0.758" stop-color="#eeeeff"/><stop offset="0.824" stop-color="#dedeff"/><stop offset="0.89" stop-color="#d1d1ff"/><stop offset="0.947" stop-color="#c6c6ff"/><stop offset="1" stop-color="#b0b0ff"/></linearGradient>
<linearGradient id="e54" x1="0" y1="0" x2="0" y2="1"><stop offset="0" stop-color="#fef5f7"/><stop offset="0.054" stop-color="#fdfdff"/><stop offset="0.12" stop-color="#e4e4ff"/><stop offset="0.186" stop-color="#cacaff"/><stop offset="0.252" stop-color="#c1c1ff"/><stop offset="0.296" stop-color="#ceceff"/><stop offset="0.34" stop-color="#eaeaff"/><stop offset="0.371" stop-color="#fbfbff"/><stop offset="0.397" stop-color="#fffefe"/><stop offset="0.424" stop-color="#feecee"/><stop offset="0.45" stop-color="#fcd8dd"/><stop offset="0.494" stop-color="#fac3cb"/><stop offset="0.56" stop-color="#fbced4"/><stop offset="0.626" stop-color="#fde6e9"/><stop offset="0.692" stop-color="#fffefe"/><stop offset="0.758" stop-color="#e7e7ff"/><stop offset="0.824" stop-color="#d4d4ff"/><stop offset="0.89" stop-color="#c2c2ff"/><stop offset="0.947" stop-color="#b2b2ff"/><stop offset="1" stop-color="#9797ff"/></linearGradient>
<linearGradient id="e55" x1="0" y1="0" x2="0" y2="1"><stop offset="0" stop-color="#ffffff"/><stop offset="0.054" stop-color="#f3f3ff"/><stop offset="0.12" stop-color="#d9d9ff"/><stop offset="0.186" stop-color="#c6c6ff"/><stop offset="0.252" stop-color="#c3c3ff"/><stop offset="0.296" stop-color="#d1d1ff"/><stop offset="0.34" stop-color="#ececff"/><stop offset="0.371" stop-color="#fbfbff"/><stop offset="0.397" stop-color="#fffefe"/><stop offset="0.424" stop-color="#fde7ea"/><stop offset="0.45" stop-color="#fbced5"/><stop offset="0.494" stop-color="#f9b4be"/><stop offset="0.56" stop-color="#fabec7"/><stop offset="0.626" stop-color="#fcdce1"/><stop offset="0.692" stop-color="#fffafb"/><stop offset="0.758" stop-color="#e6e6ff"/><stop offset="0.824" stop-color="#d1d1ff"/><stop offset="0.89" stop-color="#bdbdff"/><stop offset="0.947" stop-color="#a9a9ff"/><stop offset="1" stop-color="#8989ff"/></linearGradient>
<linearGradient id="e56" x1="0" y1="0" x2="0" y2="1"><stop offset="0" stop-color="#fbfbff"/><stop offset="0.054" stop-color="#e8e8ff"/><stop offset="0.12" stop-color="#d1d1ff"/><stop offset="0.186" stop-color="#c4c4ff"/><stop offset="0.252" stop-color="#c6c6ff"/><stop offset="0.296" stop-color="#d5d5ff"/><stop offset="0.34" stop-color="#eeeeff"/><stop offset="0.371" stop-color="#fcfcff"/><stop offset="0.397" stop-color="#fffdfd"/><stop offset="0.424" stop-color="#fde2e6"/><stop offset="0.45" stop-color="#fbc4cc"/><stop offset="0.494" stop-color="#f8a5b1"/><stop offset="0.56" stop-color="#f9acb7"/><stop offset="0.626" stop-color="#fbcdd3"/><stop offset="0.692" stop-color="#feeef0"/><stop offset="0.758" stop-color="#e8e8ff"/><stop offset="0.824" stop-color="#d1d1ff"/><stop offset="0.89" stop-color="#bbbbff"/><stop offset="0.947" stop-color="#a6a6ff"/><stop offset="1" stop-color="#8484ff"/></linearGradient>
<linearGradient id="e57" x1="0" y1="0" x2="0" y2="1"><stop offset="0" stop-color="#f1f1ff"/><stop offset="0.054" stop-color="#dfdfff"/><stop offset="0.12" stop-color="#cdcdff"/><stop offset="0.186" stop-color="#c6c6ff"/><stop offset="0.252" stop-color="#cbcbff"/><stop offset="0.296" stop-color="#dadaff"/><stop offset="0.34" stop-color="#f0f0ff"/><stop offset="0.371" stop-color="#fcfcff"/><stop offset="0.397" stop-color="#fffdfd"/><stop offset="0.424" stop-color="#fcdde2"/><stop offset="0.45" stop-color="#fabbc4"/><stop offset="0.494" stop-color="#f796a4"/><stop offset="0.56" stop-color="#f799a6"/><stop offset="0.626" stop-color="#fab9c2"/><stop offset="0.692" stop-color="#fcdce1"/><stop offset="0.758" stop-color="#f4f4ff"/><stop offset="0.824" stop-color="#d3d3ff"/><stop offset="0.89" stop-color="#bbbbff"/><stop offset="0.947" stop-color="#a6a6ff"/><stop offset="1" stop-color="#8383ff"/></linearGradient>
<linearGradient id="e58" x1="0" y1="0" x2="0" y2="1"><stop offset="0" stop-color="#e8e8ff"/><stop offset="0.054" stop-color="#d9d9ff"/><stop offset="0.12" stop-color="#cdcdff"/><stop offset="0.186" stop-color="#cacaff"/><stop offset="0.252" stop-color="#d0d0ff"/><stop offset="0.296" stop-color="#dedeff"/><stop offset="0.34" stop-color="#f2f2ff"/><stop offset="0.371" stop-color="#fdfdff"/><stop offset="0.397" stop-color="#fffdfd"/><stop offset="0.424" stop-color="#fcd9de"/><stop offset="0.45" stop-color="#f9b2bc"/><stop offset="0.494" stop-color="#f68898"/><stop offset="0.56" stop-color="#f68696"/><stop offset="0.626" stop-color="#f8a2af"/><stop offset="0.692" stop-color="#fbc6ce"/><stop offset="0.758" stop-color="#feeef1"/><stop offset="0.824" stop-color="#dcdcff"/><stop offset="0.89" stop-color="#bdbdff"/><stop offset="0.947" stop-color="#a6a6ff"/><stop offset="1" stop-color="#8282ff"/></linearGradient>
<linearGradient id="e59" x1="0" y1="0" x2="0" y2="1"><stop offset="0" stop-color="#e2e2ff"/><stop offset="0.054" stop-color="#d6d6ff"/><stop offset="0.12" stop-color="#ceceff"/><stop offset="0.186" stop-color="#ceceff"/><stop offset="0.252" stop-color="#d6d6ff"/><stop offset="0.296" stop-color="#e3e3ff"/><stop offset="0.34" stop-color="#f4f4ff"/><stop offset="0.371" stop-color="#fdfdff"/><stop offset="0.397" stop-color="#fffcfd"/><stop offset="0.424" stop-color="#fcd5db"/><stop offset="0.45" stop-color="#f9aab5"/><stop offset="0.494" stop-color="#f57c8e"/><stop offset="0.56" stop-color="#f47486"/><stop offset="0.626" stop-color="#f68b9b"/><stop offset="0.692" stop-color="#f9adb8"/><stop offset="0.758" stop-color="#fcd4da"/><stop offset="0.824" stop-color="#f3f3ff"/><stop offset="0.89" stop-color="#c6c6ff"/><stop offset="0.947" stop-color="#a8a8ff"/><stop offset="1" stop-color="#8282ff"/></linearGradient>
<linearGradient id="e60" x1="0" y1="0" x2="0" y2="1"><stop offset="0" stop-color="#dedeff"/><stop offset="0.054" stop-color="#d5d5ff"/><stop offset="0.12" stop-color="#d1d1ff"/><stop offset="0.186" stop-color="#d3d3ff"/><stop offset="0.252" stop-color="#dbdbff"/><stop offset="0.296" stop-color="#e7e7ff"/><stop offset="0.34" stop-color="#f6f6ff"/><stop offset="0.371" stop-color="#fdfdff"/><stop offset="0.397" stop-color="#fffcfd"/><stop offset="0.424" stop-color="#fcd2d8"/><stop offset="0.45" stop-color="#f8a4b0"/><stop offset="0.494" stop-color="#f47386"/><stop offset="0.56" stop-color="#f3657a"/><stop offset="0.626" stop-color="#f57688"/><stop offset="0.692" stop-color="#f792a1"/><stop offset="0.758" stop-color="#fab8c1"/><stop offset="0.824" stop-color="#fde4e7"/><stop offset="0.89" stop-color="#dadaff"/><stop offset="0.947" stop-color="#b3b3ff"/><stop offset="1" stop-color="#8686ff"/></linearGradient>
<linearGradient id="e61" x1="0" y1="0" x2="0" y2="1"><stop offset="0" stop-color="#dcdcff"/><stop offset="0.054" stop-color="#d6d6ff"/><stop offset="0.12" stop-color="#d5d5ff"/><stop offset="0.186" stop-color="#d9d9ff"/><stop offset="0.252" stop-color="#e0e0ff"/><stop offset="0.296" stop-color="#ebebff"/><stop offset="0.34" stop-color="#f7f7ff"/><stop offset="0.371" stop-color="#fefeff"/><stop offset="0.397" stop-color="#fffcfc"/><stop offset="0.424" stop-color="#fbd0d6"/><stop offset="0.45" stop-color="#f8a0ad"/><stop offset="0.494" stop-color="#f46d81"/><stop offset="0.56" stop-color="#f35a70"/><stop offset="0.626" stop-color="#f36478"/><stop offset="0.692" stop-color="#f5798b"/><stop offset="0.758" stop-color="#f799a7"/><stop offset="0.824" stop-color="#fac2ca"/><stop offset="0.89" stop-color="#fef8f9"/><stop offset="0.947" stop-color="#c9c9ff"/><stop offset="1" stop-color="#9393ff"/></linearGradient>
<linearGradient id="e62" x1="0" y1="0" x2="0" y2="1"><stop offset="0" stop-color="#dcdcff"/><stop offset="0.054" stop-color="#d9d9ff"/><stop offset="0.12" stop-color="#dadaff"/><stop offset="0.186" stop-color="#dedeff"/><stop offset="0.252" stop-color="#e5e5ff"/><stop offset="0.296" stop-color="#eeeeff"/><stop offset="0.34" stop-color="#f9f9ff"/><stop offset="0.371" stop-color="#fefeff"/><stop offset="0.397" stop-color="#fffcfc"/><stop offset="0.424" stop-color="#fbcfd6"/><stop offset="0.45" stop-color="#f89eab"/><stop offset="0.494" stop-color="#f46b7e"/><stop offset="0.56" stop-color="#f2546b"/><stop offset="0.626" stop-color="#f2576d"/><stop offset="0.692" stop-color="#f36479"/><stop offset="0.758" stop-color="#f57c8e"/><stop offset="0.824" stop-color="#f8a0ac"/><stop offset="0.89" stop-color="#fbced4"/><stop offset="0.947" stop-color="#f2f2ff"/><stop offset="1" stop-color="#aeaeff"/></linearGradient>
<linearGradient id="e63" x1="0" y1="0" x2="0" y2="1"><stop offset="0" stop-color="#dedeff"/><stop offset="0.054" stop-color="#dcdcff"/><stop offset="0.12" stop-color="#dedeff"/><stop offset="0.186" stop-color="#e2e2ff"/><stop offset="0.252" stop-color="#e9e9ff"/><stop offset="0.296" stop-color="#f1f1ff"/><stop offset="0.34" stop-color="#fafaff"/><stop offset="0.371" stop-color="#fefeff"/><stop offset="0.397" stop-color="#fffcfc"/><stop offset="0.424" stop-color="#fbd0d6"/><stop offset="0.45" stop-color="#f89fac"/><stop offset="0.494" stop-color="#f46c7f"/><stop offset="0.56" stop-color="#f2546a"/><stop offset="0.626" stop-color="#f25168"/><stop offset="0.692" stop-color="#f2566d"/><stop offset="0.758" stop-color="#f36579"/><stop offset="0.824" stop-color="#f57f90"/><stop offset="0.89" stop-color="#f8a6b2"/><stop offset="0.947" stop-color="#fcd4da"/><stop offset="1" stop-color="#d7d7ff"/></linearGradient>
<linearGradient id="e64" x1="0" y1="0" x2="0" y2="1"><stop offset="0" stop-color="#e1e1ff"/><stop offset="0.054" stop-color="#e0e0ff"/><stop offset="0.12" stop-color="#e3e3ff"/><stop offset="0.186" stop-color="#e7e7ff"/><stop offset="0.252" stop-color="#ededff"/><stop offset="0.296" stop-color="#f3f3ff"/><stop offset="0.34" stop-color="#fbfbff"/><stop offset="0.371" stop-color="#fefeff"/><stop offset="0.397" stop-color="#fffcfd"/><stop offset="0.424" stop-color="#fcd1d7"/><stop offset="0.45" stop-color="#f8a2af"/><stop offset="0.494" stop-color="#f47083"/><stop offset="0.56" stop-color="#f2586e"/><stop offset="0.626" stop-color="#f25269"/><stop offset="0.692" stop-color="#f25168"/><stop offset="0.758" stop-color="#f2566d"/><stop offset="0.824" stop-color="#f3667a"/><stop offset="0.89" stop-color="#f68293"/><stop offset="0.947" stop-color="#f8a8b4"/><stop offset="1" stop-color="#fde3e7"/></linearGradient>
<linearGradient id="e65" x1="0" y1="0" x2="0" y2="1"><stop offset="0" stop-color="#e4e4ff"/><stop offset="0.054" stop-color="#e4e4ff"/><stop offset="0.12" stop-color="#e7e7ff"/><stop offset="0.186" stop-color="#ebebff"/><stop offset="0.252" stop-color="#f0f0ff"/><stop offset="0.296" stop-color="#f5f5ff"/><stop offset="0.34" stop-color="#fbfbff"/><stop offset="0.371" stop-color="#fefeff"/><stop offset="0.397" stop-color="#fffcfd"/><stop offset="0.424" stop-color="#fcd4da"/><stop offset="0.45" stop-color="#f8a7b3"/><stop offset="0.494" stop-color="#f5798a"/><stop offset="0.56" stop-color="#f36176"/><stop offset="0.626" stop-color="#f35a70"/><stop offset="0.692" stop-color="#f2556b"/><stop offset="0.758" stop-color="#f2536a"/><stop offset="0.824" stop-color="#f2576e"/><stop offset="0.89" stop-color="#f4687c"/><stop offset="0.947" stop-color="#f68393"/><stop offset="1" stop-color="#f9b3bd"/></linearGradient>
<linearGradient id="e66" x1="0" y1="0" x2="0" y2="1"><stop offset="0" stop-color="#feeff1"/><stop offset="0.054" stop-color="#fdebee"/><stop offset="0.12" stop-color="#fde5e9"/><stop offset="0.186" stop-color="#fde2e6"/><stop offset="0.252" stop-color="#fde3e7"/><stop offset="0.296" stop-color="#fffbfb"/><stop offset="0.34" stop-color="#fcfcff"/><stop offset="0.371" stop-color="#fdfdff"/><stop offset="0.397" stop-color="#fffdfd"/><stop offset="0.424" stop-color="#fcd7dd"/><stop offset="0.45" stop-color="#f9afb9"/><stop offset="0.494" stop-color="#f68494"/><stop offset="0.56" stop-color="#f46f82"/><stop offset="0.626" stop-color="#f4687c"/><stop offset="0.692" stop-color="#f36176"/><stop offset="0.758" stop-color="#f35a70"/><stop offset="0.824" stop-color="#f2576d"/><stop offset="0.89" stop-color="#f35b70"/><stop offset="0.947" stop-color="#f4697d"/><stop offset="1" stop-color="#f68e9d"/></linearGradient>
<linearGradient id="e67" x1="0" y1="0" x2="0" y2="1"><stop offset="0" stop-color="#feeff1"/><stop offset="0.054" stop-color="#fdebee"/><stop offset="0.12" stop-color="#fde5e9"/><stop offset="0.186" stop-color="#fde2e6"/><stop offset="0.252" stop-color="#fef4f6"/><stop offset="0.296" stop-color="#fcfcff"/><stop offset="0.34" stop-color="#f5f5ff"/><stop offset="0.371" stop-color="#fcfcff"/><stop offset="0.397" stop-color="#fffdfd"/><stop offset="0.424" stop-color="#fcdce0"/><stop offset="0.45" stop-color="#fab7c1"/><stop offset="0.494" stop-color="#f7919f"/><stop offset="0.56" stop-color="#f58091"/><stop offset="0.626" stop-color="#f57b8d"/><stop offset="0.692" stop-color="#f57587"/><stop offset="0.758" stop-color="#f46c80"/><stop offset="0.824" stop-color="#f36378"/><stop offset="0.89" stop-color="#f35e73"/><stop offset="0.947" stop-color="#f36176"/><stop offset="1" stop-color="#f5788a"/></linearGradient>
<linearGradient id="e68" x1="0" y1="0" x2="0" y2="1"><stop offset="0" stop-color="#feeff2"/><stop offset="0.054" stop-color="#fdebee"/><stop offset="0.12" stop-color="#fde5e9"/><stop offset="0.186" stop-color="#fde3e7"/><stop offset="0.252" stop-color="#fefeff"/><stop offset="0.296" stop-color="#efefff"/><stop offset="0.34" stop-color="#eeeeff"/><stop offset="0.371" stop-color="#fafaff"/><stop offset="0.397" stop-color="#fffdfd"/><stop offset="0.424" stop-color="#fde0e4"/><stop offset="0.45" stop-color="#fac1c9"/><stop offset="0.494" stop-color="#f8a0ac"/><stop offset="0.56" stop-color="#f793a1"/><stop offset="0.626" stop-color="#f791a0"/><stop offset="0.692" stop-color="#f68d9c"/><stop offset="0.758" stop-color="#f68696"/><stop offset="0.824" stop-color="#f57c8d"/><stop offset="0.89" stop-color="#f47184"/><stop offset="0.947" stop-color="#f46b7f"/><stop offset="1" stop-color="#f5788a"/></linearGradient>
<linearGradient id="e69" x1="0" y1="0" x2="0" y2="1"><stop offset="0" stop-color="#feeff2"/><stop offset="0.054" stop-color="#fdebee"/><stop offset="0.12" stop-color="#fde6e9"/><stop offset="0.186" stop-color="#fef5f6"/><stop offset="0.252" stop-color="#f1f1ff"/><stop offset="0.296" stop-color="#e0e0ff"/><stop offset="0.34" stop-color="#e9e9ff"/><stop offset="0.371" stop-color="#fafaff"/><stop offset="0.397" stop-color="#fffdfe"/><stop offset="0.424" stop-color="#fde5e9"/><stop offset="0.45" stop-color="#fbcbd2"/><stop offset="0.494" stop-color="#f9afba"/><stop offset="0.56" stop-color="#f8a6b2"/><stop offset="0.626" stop-color="#f8a8b4"/><stop offset="0.692" stop-color="#f8a8b3"/><stop offset="0.758" stop-color="#f8a4b0"/><stop offset="0.824" stop-color="#f79ba9"/><stop offset="0.89" stop-color="#f7909f"/><stop offset="0.947" stop-color="#f68797"/><stop offset="1" stop-color="#f68c9b"/></linearGradient>
<linearGradient id="e70" x1="0" y1="0" x2="0" y2="1"><stop offset="0" stop-color="#fef0f2"/><stop offset="0.054" stop-color="#fdebee"/><stop offset="0.12" stop-color="#fde7ea"/><stop offset="0.186" stop-color="#fefeff"/><stop offset="0.252" stop-color="#dfdfff"/><stop offset="0.296" stop-color="#d5d5ff"/><stop offset="0.34" stop-color="#e6e6ff"/><stop offset="0.371" stop-color="#fafaff"/><stop offset="0.397" stop-color="#fffefe"/><stop offset="0.424" stop-color="#fdeaed"/><stop offset="0.45" stop-color="#fcd5da"/><stop offset="0.494" stop-color="#fabec7"/><stop offset="0.56" stop-color="#fab9c2"/><stop offset="0.626" stop-color="#fabec7"/><stop offset="0.692" stop-color="#fac2ca"/><stop offset="0.758" stop-color="#fac2ca"/><stop offset="0.824" stop-color="#fabec7"/><stop offset="0.89" stop-color="#f9b6c0"/><stop offset="0.947" stop-color="#f9adb8"/><stop offset="1" stop-color="#f9b0bb"/></linearGradient>
<linearGradient id="e71" x1="0" y1="0" x2="0" y2="1"><stop offset="0" stop-color="#fef0f2"/><stop offset="0.054" stop-color="#feebee"/><stop offset="0.12" stop-color="#fef7f8"/><stop offset="0.186" stop-color="#f1f1ff"/><stop offset="0.252" stop-color="#d0d0ff"/><stop offset="0.296" stop-color="#ceceff"/><stop offset="0.34" stop-color="#e5e5ff"/><stop offset="0.371" stop-color="#fafaff"/><stop offset="0.397" stop-color="#fffefe"/><stop offset="0.424" stop-color="#feeef1"/><stop offset="0.45" stop-color="#fcdde2"/><stop offset="0.494" stop-color="#fbcbd2"/><stop offset="0.56" stop-color="#fbc9d0"/><stop offset="0.626" stop-color="#fcd1d7"/><stop offset="0.692" stop-color="#fcd9de"/><stop offset="0.758" stop-color="#fcdee2"/><stop offset="0.824" stop-color="#fddfe4"/><stop offset="0.89" stop-color="#fcdde2"/><stop offset="0.947" stop-color="#fcd9de"/><stop offset="1" stop-color="#fddfe3"/></linearGradient>
<linearGradient id="e72" x1="0" y1="0" x2="0" y2="1"><stop offset="0" stop-color="#fef0f2"/><stop offset="0.054" stop-color="#feecef"/><stop offset="0.12" stop-color="#fefeff"/><stop offset="0.186" stop-color="#e1e1ff"/><stop offset="0.252" stop-color="#c6c6ff"/><stop offset="0.296" stop-color="#cacaff"/><stop offset="0.34" stop-color="#e6e6ff"/><stop offset="0.371" stop-color="#fafaff"/><stop offset="0.397" stop-color="#fffefe"/><stop offset="0.424" stop-color="#fef1f3"/><stop offset="0.45" stop-color="#fde4e7"/><stop offset="0.494" stop-color="#fcd5da"/><stop offset="0.56" stop-color="#fcd5db"/><stop offset="0.626" stop-color="#fddfe4"/><stop offset="0.692" stop-color="#fdebee"/><stop offset="0.758" stop-color="#fef8f9"/><stop offset="0.824" stop-color="#f8f8ff"/><stop offset="0.89" stop-color="#f0f0ff"/><stop offset="0.947" stop-color="#ececff"/><stop offset="1" stop-color="#dcdcff"/></linearGradient>
<linearGradient id="e73" x1="0" y1="0" x2="0" y2="1"><stop offset="0" stop-color="#fef0f2"/><stop offset="0.054" stop-color="#fff9fa"/><stop offset="0.12" stop-color="#f3f3ff"/><stop offset="0.186" stop-color="#d3d3ff"/><stop offset="0.252" stop-color="#c1c1ff"/><stop offset="0.296" stop-color="#cbcbff"/><stop offset="0.34" stop-color="#e7e7ff"/><stop offset="0.371" stop-color="#fafaff"/><stop offset="0.397" stop-color="#fffefe"/><stop offset="0.424" stop-color="#fef0f2"/><stop offset="0.45" stop-color="#fde0e4"/><stop offset="0.494" stop-color="#fbcfd6"/><stop offset="0.56" stop-color="#fcd8dd"/><stop offset="0.626" stop-color="#fde7ea"/><stop offset="0.692" stop-color="#fef8f9"/><stop offset="0.758" stop-color="#eeeeff"/><stop offset="0.824" stop-color="#dfdfff"/><stop offset="0.89" stop-color="#d2d2ff"/><stop offset="0.947" stop-color="#c7c7ff"/><stop offset="1" stop-color="#b2b2ff"/></linearGradient>
<linearGradient id="e74" x1="0" y1="0" x2="0" y2="1"><stop offset="0" stop-color="#fef4f5"/><stop offset="0.054" stop-color="#fefeff"/><stop offset="0.12" stop-color="#e5e5ff"/><stop offset="0.186" stop-color="#cacaff"/><stop offset="0.252" stop-color="#c0c0ff"/><stop offset="0.296" stop-color="#cdcdff"/><stop offset="0.34" stop-color="#e9e9ff"/><stop offset="0.371" stop-color="#fbfbff"/><stop offset="0.397" stop-color="#fffefe"/><stop offset="0.424" stop-color="#feecef"/><stop offset="0.45" stop-color="#fcd8de"/><stop offset="0.494" stop-color="#fbc4cc"/><stop offset="0.56" stop-color="#fbced5"/><stop offset="0.626" stop-color="#fde6ea"/><stop offset="0.692" stop-color="#fffdfe"/><stop offset="0.758" stop-color="#e7e7ff"/><stop offset="0.824" stop-color="#d4d4ff"/><stop offset="0.89" stop-color="#c3c3ff"/><stop offset="0.947" stop-color="#b3b3ff"/><stop offset="1" stop-color="#9898ff"/></linearGradient>
<linearGradient id="e75" x1="0" y1="0" x2="0" y2="1"><stop offset="0" stop-color="#fffefe"/><stop offset="0.054" stop-color="#f5f5ff"/><stop offset="0.12" stop-color="#dadaff"/><stop offset="0.186" stop-color="#c6c6ff"/><stop offset="0.252" stop-color="#c3c3ff"/><stop offset="0.296" stop-color="#d1d1ff"/><stop offset="0.34" stop-color="#ebebff"/><stop offset="0.371" stop-color="#fbfbff"/><stop offset="0.397" stop-color="#fffefe"/><stop offset="0.424" stop-color="#fde8eb"/><stop offset="0.45" stop-color="#fbd0d6"/><stop offset="0.494" stop-color="#f9b6c0"/><stop offset="0.56" stop-color="#fac0c9"/><stop offset="0.626" stop-color="#fcdee2"/><stop offset="0.692" stop-color="#fffbfb"/><stop offset="0.758" stop-color="#e6e6ff"/><stop offset="0.824" stop-color="#d1d1ff"/><stop offset="0.89" stop-color="#bdbdff"/><stop offset="0.947" stop-color="#aaaaff"/><stop offset="1" stop-color="#8a8aff"/></linearGradient>
<linearGradient id="e76" x1="0" y1="0" x2="0" y2="1"><stop offset="0" stop-color="#fcfcff"/><stop offset="0.054" stop-color="#e9e9ff"/><stop offset="0.12" stop-color="#d2d2ff"/><stop offset="0.186" stop-color="#c5c5ff"/><stop offset="0.252" stop-color="#c7c7ff"/><stop offset="0.296" stop-color="#d5d5ff"/><stop offset="0.34" stop-color="#eeeeff"/><stop offset="0.371" stop-color="#fcfcff"/><stop offset="0.397" stop-color="#fffdfd"/><stop offset="0.424" stop-color="#fde3e7"/><stop offset="0.45" stop-color="#fbc6ce"/><stop offset="0.494" stop-color="#f8a8b4"/><stop offset="0.56" stop-color="#f9afba"/><stop offset="0.626" stop-color="#fbcfd6"/><stop offset="0.692" stop-color="#fef0f2"/><stop offset="0.758" stop-color="#e8e8ff"/><stop offset="0.824" stop-color="#d1d1ff"/><stop offset="0.89" stop-color="#bcbcff"/><stop offset="0.947" stop-color="#a8a8ff"/><stop offset="1" stop-color="#8686ff"/></linearGradient>
<linearGradient id="e77" x1="0" y1="0" x2="0" y2="1"><stop offset="0" stop-color="#f3f3ff"/><stop offset="0.054" stop-color="#e0e0ff"/><stop offset="0.12" stop-color="#cfcfff"/><stop offset="0.186" stop-color="#c7c7ff"/><stop offset="0.252" stop-color="#ccccff"/><stop offset="0.296" stop-color="#dadaff"/><stop offset="0.34" stop-color="#f0f0ff"/><stop offset="0.371" stop-color="#fcfcff"/><stop offset="0.397" stop-color="#fffdfd"/><stop offset="0.424" stop-color="#fddfe3"/><stop offset="0.45" stop-color="#fabec6"/><stop offset="0.494" stop-color="#f79ba8"/><stop offset="0.56" stop-color="#f89eab"/><stop offset="0.626" stop-color="#fabdc6"/><stop offset="0.692" stop-color="#fddfe4"/><stop offset="0.758" stop-color="#f3f3ff"/><stop offset="0.824" stop-color="#d4d4ff"/><stop offset="0.89" stop-color="#bdbdff"/><stop offset="0.947" stop-color="#a8a8ff"/><stop offset="1" stop-color="#8686ff"/></linearGradient>
<linearGradient id="e78" x1="0" y1="0" x2="0" y2="1"><stop offset="0" stop-color="#eaeaff"/><stop offset="0.054" stop-color="#dbdbff"/><stop offset="0.12" stop-color="#cfcfff"/><stop offset="0.186" stop-color="#cbcbff"/><stop offset="0.252" stop-color="#d2d2ff"/><stop offset="0.296" stop-color="#dfdfff"/><stop offset="0.34" stop-color="#f2f2ff"/><stop offset="0.371" stop-color="#fdfdff"/><stop offset="0.397" stop-color="#fffdfd"/><stop offset="0.424" stop-color="#fcdbe0"/><stop offset="0.45" stop-color="#f9b6bf"/><stop offset="0.494" stop-color="#f68e9d"/><stop offset="0.56" stop-color="#f68c9c"/><stop offset="0.626" stop-color="#f8a8b4"/><stop offset="0.692" stop-color="#fbcbd2"/><stop offset="0.758" stop-color="#fef2f4"/><stop offset="0.824" stop-color="#dcdcff"/><stop offset="0.89" stop-color="#bfbfff"/><stop offset="0.947" stop-color="#a9a9ff"/><stop offset="1" stop-color="#8787ff"/></linearGradient>
<linearGradient id="e79" x1="0" y1="0" x2="0" y2="1"><stop offset="0" stop-color="#e4e4ff"/><stop offset="0.054" stop-color="#d8d8ff"/><stop offset="0.12" stop-color="#d0d0ff"/><stop offset="0.186" stop-color="#d0d0ff"/><stop offset="0.252" stop-color="#d8d8ff"/><stop offset="0.296" stop-color="#e4e4ff"/><stop offset="0.34" stop-color="#f4f4ff"/><stop offset="0.371" stop-color="#fdfdff"/><stop offset="0.397" stop-color="#fffdfd"/><stop offset="0.424" stop-color="#fcd8dd"/><stop offset="0.45" stop-color="#f9afba"/><stop offset="0.494" stop-color="#f68495"/><stop offset="0.56" stop-color="#f57d8e"/><stop offset="0.626" stop-color="#f794a2"/><stop offset="0.692" stop-color="#f9b4be"/><stop offset="0.758" stop-color="#fcd9de"/><stop offset="0.824" stop-color="#f0f0ff"/><stop offset="0.89" stop-color="#c8c8ff"/><stop offset="0.947" stop-color="#acacff"/><stop offset="1" stop-color="#8989ff"/></linearGradient>
<linearGradient id="e80" x1="0" y1="0" x2="0" y2="1"><stop offset="0" stop-color="#e0e0ff"/><stop offset="0.054" stop-color="#d8d8ff"/><stop offset="0.12" stop-color="#d4d4ff"/><stop offset="0.186" stop-color="#d6d6ff"/><stop offset="0.252" stop-color="#ddddff"/><stop offset="0.296" stop-color="#e8e8ff"/><stop offset="0.34" stop-color="#f6f6ff"/><stop offset="0.371" stop-color="#fdfdff"/><stop offset="0.397" stop-color="#fffcfd"/><stop offset="0.424" stop-color="#fcd5db"/><stop offset="0.45" stop-color="#f9aab6"/><stop offset="0.494" stop-color="#f57d8f"/><stop offset="0.56" stop-color="#f47184"/><stop offset="0.626" stop-color="#f58192"/><stop offset="0.692" stop-color="#f89ca9"/><stop offset="0.758" stop-color="#fabfc8"/><stop offset="0.824" stop-color="#fde9ec"/><stop offset="0.89" stop-color="#dadaff"/><stop offset="0.947" stop-color="#b6b6ff"/><stop offset="1" stop-color="#8e8eff"/></linearGradient>
<linearGradient id="e81" x1="0" y1="0" x2="0" y2="1"><stop offset="0" stop-color="#dfdfff"/><stop offset="0.054" stop-color="#d9d9ff"/><stop offset="0.12" stop-color="#d8d8ff"/><stop offset="0.186" stop-color="#dbdbff"/><stop offset="0.252" stop-color="#e2e2ff"/><stop offset="0.296" stop-color="#ececff"/><stop offset="0.34" stop-color="#f8f8ff"/><stop offset="0.371" stop-color="#fefeff"/><stop offset="0.397" stop-color="#fffcfd"/><stop offset="0.424" stop-color="#fcd4da"/><stop offset="0.45" stop-color="#f8a8b3"/><stop offset="0.494" stop-color="#f5798b"/><stop offset="0.56" stop-color="#f4687c"/><stop offset="0.626" stop-color="#f47284"/><stop offset="0.692" stop-color="#f68696"/><stop offset="0.758" stop-color="#f8a4b0"/><stop offset="0.824" stop-color="#fbcad1"/><stop offset="0.89" stop-color="#fffefe"/><stop offset="0.947" stop-color="#cbcbff"/><stop offset="1" stop-color="#9a9aff"/></linearGradient>
<linearGradient id="e82" x1="0" y1="0" x2="0" y2="1"><stop offset="0" stop-color="#dfdfff"/><stop offset="0.054" stop-color="#dcdcff"/><stop offset="0.12" stop-color="#ddddff"/><stop offset="0.186" stop-color="#e0e0ff"/><stop offset="0.252" stop-color="#e7e7ff"/><stop offset="0.296" stop-color="#efefff"/><stop offset="0.34" stop-color="#f9f9ff"/><stop offset="0.371" stop-color="#fefeff"/><stop offset="0.397" stop-color="#fffcfd"/><stop offset="0.424" stop-color="#fcd4d9"/><stop offset="0.45" stop-color="#f8a7b3"/><stop offset="0.494" stop-color="#f5788a"/><stop offset="0.56" stop-color="#f36479"/><stop offset="0.626" stop-color="#f4677c"/><stop offset="0.692" stop-color="#f57487"/><stop offset="0.758" stop-color="#f68b9a"/><stop offset="0.824" stop-color="#f9acb7"/><stop offset="0.89" stop-color="#fcd6db"/><stop offset="0.947" stop-color="#ededff"/><stop offset="1" stop-color="#b2b2ff"/></linearGradient>
<linearGradient id="e83" x1="0" y1="0" x2="0" y2="1"><stop offset="0" stop-color="#e1e1ff"/><stop offset="0.054" stop-color="#e0e0ff"/><stop offset="0.12" stop-color="#e1e1ff"/><stop offset="0.186" stop-color="#e5e5ff"/><stop offset="0.252" stop-color="#ebebff"/><stop offset="0.296" stop-color="#f2f2ff"/><stop offset="0.34" stop-color="#fafaff"/><stop offset="0.371" stop-color="#fefeff"/><stop offset="0.397" stop-color="#fffcfd"/><stop offset="0.424" stop-color="#fcd4da"/><stop offset="0.45" stop-color="#f8a9b4"/><stop offset="0.494" stop-color="#f57b8c"/><stop offset="0.56" stop-color="#f3657a"/><stop offset="0.626" stop-color="#f36378"/><stop offset="0.692" stop-color="#f4697d"/><stop offset="0.758" stop-color="#f57789"/><stop offset="0.824" stop-color="#f78f9e"/><stop offset="0.89" stop-color="#f9b3bd"/><stop offset="0.947" stop-color="#fcdde1"/><stop offset="1" stop-color="#d6d6ff"/></linearGradient>
<linearGradient id="e84" x1="0" y1="0" x2="0" y2="1"><stop offset="0" stop-color="#e4e4ff"/><stop offset="0.054" stop-color="#e3e3ff"/><stop offset="0.12" stop-color="#e6e6ff"/><stop offset="0.186" stop-color="#e9e9ff"/><stop offset="0.252" stop-color="#efefff"/><stop offset="0.296" stop-color="#f4f4ff"/><stop offset="0.34" stop-color="#fbfbff"/><stop offset="0.371" stop-color="#fefeff"/><stop offset="0.397" stop-color="#fffcfd"/><stop offset="0.424" stop-color="#fcd6dc"/><stop offset="0.45" stop-color="#f9acb7"/><stop offset="0.494" stop-color="#f58091"/><stop offset="0.56" stop-color="#f46a7e"/><stop offset="0.626" stop-color="#f3657a"/><stop offset="0.692" stop-color="#f3657a"/><stop offset="0.758" stop-color="#f46b7e"/><stop offset="0.824" stop-color="#f5798b"/><stop offset="0.89" stop-color="#f794a2"/><stop offset="0.947" stop-color="#fab6c0"/><stop offset="1" stop-color="#feecee"/></linearGradient>
<linearGradient id="e85" x1="0" y1="0" x2="0" y2="1"><stop offset="0" stop-color="#e7e7ff"/><stop offset="0.054" stop-color="#e7e7ff"/><stop offset="0.12" stop-color="#e9e9ff"/><stop offset="0.186" stop-color="#ededff"/><stop offset="0.252" stop-color="#f2f2ff"/><stop offset="0.296" stop-color="#f6f6ff"/><stop offset="0.34" stop-color="#fcfcff"/><stop offset="0.371" stop-color="#fefeff"/><stop offset="0.397" stop-color="#fffdfd"/><stop offset="0.424" stop-color="#fcd9de"/><stop offset="0.45" stop-color="#f9b2bc"/><stop offset="0.494" stop-color="#f68998"/><stop offset="0.56" stop-color="#f57487"/><stop offset="0.626" stop-color="#f46d81"/><stop offset="0.692" stop-color="#f4697d"/><stop offset="0.758" stop-color="#f4687c"/><stop offset="0.824" stop-color="#f46d81"/><stop offset="0.89" stop-color="#f57d8e"/><stop offset="0.947" stop-color="#f796a4"/><stop offset="1" stop-color="#fac1c9"/></linearGradient>
<linearGradient id="e86" x1="0" y1="0" x2="0" y2="1"><stop offset="0" stop-color="#fef2f3"/><stop offset="0.054" stop-color="#feeef0"/><stop offset="0.12" stop-color="#fde9ec"/><stop offset="0.186" stop-color="#fde6e9"/><stop offset="0.252" stop-color="#fde7ea"/><stop offset="0.296" stop-color="#fffafb"/><stop offset="0.34" stop-color="#fdfdff"/><stop offset="0.371" stop-color="#fdfdff"/><stop offset="0.397" stop-color="#fffdfd"/><stop offset="0.424" stop-color="#fcdce1"/><stop offset="0.45" stop-color="#fab9c2"/><stop offset="0.494" stop-color="#f793a2"/><stop offset="0.56" stop-color="#f58192"/><stop offset="0.626" stop-color="#f57b8d"/><stop offset="0.692" stop-color="#f57588"/><stop offset="0.758" stop-color="#f47083"/><stop offset="0.824" stop-color="#f46d81"/><stop offset="0.89" stop-color="#f47284"/><stop offset="0.947" stop-color="#f57f90"/><stop offset="1" stop-color="#f8a0ad"/></linearGradient>
<linearGradient id="e87" x1="0" y1="0" x2="0" y2="1"><stop offset="0" stop-color="#fef2f3"/><stop offset="0.054" stop-color="#feeef0"/><stop offset="0.12" stop-color="#fde9ec"/><stop offset="0.186" stop-color="#fde6e9"/><stop offset="0.252" stop-color="#fef4f5"/><stop offset="0.296" stop-color="#fdfdff"/><stop offset="0.34" stop-color="#f7f7ff"/><stop offset="0.371" stop-color="#fcfcff"/><stop offset="0.397" stop-color="#fffdfd"/><stop offset="0.424" stop-color="#fde0e4"/><stop offset="0.45" stop-color="#fac1c9"/><stop offset="0.494" stop-color="#f8a0ac"/><stop offset="0.56" stop-color="#f791a0"/><stop offset="0.626" stop-color="#f68d9c"/><stop offset="0.692" stop-color="#f68797"/><stop offset="0.758" stop-color="#f58091"/><stop offset="0.824" stop-color="#f5798a"/><stop offset="0.89" stop-color="#f57587"/><stop offset="0.947" stop-color="#f5788a"/><stop offset="1" stop-color="#f68d9c"/></linearGradient>
<linearGradient id="e88" x1="0" y1="0" x2="0" y2="1"><stop offset="0" stop-color="#fef2f4"/><stop offset="0.054" stop-color="#feeef0"/><stop offset="0.12" stop-color="#fdeaec"/><stop offset="0.186" stop-color="#fde7ea"/><stop offset="0.252" stop-color="#ffffff"/><stop offset="0.296" stop-color="#f2f2ff"/><stop offset="0.34" stop-color="#f1f1ff"/><stop offset="0.371" stop-color="#fbfbff"/><stop offset="0.397" stop-color="#fffdfe"/><stop offset="0.424" stop-color="#fde5e8"/><stop offset="0.45" stop-color="#fbcad1"/><stop offset="0.494" stop-color="#f9adb8"/><stop offset="0.56" stop-color="#f8a2ae"/><stop offset="0.626" stop-color="#f8a0ad"/><stop offset="0.692" stop-color="#f89daa"/><stop offset="0.758" stop-color="#f796a4"/><stop offset="0.824" stop-color="#f68e9d"/><stop offset="0.89" stop-color="#f68595"/><stop offset="0.947" stop-color="#f58192"/><stop offset="1" stop-color="#f68c9b"/></linearGradient>
<linearGradient id="e89" x1="0" y1="0" x2="0" y2="1"><stop offset="0" stop-color="#fef2f4"/><stop offset="0.054" stop-color="#feeef1"/><stop offset="0.12" stop-color="#fdeaed"/><stop offset="0.186" stop-color="#fef5f6"/><stop offset="0.252" stop-color="#f5f5ff"/><stop offset="0.296" stop-color="#e6e6ff"/><stop offset="0.34" stop-color="#ededff"/><stop offset="0.371" stop-color="#fbfbff"/><stop offset="0.397" stop-color="#fffefe"/><stop offset="0.424" stop-color="#fde9ec"/><stop offset="0.45" stop-color="#fcd3d9"/><stop offset="0.494" stop-color="#fabbc4"/><stop offset="0.56" stop-color="#f9b4be"/><stop offset="0.626" stop-color="#f9b5bf"/><stop offset="0.692" stop-color="#f9b4be"/><stop offset="0.758" stop-color="#f9b0bb"/><stop offset="0.824" stop-color="#f8a9b4"/><stop offset="0.89" stop-color="#f8a0ac"/><stop offset="0.947" stop-color="#f798a6"/><stop offset="1" stop-color="#f89daa"/></linearGradient>
<linearGradient id="e90" x1="0" y1="0" x2="0" y2="1"><stop offset="0" stop-color="#fef2f4"/><stop offset="0.054" stop-color="#feeff1"/><stop offset="0.12" stop-color="#fdeaed"/><stop offset="0.186" stop-color="#ffffff"/><stop offset="0.252" stop-color="#e6e6ff"/><stop offset="0.296" stop-color="#ddddff"/><stop offset="0.34" stop-color="#ebebff"/><stop offset="0.371" stop-color="#fbfbff"/><stop offset="0.397" stop-color="#fffefe"/><stop offset="0.424" stop-color="#feedf0"/><stop offset="0.45" stop-color="#fcdbe0"/><stop offset="0.494" stop-color="#fbc8cf"/><stop offset="0.56" stop-color="#fbc4cc"/><stop offset="0.626" stop-color="#fbc8cf"/><stop offset="0.692" stop-color="#fbcad1"/><stop offset="0.758" stop-color="#fbcad1"/><stop offset="0.824" stop-color="#fbc6ce"/><stop offset="0.89" stop-color="#fabfc8"/><stop offset="0.947" stop-color="#fab8c2"/><stop offset="1" stop-color="#fabbc4"/></linearGradient>
<linearGradient id="e91" x1="0" y1="0" x2="0" y2="1"><stop offset="0" stop-color="#fef2f4"/><stop offset="0.054" stop-color="#feeff1"/><stop offset="0.12" stop-color="#fef7f8"/><stop offset="0.186" stop-color="#f5f5ff"/><stop offset="0.252" stop-color="#dadaff"/><stop offset="0.296" stop-color="#d7d7ff"/><stop offset="0.34" stop-color="#eaeaff"/><stop offset="0.371" stop-color="#fbfbff"/><stop offset="0.397" stop-color="#fffefe"/><stop offset="0.424" stop-color="#fef1f3"/><stop offset="0.45" stop-color="#fde3e7"/><stop offset="0.494" stop-color="#fcd4da"/><stop offset="0.56" stop-color="#fcd2d8"/><stop offset="0.626" stop-color="#fcd8dd"/><stop offset="0.692" stop-color="#fcdee2"/><stop offset="0.758" stop-color="#fde2e5"/><stop offset="0.824" stop-color="#fde2e6"/><stop offset="0.89" stop-color="#fde0e4"/><stop offset="0.947" stop-color="#fcdce1"/><stop offset="1" stop-color="#fde1e5"/></linearGradient>
<linearGradient id="e92" x1="0" y1="0" x2="0" y2="1"><stop offset="0" stop-color="#fef3f4"/><stop offset="0.054" stop-color="#feeff2"/><stop offset="0.12" stop-color="#ffffff"/><stop offset="0.186" stop-color="#e8e8ff"/><stop offset="0.252" stop-color="#d2d2ff"/><stop offset="0.296" stop-color="#d5d5ff"/><stop offset="0.34" stop-color="#ebebff"/><stop offset="0.371" stop-color="#fbfbff"/><stop offset="0.397" stop-color="#fffefe"/><stop offset="0.424" stop-color="#fef4f5"/><stop offset="0.45" stop-color="#fde9ec"/><stop offset="0.494" stop-color="#fcdde1"/><stop offset="0.56" stop-color="#fcdce1"/><stop offset="0.626" stop-color="#fde5e8"/><stop offset="0.692" stop-color="#feedf0"/><stop offset="0.758" stop-color="#fef7f8"/><stop offset="0.824" stop-color="#fefeff"/><stop offset="0.89" stop-color="#f7f7ff"/><stop offset="0.947" stop-color="#f5f5ff"/><stop offset="1" stop-color="#e8e8ff"/></linearGradient>
<linearGradient id="e93" x1="0" y1="0" x2="0" y2="1"><stop offset="0" stop-color="#fef3f4"/><stop offset="0.054" stop-color="#fff9fa"/><stop offset="0.12" stop-color="#f6f6ff"/><stop offset="0.186" stop-color="#ddddff"/><stop offset="0.252" stop-color="#ceceff"/><stop offset="0.296" stop-color="#d5d5ff"/><stop offset="0.34" stop-color="#ececff"/><stop offset="0.371" stop-color="#fbfbff"/><stop offset="0.397" stop-color="#fffefe"/><stop offset="0.424" stop-color="#fef3f5"/><stop offset="0.45" stop-color="#fde7ea"/><stop offset="0.494" stop-color="#fcdadf"/><stop offset="0.56" stop-color="#fde0e4"/><stop offset="0.626" stop-color="#feecee"/><stop offset="0.692" stop-color="#fff9fa"/><stop offset="0.758" stop-color="#f3f3ff"/><stop offset="0.824" stop-color="#e7e7ff"/><stop offset="0.89" stop-color="#ddddff"/><stop offset="0.947" stop-color="#d5d5ff"/><stop offset="1" stop-color="#c5c5ff"/></linearGradient>
<linearGradient id="e94" x1="0" y1="0" x2="0" y2="1"><stop offset="0" stop-color="#fef5f7"/><stop offset="0.054" stop-color="#ffffff"/><stop offset="0.12" stop-color="#ececff"/><stop offset="0.186" stop-color="#d6d6ff"/><stop offset="0.252" stop-color="#ceceff"/><stop offset="0.296" stop-color="#d7d7ff"/><stop offset="0.34" stop-color="#eeeeff"/><stop offset="0.371" stop-color="#fcfcff"/><stop offset="0.397" stop-color="#fffefe"/><stop offset="0.424" stop-color="#fef0f2"/><stop offset="0.45" stop-color="#fde1e5"/><stop offset="0.494" stop-color="#fcd1d7"/><stop offset="0.56" stop-color="#fcdadf"/><stop offset="0.626" stop-color="#feecee"/><stop offset="0.692" stop-color="#fffefe"/><stop offset="0.758" stop-color="#ececff"/><stop offset="0.824" stop-color="#dedeff"/><stop offset="0.89" stop-color="#d0d0ff"/><stop offset="0.947" stop-color="#c4c4ff"/><stop offset="1" stop-color="#afafff"/></linearGradient>
<linearGradient id="e95" x1="0" y1="0" x2="0" y2="1"><stop offset="0" stop-color="#fffefe"/><stop offset="0.054" stop-color="#f8f8ff"/><stop offset="0.12" stop-color="#e3e3ff"/><stop offset="0.186" stop-color="#d3d3ff"/><stop offset="0.252" stop-color="#d0d0ff"/><stop offset="0.296" stop-color="#dbdbff"/><stop offset="0.34" stop-color="#f0f0ff"/><stop offset="0.371" stop-color="#fcfcff"/><stop offset="0.397" stop-color="#fffefe"/><stop offset="0.424" stop-color="#feedf0"/><stop offset="0.45" stop-color="#fcdbe0"/><stop offset="0.494" stop-color="#fbc7cf"/><stop offset="0.56" stop-color="#fbcfd6"/><stop offset="0.626" stop-color="#fde6e9"/><stop offset="0.692" stop-color="#fffcfd"/><stop offset="0.758" stop-color="#ebebff"/><stop offset="0.824" stop-color="#dbdbff"/><stop offset="0.89" stop-color="#ccccff"/><stop offset="0.947" stop-color="#bdbdff"/><stop offset="1" stop-color="#a5a5ff"/></linearGradient>
<linearGradient id="e96" x1="0" y1="0" x2="0" y2="1"><stop offset="0" stop-color="#fdfdff"/><stop offset="0.054" stop-color="#efefff"/><stop offset="0.12" stop-color="#ddddff"/><stop offset="0.186" stop-color="#d2d2ff"/><stop offset="0.252" stop-color="#d3d3ff"/><stop offset="0.296" stop-color="#dedeff"/><stop offset="0.34" stop-color="#f1f1ff"/><stop offset="0.371" stop-color="#fcfcff"/><stop offset="0.397" stop-color="#fffefe"/><stop offset="0.424" stop-color="#fdeaed"/><stop offset="0.45" stop-color="#fcd4da"/><stop offset="0.494" stop-color="#fabdc6"/><stop offset="0.56" stop-color="#fac3cb"/><stop offset="0.626" stop-color="#fcdbe0"/><stop offset="0.692" stop-color="#fef4f6"/><stop offset="0.758" stop-color="#ededff"/><stop offset="0.824" stop-color="#dcdcff"/><stop offset="0.89" stop-color="#cbcbff"/><stop offset="0.947" stop-color="#bcbcff"/><stop offset="1" stop-color="#a2a2ff"/></linearGradient>
<linearGradient id="e97" x1="0" y1="0" x2="0" y2="1"><stop offset="0" stop-color="#f6f6ff"/><stop offset="0.054" stop-color="#e8e8ff"/><stop offset="0.12" stop-color="#dadaff"/><stop offset="0.186" stop-color="#d4d4ff"/><stop offset="0.252" stop-color="#d7d7ff"/><stop offset="0.296" stop-color="#e2e2ff"/><stop offset="0.34" stop-color="#f3f3ff"/><stop offset="0.371" stop-color="#fdfdff"/><stop offset="0.397" stop-color="#fffdfe"/><stop offset="0.424" stop-color="#fde7ea"/><stop offset="0.45" stop-color="#fbced4"/><stop offset="0.494" stop-color="#f9b3bd"/><stop offset="0.56" stop-color="#f9b6c0"/><stop offset="0.626" stop-color="#fbced5"/><stop offset="0.692" stop-color="#fde8eb"/><stop offset="0.758" stop-color="#f4f4ff"/><stop offset="0.824" stop-color="#ddddff"/><stop offset="0.89" stop-color="#ccccff"/><stop offset="0.947" stop-color="#bcbcff"/><stop offset="1" stop-color="#a2a2ff"/></linearGradient>
<linearGradient id="e98" x1="0" y1="0" x2="0" y2="1"><stop offset="0" stop-color="#f0f0ff"/><stop offset="0.054" stop-color="#e4e4ff"/><stop offset="0.12" stop-color="#dadaff"/><stop offset="0.186" stop-color="#d7d7ff"/><stop offset="0.252" stop-color="#dcdcff"/><stop offset="0.296" stop-color="#e6e6ff"/><stop offset="0.34" stop-color="#f5f5ff"/><stop offset="0.371" stop-color="#fdfdff"/><stop offset="0.397" stop-color="#fffdfe"/><stop offset="0.424" stop-color="#fde4e7"/><stop offset="0.45" stop-color="#fbc8cf"/><stop offset="0.494" stop-color="#f9aab6"/><stop offset="0.56" stop-color="#f9a9b5"/><stop offset="0.626" stop-color="#fabfc7"/><stop offset="0.692" stop-color="#fcd9de"/><stop offset="0.758" stop-color="#fef7f8"/><stop offset="0.824" stop-color="#e4e4ff"/><stop offset="0.89" stop-color="#ceceff"/><stop offset="0.947" stop-color="#bebeff"/><stop offset="1" stop-color="#a4a4ff"/></linearGradient>
<linearGradient id="e99" x1="0" y1="0" x2="0" y2="1"><stop offset="0" stop-color="#ebebff"/><stop offset="0.054" stop-color="#e2e2ff"/><stop offset="0.12" stop-color="#dcdcff"/><stop offset="0.186" stop-color="#dbdbff"/><stop offset="0.252" stop-color="#e1e1ff"/><stop offset="0.296" stop-color="#eaeaff"/><stop offset="0.34" stop-color="#f7f7ff"/><stop offset="0.371" stop-color="#fefeff"/><stop offset="0.397" stop-color="#fffdfd"/><stop offset="0.424" stop-color="#fde2e6"/><stop offset="0.45" stop-color="#fac3cb"/><stop offset="0.494" stop-color="#f8a3b0"/><stop offset="0.56" stop-color="#f89eab"/><stop offset="0.626" stop-color="#f9b0ba"/><stop offset="0.692" stop-color="#fbc8d0"/><stop offset="0.758" stop-color="#fde5e8"/><stop offset="0.824" stop-color="#f2f2ff"/><stop offset="0.89" stop-color="#d4d4ff"/><stop offset="0.947" stop-color="#c0c0ff"/><stop offset="1" stop-color="#a6a6ff"/></linearGradient>
<linearGradient id="e100" x1="0" y1="0" x2="0" y2="1"><stop offset="0" stop-color="#e8e8ff"/><stop offset="0.054" stop-color="#e2e2ff"/><stop offset="0.12" stop-color="#dedeff"/><stop offset="0.186" stop-color="#e0e0ff"/><stop offset="0.252" stop-color="#e5e5ff"/><stop offset="0.296" stop-color="#ededff"/><stop offset="0.34" stop-color="#f8f8ff"/><stop offset="0.371" stop-color="#fefeff"/><stop offset="0.397" stop-color="#fffdfd"/><stop offset="0.424" stop-color="#fde0e4"/><stop offset="0.45" stop-color="#fac0c8"/><stop offset="0.494" stop-color="#f89eab"/><stop offset="0.56" stop-color="#f795a4"/><stop offset="0.626" stop-color="#f8a2ae"/><stop offset="0.692" stop-color="#fab7c1"/><stop offset="0.758" stop-color="#fcd2d8"/><stop offset="0.824" stop-color="#fef1f3"/><stop offset="0.89" stop-color="#e1e1ff"/><stop offset="0.947" stop-color="#c8c8ff"/><stop offset="1" stop-color="#aaaaff"/></linearGradient>
<linearGradient id="e101" x1="0" y1="0" x2="0" y2="1"><stop offset="0" stop-color="#e7e7ff"/><stop offset="0.054" stop-color="#e3e3ff"/><stop offset="0.12" stop-color="#e2e2ff"/><stop offset="0.186" stop-color="#e4e4ff"/><stop offset="0.252" stop-color="#e9e9ff"/><stop offset="0.296" stop-color="#f0f0ff"/><stop offset="0.34" stop-color="#f9f9ff"/><stop offset="0.371" stop-color="#fefeff"/><stop offset="0.397" stop-color="#fffdfd"/><stop offset="0.424" stop-color="#fddfe3"/><stop offset="0.45" stop-color="#fabec7"/><stop offset="0.494" stop-color="#f89ca9"/><stop offset="0.56" stop-color="#f7909e"/><stop offset="0.626" stop-color="#f797a5"/><stop offset="0.692" stop-color="#f8a7b3"/><stop offset="0.758" stop-color="#fabec6"/><stop offset="0.824" stop-color="#fcdadf"/><stop offset="0.89" stop-color="#fbfbff"/><stop offset="0.947" stop-color="#d6d6ff"/><stop offset="1" stop-color="#b3b3ff"/></linearGradient>
<linearGradient id="e102" x1="0" y1="0" x2="0" y2="1"><stop offset="0" stop-color="#e8e8ff"/><stop offset="0.054" stop-color="#e5e5ff"/><stop offset="0.12" stop-color="#e5e5ff"/><stop offset="0.186" stop-color="#e8e8ff"/><stop offset="0.252" stop-color="#ededff"/><stop offset="0.296" stop-color="#f3f3ff"/><stop offset="0.34" stop-color="#fafaff"/><stop offset="0.371" stop-color="#fefeff"/><stop offset="0.397" stop-color="#fffdfd"/><stop offset="0.424" stop-color="#fddfe3"/><stop offset="0.45" stop-color="#fabec7"/><stop offset="0.494" stop-color="#f79ba9"/><stop offset="0.56" stop-color="#f68d9c"/><stop offset="0.626" stop-color="#f7909f"/><stop offset="0.692" stop-color="#f79aa7"/><stop offset="0.758" stop-color="#f9abb6"/><stop offset="0.824" stop-color="#fbc4cc"/><stop offset="0.89" stop-color="#fde4e7"/><stop offset="0.947" stop-color="#eeeeff"/><stop offset="1" stop-color="#c4c4ff"/></linearGradient>
<linearGradient id="e103" x1="0" y1="0" x2="0" y2="1"><stop offset="0" stop-color="#e9e9ff"/><stop offset="0.054" stop-color="#e8e8ff"/><stop offset="0.12" stop-color="#e9e9ff"/><stop offset="0.186" stop-color="#ececff"/><stop offset="0.252" stop-color="#f0f0ff"/><stop offset="0.296" stop-color="#f5f5ff"/><stop offset="0.34" stop-color="#fbfbff"/><stop offset="0.371" stop-color="#fefeff"/><stop offset="0.397" stop-color="#fffdfd"/><stop offset="0.424" stop-color="#fde0e4"/><stop offset="0.45" stop-color="#fac0c8"/><stop offset="0.494" stop-color="#f89eab"/><stop offset="0.56" stop-color="#f68e9d"/><stop offset="0.626" stop-color="#f68d9c"/><stop offset="0.692" stop-color="#f791a0"/><stop offset="0.758" stop-color="#f89caa"/><stop offset="0.824" stop-color="#f9afba"/><stop offset="0.89" stop-color="#fbcad1"/><stop offset="0.947" stop-color="#fde9ec"/><stop offset="1" stop-color="#dedeff"/></linearGradient>
<linearGradient id="e104" x1="0" y1="0" x2="0" y2="1"><stop offset="0" stop-color="#ebebff"/><stop offset="0.054" stop-color="#ebebff"/><stop offset="0.12" stop-color="#ececff"/><stop offset="0.186" stop-color="#efefff"/><stop offset="0.252" stop-color="#f3f3ff"/><stop offset="0.296" stop-color="#f7f7ff"/><stop offset="0.34" stop-color="#fcfcff"/><stop offset="0.371" stop-color="#fefeff"/><stop offset="0.397" stop-color="#fffdfd"/><stop offset="0.424" stop-color="#fde1e5"/><stop offset="0.45" stop-color="#fac2ca"/><stop offset="0.494" stop-color="#f8a2ae"/><stop offset="0.56" stop-color="#f792a1"/><stop offset="0.626" stop-color="#f68e9d"/><stop offset="0.692" stop-color="#f78f9e"/><stop offset="0.758" stop-color="#f793a2"/><stop offset="0.824" stop-color="#f89fac"/><stop offset="0.89" stop-color="#f9b3bd"/><stop offset="0.947" stop-color="#fbcdd4"/><stop offset="1" stop-color="#fef5f7"/></linearGradient>
<linearGradient id="e105" x1="0" y1="0" x2="0" y2="1"><stop offset="0" stop-color="#ededff"/><stop offset="0.054" stop-color="#ededff"/><stop offset="0.12" stop-color="#efefff"/><stop offset="0.186" stop-color="#f2f2ff"/><stop offset="0.252" stop-color="#f5f5ff"/><stop offset="0.296" stop-color="#f9f9ff"/><stop offset="0.34" stop-color="#fdfdff"/><stop offset="0.371" stop-color="#ffffff"/><stop offset="0.397" stop-color="#fffdfd"/><stop offset="0.424" stop-color="#fde3e7"/><stop offset="0.45" stop-color="#fbc7ce"/><stop offset="0.494" stop-color="#f8a8b4"/><stop offset="0.56" stop-color="#f799a7"/><stop offset="0.626" stop-color="#f795a3"/><stop offset="0.692" stop-color="#f792a0"/><stop offset="0.758" stop-color="#f791a0"/><stop offset="0.824" stop-color="#f796a4"/><stop offset="0.89" stop-color="#f8a2ae"/><stop offset="0.947" stop-color="#f9b5bf"/><stop offset="1" stop-color="#fcd5db"/></linearGradient>
<linearGradient id="e106" x1="0" y1="0" x2="0" y2="1"><stop offset="0" stop-color="#fef5f7"/><stop offset="0.054" stop-color="#fef2f4"/><stop offset="0.12" stop-color="#feeff1"/><stop offset="0.186" stop-color="#feedef"/><stop offset="0.252" stop-color="#feedf0"/><stop offset="0.296" stop-color="#fffafb"/><stop offset="0.34" stop-color="#fefeff"/><stop offset="0.371" stop-color="#fefeff"/><stop offset="0.397" stop-color="#fffdfe"/><stop offset="0.424" stop-color="#fde6e9"/><stop offset="0.45" stop-color="#fbccd3"/><stop offset="0.494" stop-color="#f9b0bb"/><stop offset="0.56" stop-color="#f8a3af"/><stop offset="0.626" stop-color="#f89eab"/><stop offset="0.692" stop-color="#f79aa8"/><stop offset="0.758" stop-color="#f797a4"/><stop offset="0.824" stop-color="#f795a3"/><stop offset="0.89" stop-color="#f799a7"/><stop offset="0.947" stop-color="#f8a4b0"/><stop offset="1" stop-color="#fabdc5"/></linearGradient>
<linearGradient id="e107" x1="0" y1="0" x2="0" y2="1"><stop offset="0" stop-color="#fef5f7"/><stop offset="0.054" stop-color="#fef3f4"/><stop offset="0.12" stop-color="#feeff1"/><stop offset="0.186" stop-color="#feedef"/><stop offset="0.252" stop-color="#fef6f7"/><stop offset="0.296" stop-color="#fefeff"/><stop offset="0.34" stop-color="#fafaff"/><stop offset="0.371" stop-color="#fdfdff"/><stop offset="0.397" stop-color="#fffefe"/><stop offset="0.424" stop-color="#fde9ec"/><stop offset="0.45" stop-color="#fcd2d8"/><stop offset="0.494" stop-color="#fab9c3"/><stop offset="0.56" stop-color="#f9afb9"/><stop offset="0.626" stop-color="#f9abb6"/><stop offset="0.692" stop-color="#f8a7b3"/><stop offset="0.758" stop-color="#f8a2ae"/><stop offset="0.824" stop-color="#f89daa"/><stop offset="0.89" stop-color="#f79ba8"/><stop offset="0.947" stop-color="#f89eab"/><stop offset="1" stop-color="#f9aeb9"/></linearGradient>
<linearGradient id="e108" x1="0" y1="0" x2="0" y2="1"><stop offset="0" stop-color="#fef6f7"/><stop offset="0.054" stop-color="#fef3f4"/><stop offset="0.12" stop-color="#fef0f2"/><stop offset="0.186" stop-color="#feedf0"/><stop offset="0.252" stop-color="#ffffff"/><stop offset="0.296" stop-color="#f7f7ff"/><stop offset="0.34" stop-color="#f6f6ff"/><stop offset="0.371" stop-color="#fcfcff"/><stop offset="0.397" stop-color="#fffefe"/><stop offset="0.424" stop-color="#feecee"/><stop offset="0.45" stop-color="#fcd8dd"/><stop offset="0.494" stop-color="#fac3cb"/><stop offset="0.56" stop-color="#fabbc4"/><stop offset="0.626" stop-color="#fabac3"/><stop offset="0.692" stop-color="#fab7c0"/><stop offset="0.758" stop-color="#f9b2bc"/><stop offset="0.824" stop-color="#f9acb7"/><stop offset="0.89" stop-color="#f8a6b2"/><stop offset="0.947" stop-color="#f8a3b0"/><stop offset="1" stop-color="#f9acb7"/></linearGradient>
<linearGradient id="e109" x1="0" y1="0" x2="0" y2="1"><stop offset="0" stop-color="#fef6f7"/><stop offset="0.054" stop-color="#fef3f5"/><stop offset="0.12" stop-color="#fef0f2"/><stop offset="0.186" stop-color="#fef6f7"/><stop offset="0.252" stop-color="#f9f9ff"/><stop offset="0.296" stop-color="#eeeeff"/><stop offset="0.34" stop-color="#f3f3ff"/><stop offset="0.371" stop-color="#fcfcff"/><stop offset="0.397" stop-color="#fffefe"/><stop offset="0.424" stop-color="#feeff1"/><stop offset="0.45" stop-color="#fddfe3"/><stop offset="0.494" stop-color="#fbcdd4"/><stop offset="0.56" stop-color="#fbc8cf"/><stop offset="0.626" stop-color="#fbc8d0"/><stop offset="0.692" stop-color="#fbc8cf"/><stop offset="0.758" stop-color="#fbc5cc"/><stop offset="0.824" stop-color="#fabfc8"/><stop offset="0.89" stop-color="#fab8c2"/><stop offset="0.947" stop-color="#f9b3bd"/><stop offset="1" stop-color="#fab7c0"/></linearGradient>
<linearGradient id="e110" x1="0" y1="0" x2="0" y2="1"><stop offset="0" stop-color="#fef6f7"/><stop offset="0.054" stop-color="#fef3f5"/><stop offset="0.12" stop-color="#fef0f2"/><stop offset="0.186" stop-color="#ffffff"/><stop offset="0.252" stop-color="#eeeeff"/><stop offset="0.296" stop-color="#e7e7ff"/><stop offset="0.34" stop-color="#f1f1ff"/><stop offset="0.371" stop-color="#fcfcff"/><stop offset="0.397" stop-color="#fffefe"/><stop offset="0.424" stop-color="#fef2f4"/><stop offset="0.45" stop-color="#fde5e8"/><stop offset="0.494" stop-color="#fcd7dc"/><stop offset="0.56" stop-color="#fcd4d9"/><stop offset="0.626" stop-color="#fcd6dc"/><stop offset="0.692" stop-color="#fcd8dd"/><stop offset="0.758" stop-color="#fcd7dd"/><stop offset="0.824" stop-color="#fcd4da"/><stop offset="0.89" stop-color="#fbcfd5"/><stop offset="0.947" stop-color="#fbcad1"/><stop offset="1" stop-color="#fbccd2"/></linearGradient>
<linearGradient id="e111" x1="0" y1="0" x2="0" y2="1"><stop offset="0" stop-color="#fef6f7"/><stop offset="0.054" stop-color="#fef3f5"/><stop offset="0.12" stop-color="#fef8f9"/><stop offset="0.186" stop-color="#f9f9ff"/><stop offset="0.252" stop-color="#e5e5ff"/><stop offset="0.296" stop-color="#e3e3ff"/><stop offset="0.34" stop-color="#f0f0ff"/><stop offset="0.371" stop-color="#fcfcff"/><stop offset="0.397" stop-color="#fffefe"/><stop offset="0.424" stop-color="#fef5f6"/><stop offset="0.45" stop-color="#fdeaed"/><stop offset="0.494" stop-color="#fddfe4"/><stop offset="0.56" stop-color="#fddee2"/><stop offset="0.626" stop-color="#fde2e6"/><stop offset="0.692" stop-color="#fde6e9"/><stop offset="0.758" stop-color="#fde8eb"/><stop offset="0.824" stop-color="#fde8eb"/><stop offset="0.89" stop-color="#fde6ea"/><stop offset="0.947" stop-color="#fde3e7"/><stop offset="1" stop-color="#fde6ea"/></linearGradient>
<linearGradient id="e112" x1="0" y1="0" x2="0" y2="1"><stop offset="0" stop-color="#fef6f7"/><stop offset="0.054" stop-color="#fef4f5"/><stop offset="0.12" stop-color="#ffffff"/><stop offset="0.186" stop-color="#f0f0ff"/><stop offset="0.252" stop-color="#dfdfff"/><stop offset="0.296" stop-color="#e1e1ff"/><stop offset="0.34" stop-color="#f0f0ff"/><stop offset="0.371" stop-color="#fcfcff"/><stop offset="0.397" stop-color="#fffeff"/><stop offset="0.424" stop-color="#fef7f8"/><stop offset="0.45" stop-color="#feeff1"/><stop offset="0.494" stop-color="#fde6e9"/><stop offset="0.56" stop-color="#fde6e9"/><stop offset="0.626" stop-color="#feebee"/><stop offset="0.692" stop-color="#fef1f3"/><stop offset="0.758" stop-color="#fef7f8"/><stop offset="0.824" stop-color="#fffdfd"/><stop offset="0.89" stop-color="#fdfdff"/><stop offset="0.947" stop-color="#fcfcff"/><stop offset="1" stop-color="#f2f2ff"/></linearGradient>
<linearGradient id="e113" x1="0" y1="0" x2="0" y2="1"><stop offset="0" stop-color="#fef6f7"/><stop offset="0.054" stop-color="#fffafb"/><stop offset="0.12" stop-color="#fafaff"/><stop offset="0.186" stop-color="#e8e8ff"/><stop offset="0.252" stop-color="#dcdcff"/><stop offset="0.296" stop-color="#e1e1ff"/><stop offset="0.34" stop-color="#f1f1ff"/><stop offset="0.371" stop-color="#fcfcff"/><stop offset="0.397" stop-color="#fffeff"/><stop offset="0.424" stop-color="#fef7f8"/><stop offset="0.45" stop-color="#feeef0"/><stop offset="0.494" stop-color="#fde5e9"/><stop offset="0.56" stop-color="#fde9ec"/><stop offset="0.626" stop-color="#fef1f3"/><stop offset="0.692" stop-color="#fffafb"/><stop offset="0.758" stop-color="#f8f8ff"/><stop offset="0.824" stop-color="#efefff"/><stop offset="0.89" stop-color="#e8e8ff"/><stop offset="0.947" stop-color="#e3e3ff"/><stop offset="1" stop-color="#d8d8ff"/></linearGradient>
<linearGradient id="e114" x1="0" y1="0" x2="0" y2="1"><stop offset="0" stop-color="#fef8f9"/><stop offset="0.054" stop-color="#ffffff"/><stop offset="0.12" stop-color="#f2f2ff"/><stop offset="0.186" stop-color="#e2e2ff"/><stop offset="0.252" stop-color="#dcdcff"/><stop offset="0.296" stop-color="#e2e2ff"/><stop offset="0.34" stop-color="#f2f2ff"/><stop offset="0.371" stop-color="#fdfdff"/><stop offset="0.397" stop-color="#fffefe"/><stop offset="0.424" stop-color="#fef5f6"/><stop offset="0.45" stop-color="#fdeaed"/><stop offset="0.494" stop-color="#fddfe3"/><stop offset="0.56" stop-color="#fde5e9"/><stop offset="0.626" stop-color="#fef2f3"/><stop offset="0.692" stop-color="#fffefe"/><stop offset="0.758" stop-color="#f2f2ff"/><stop offset="0.824" stop-color="#e8e8ff"/><stop offset="0.89" stop-color="#dedeff"/><stop offset="0.947" stop-color="#d6d6ff"/><stop offset="1" stop-color="#c7c7ff"/></linearGradient>
<linearGradient id="e115" x1="0" y1="0" x2="0" y2="1"><stop offset="0" stop-color="#fffefe"/><stop offset="0.054" stop-color="#fbfbff"/><stop offset="0.12" stop-color="#ebebff"/><stop offset="0.186" stop-color="#dfdfff"/><stop offset="0.252" stop-color="#ddddff"/><stop offset="0.296" stop-color="#e5e5ff"/><stop offset="0.34" stop-color="#f4f4ff"/><stop offset="0.371" stop-color="#fdfdff"/><stop offset="0.397" stop-color="#fffefe"/><stop offset="0.424" stop-color="#fef3f4"/><stop offset="0.45" stop-color="#fde6e9"/><stop offset="0.494" stop-color="#fcd8dd"/><stop offset="0.56" stop-color="#fcdee2"/><stop offset="0.626" stop-color="#feeef0"/><stop offset="0.692" stop-color="#fffdfe"/><stop offset="0.758" stop-color="#f1f1ff"/><stop offset="0.824" stop-color="#e6e6ff"/><stop offset="0.89" stop-color="#dbdbff"/><stop offset="0.947" stop-color="#d0d0ff"/><stop offset="1" stop-color="#bfbfff"/></linearGradient>
<linearGradient id="e116" x1="0" y1="0" x2="0" y2="1"><stop offset="0" stop-color="#fefeff"/><stop offset="0.054" stop-color="#f4f4ff"/><stop offset="0.12" stop-color="#e7e7ff"/><stop offset="0.186" stop-color="#dfdfff"/><stop offset="0.252" stop-color="#dfdfff"/><stop offset="0.296" stop-color="#e7e7ff"/><stop offset="0.34" stop-color="#f5f5ff"/><stop offset="0.371" stop-color="#fdfdff"/><stop offset="0.397" stop-color="#fffefe"/><stop offset="0.424" stop-color="#fef0f2"/><stop offset="0.45" stop-color="#fde1e5"/><stop offset="0.494" stop-color="#fbd1d7"/><stop offset="0.56" stop-color="#fcd5db"/><stop offset="0.626" stop-color="#fde7ea"/><stop offset="0.692" stop-color="#fef8f9"/><stop offset="0.758" stop-color="#f2f2ff"/><stop offset="0.824" stop-color="#e6e6ff"/><stop offset="0.89" stop-color="#dadaff"/><stop offset="0.947" stop-color="#cfcfff"/><stop offset="1" stop-color="#bcbcff"/></linearGradient>
<linearGradient id="e117" x1="0" y1="0" x2="0" y2="1"><stop offset="0" stop-color="#f9f9ff"/><stop offset="0.054" stop-color="#efefff"/><stop offset="0.12" stop-color="#e5e5ff"/><stop offset="0.186" stop-color="#e0e0ff"/><stop offset="0.252" stop-color="#e2e2ff"/><stop offset="0.296" stop-color="#eaeaff"/><stop offset="0.34" stop-color="#f7f7ff"/><stop offset="0.371" stop-color="#fdfdff"/><stop offset="0.397" stop-color="#fffefe"/><stop offset="0.424" stop-color="#feeef0"/><stop offset="0.45" stop-color="#fcdce1"/><stop offset="0.494" stop-color="#fbc9d1"/><stop offset="0.56" stop-color="#fbccd3"/><stop offset="0.626" stop-color="#fcdde2"/><stop offset="0.692" stop-color="#fef0f2"/><stop offset="0.758" stop-color="#f6f6ff"/><stop offset="0.824" stop-color="#e7e7ff"/><stop offset="0.89" stop-color="#dbdbff"/><stop offset="0.947" stop-color="#cfcfff"/><stop offset="1" stop-color="#bdbdff"/></linearGradient>
<linearGradient id="e118" x1="0" y1="0" x2="0" y2="1"><stop offset="0" stop-color="#f5f5ff"/><stop offset="0.054" stop-color="#ececff"/><stop offset="0.12" stop-color="#e4e4ff"/><stop offset="0.186" stop-color="#e2e2ff"/><stop offset="0.252" stop-color="#e6e6ff"/><stop offset="0.296" stop-color="#ededff"/><stop offset="0.34" stop-color="#f8f8ff"/><stop offset="0.371" stop-color="#fefeff"/><stop offset="0.397" stop-color="#fffefe"/><stop offset="0.424" stop-color="#feecee"/><stop offset="0.45" stop-color="#fcd8dd"/><stop offset="0.494" stop-color="#fac3cb"/><stop offset="0.56" stop-color="#fac2ca"/><stop offset="0.626" stop-color="#fcd2d8"/><stop offset="0.692" stop-color="#fde5e9"/><stop offset="0.758" stop-color="#fffbfb"/><stop offset="0.824" stop-color="#ebebff"/><stop offset="0.89" stop-color="#dcdcff"/><stop offset="0.947" stop-color="#d0d0ff"/><stop offset="1" stop-color="#bdbdff"/></linearGradient>
<linearGradient id="e119" x1="0" y1="0" x2="0" y2="1"><stop offset="0" stop-color="#f1f1ff"/><stop offset="0.054" stop-color="#eaeaff"/><stop offset="0.12" stop-color="#e5e5ff"/><stop offset="0.186" stop-color="#e5e5ff"/><stop offset="0.252" stop-color="#e9e9ff"/><stop offset="0.296" stop-color="#f0f0ff"/><stop offset="0.34" stop-color="#f9f9ff"/><stop offset="0.371" stop-color="#fefeff"/><stop offset="0.397" stop-color="#fffefe"/><stop offset="0.424" stop-color="#fdeaed"/><stop offset="0.45" stop-color="#fcd4da"/><stop offset="0.494" stop-color="#fabdc6"/><stop offset="0.56" stop-color="#fabac3"/><stop offset="0.626" stop-color="#fbc7cf"/><stop offset="0.692" stop-color="#fcd9de"/><stop offset="0.758" stop-color="#feeef0"/><stop offset="0.824" stop-color="#f4f4ff"/><stop offset="0.89" stop-color="#e0e0ff"/><stop offset="0.947" stop-color="#d2d2ff"/><stop offset="1" stop-color="#bebeff"/></linearGradient>
<linearGradient id="e120" x1="0" y1="0" x2="0" y2="1"><stop offset="0" stop-color="#efefff"/><stop offset="0.054" stop-color="#eaeaff"/><stop offset="0.12" stop-color="#e7e7ff"/><stop offset="0.186" stop-color="#e8e8ff"/><stop offset="0.252" stop-color="#ececff"/><stop offset="0.296" stop-color="#f2f2ff"/><stop offset="0.34" stop-color="#fafaff"/><stop offset="0.371" stop-color="#fefeff"/><stop offset="0.397" stop-color="#fffefe"/><stop offset="0.424" stop-color="#fde9ec"/><stop offset="0.45" stop-color="#fcd2d8"/><stop offset="0.494" stop-color="#fab9c3"/><stop offset="0.56" stop-color="#f9b3bd"/><stop offset="0.626" stop-color="#fabdc6"/><stop offset="0.692" stop-color="#fbccd3"/><stop offset="0.758" stop-color="#fde0e4"/><stop offset="0.824" stop-color="#fef7f8"/><stop offset="0.89" stop-color="#e8e8ff"/><stop offset="0.947" stop-color="#d6d6ff"/><stop offset="1" stop-color="#c1c1ff"/></linearGradient>
<linearGradient id="e121" x1="0" y1="0" x2="0" y2="1"><stop offset="0" stop-color="#eeeeff"/><stop offset="0.054" stop-color="#eaeaff"/><stop offset="0.12" stop-color="#e9e9ff"/><stop offset="0.186" stop-color="#ebebff"/><stop offset="0.252" stop-color="#efefff"/><stop offset="0.296" stop-color="#f4f4ff"/><stop offset="0.34" stop-color="#fbfbff"/><stop offset="0.371" stop-color="#fefeff"/><stop offset="0.397" stop-color="#fffefe"/><stop offset="0.424" stop-color="#fde8eb"/><stop offset="0.45" stop-color="#fbd0d6"/><stop offset="0.494" stop-color="#fab7c1"/><stop offset="0.56" stop-color="#f9aeb9"/><stop offset="0.626" stop-color="#f9b4be"/><stop offset="0.692" stop-color="#fac0c8"/><stop offset="0.758" stop-color="#fcd1d7"/><stop offset="0.824" stop-color="#fde6e9"/><stop offset="0.89" stop-color="#f9f9ff"/><stop offset="0.947" stop-color="#e0e0ff"/><stop offset="1" stop-color="#c7c7ff"/></linearGradient>
<linearGradient id="e122" x1="0" y1="0" x2="0" y2="1"><stop offset="0" stop-color="#eeeeff"/><stop offset="0.054" stop-color="#ececff"/><stop offset="0.12" stop-color="#ececff"/><stop offset="0.186" stop-color="#eeeeff"/><stop offset="0.252" stop-color="#f2f2ff"/><stop offset="0.296" stop-color="#f6f6ff"/><stop offset="0.34" stop-color="#fcfcff"/><stop offset="0.371" stop-color="#fefeff"/><stop offset="0.397" stop-color="#fffefe"/><stop offset="0.424" stop-color="#fde8eb"/><stop offset="0.45" stop-color="#fbd0d6"/><stop offset="0.494" stop-color="#fab6c0"/><stop offset="0.56" stop-color="#f9acb7"/><stop offset="0.626" stop-color="#f9aeb9"/><stop offset="0.692" stop-color="#f9b6c0"/><stop offset="0.758" stop-color="#fac3cb"/><stop offset="0.824" stop-color="#fcd6db"/><stop offset="0.89" stop-color="#feedef"/><stop offset="0.947" stop-color="#f0f0ff"/><stop offset="1" stop-color="#d2d2ff"/></linearGradient>
<linearGradient id="e123" x1="0" y1="0" x2="0" y2="1"><stop offset="0" stop-color="#efefff"/><stop offset="0.054" stop-color="#eeeeff"/><stop offset="0.12" stop-color="#eeeeff"/><stop offset="0.186" stop-color="#f0f0ff"/><stop offset="0.252" stop-color="#f4f4ff"/><stop offset="0.296" stop-color="#f8f8ff"/><stop offset="0.34" stop-color="#fcfcff"/><stop offset="0.371" stop-color="#ffffff"/><stop offset="0.397" stop-color="#fffefe"/><stop offset="0.424" stop-color="#fde8eb"/><stop offset="0.45" stop-color="#fbd0d6"/><stop offset="0.494" stop-color="#fab7c1"/><stop offset="0.56" stop-color="#f9acb7"/><stop offset="0.626" stop-color="#f9abb6"/><stop offset="0.692" stop-color="#f9afba"/><stop offset="0.758" stop-color="#fab8c1"/><stop offset="0.824" stop-color="#fbc6cd"/><stop offset="0.89" stop-color="#fcdadf"/><stop offset="0.947" stop-color="#fef1f3"/><stop offset="1" stop-color="#e4e4ff"/></linearGradient>
<linearGradient id="e124" x1="0" y1="0" x2="0" y2="1"><stop offset="0" stop-color="#f0f0ff"/><stop offset="0.054" stop-color="#f0f0ff"/><stop offset="0.12" stop-color="#f1f1ff"/><stop offset="0.186" stop-color="#f3f3ff"/><stop offset="0.252" stop-color="#f6f6ff"/><stop offset="0.296" stop-color="#f9f9ff"/><stop offset="0.34" stop-color="#fdfdff"/><stop offset="0.371" stop-color="#ffffff"/><stop offset="0.397" stop-color="#fffefe"/><stop offset="0.424" stop-color="#fde9ec"/><stop offset="0.45" stop-color="#fcd2d8"/><stop offset="0.494" stop-color="#fabac3"/><stop offset="0.56" stop-color="#f9aeb9"/><stop offset="0.626" stop-color="#f9acb7"/><stop offset="0.692" stop-color="#f9acb7"/><stop offset="0.758" stop-color="#f9b0bb"/><stop offset="0.824" stop-color="#fab9c2"/><stop offset="0.89" stop-color="#fbc9d0"/><stop offset="0.947" stop-color="#fcdce1"/><stop offset="1" stop-color="#fffbfc"/></linearGradient>
<linearGradient id="e125" x1="0" y1="0" x2="0" y2="1"><stop offset="0" stop-color="#f2f2ff"/><stop offset="0.054" stop-color="#f2f2ff"/><stop offset="0.12" stop-color="#f3f3ff"/><stop offset="0.186" stop-color="#f5f5ff"/><stop offset="0.252" stop-color="#f7f7ff"/><stop offset="0.296" stop-color="#fafaff"/><stop offset="0.34" stop-color="#fdfdff"/><stop offset="0.371" stop-color="#ffffff"/><stop offset="0.397" stop-color="#fffefe"/><stop offset="0.424" stop-color="#fdeaed"/><stop offset="0.45" stop-color="#fcd5da"/><stop offset="0.494" stop-color="#fabec7"/><stop offset="0.56" stop-color="#f9b3bd"/><stop offset="0.626" stop-color="#f9afba"/><stop offset="0.692" stop-color="#f9adb8"/><stop offset="0.758" stop-color="#f9adb8"/><stop offset="0.824" stop-color="#f9b1bc"/><stop offset="0.89" stop-color="#fabbc4"/><stop offset="0.947" stop-color="#fbcad1"/><stop offset="1" stop-color="#fde2e6"/></linearGradient>
<linearGradient id="e126" x1="0" y1="0" x2="0" y2="1"><stop offset="0" stop-color="#fffdfd"/><stop offset="0.054" stop-color="#fffcfd"/><stop offset="0.12" stop-color="#fffbfc"/><stop offset="0.186" stop-color="#fffbfb"/><stop offset="0.252" stop-color="#fffbfc"/><stop offset="0.296" stop-color="#fffefe"/><stop offset="0.34" stop-color="#ffffff"/><stop offset="0.371" stop-color="#ffffff"/><stop offset="0.397" stop-color="#fffefe"/><stop offset="0.424" stop-color="#feecee"/><stop offset="0.45" stop-color="#fcd8dd"/><stop offset="0.494" stop-color="#fac3cb"/><stop offset="0.56" stop-color="#fab9c3"/><stop offset="0.626" stop-color="#f9b6c0"/><stop offset="0.692" stop-color="#f9b3bd"/><stop offset="0.758" stop-color="#f9b0bb"/><stop offset="0.824" stop-color="#f9b0ba"/><stop offset="0.89" stop-color="#f9b3bd"/><stop offset="0.947" stop-color="#fabcc5"/><stop offset="1" stop-color="#fbcfd5"/></linearGradient>
<linearGradient id="e127" x1="0" y1="0" x2="0" y2="1"><stop offset="0" stop-color="#fffdfd"/><stop offset="0.054" stop-color="#fffcfd"/><stop offset="0.12" stop-color="#fffbfc"/><stop offset="0.186" stop-color="#fffbfb"/><stop offset="0.252" stop-color="#fffdfd"/><stop offset="0.296" stop-color="#ffffff"/><stop offset="0.34" stop-color="#fefeff"/><stop offset="0.371" stop-color="#ffffff"/><stop offset="0.397" stop-color="#fffefe"/><stop offset="0.424" stop-color="#feeef0"/><stop offset="0.45" stop-color="#fcdce1"/><stop offset="0.494" stop-color="#fbcad1"/><stop offset="0.56" stop-color="#fac1ca"/><stop offset="0.626" stop-color="#fabfc7"/><stop offset="0.692" stop-color="#fabcc5"/><stop offset="0.758" stop-color="#fab8c1"/><stop offset="0.824" stop-color="#f9b4be"/><stop offset="0.89" stop-color="#f9b3bd"/><stop offset="0.947" stop-color="#f9b6c0"/><stop offset="1" stop-color="#fac3cb"/></linearGradient>
<linearGradient id="e128" x1="0" y1="0" x2="0" y2="1"><stop offset="0" stop-color="#fffdfd"/><stop offset="0.054" stop-color="#fffcfd"/><stop offset="0.12" stop-color="#fffbfc"/><stop offset="0.186" stop-color="#fffbfc"/><stop offset="0.252" stop-color="#ffffff"/><stop offset="0.296" stop-color="#fdfdff"/><stop offset="0.34" stop-color="#fdfdff"/><stop offset="0.371" stop-color="#fefeff"/><stop offset="0.397" stop-color="#fffefe"/><stop offset="0.424" stop-color="#fef0f2"/><stop offset="0.45" stop-color="#fde1e5"/><stop offset="0.494" stop-color="#fcd1d7"/><stop offset="0.56" stop-color="#fbcad1"/><stop offset="0.626" stop-color="#fbc9d0"/><stop offset="0.692" stop-color="#fbc7ce"/><stop offset="0.758" stop-color="#fac3cb"/><stop offset="0.824" stop-color="#fabec7"/><stop offset="0.89" stop-color="#fabac3"/><stop offset="0.947" stop-color="#fab9c2"/><stop offset="1" stop-color="#fac0c8"/></linearGradient>
<linearGradient id="e129" x1="0" y1="0" x2="0" y2="1"><stop offset="0" stop-color="#fffdfd"/><stop offset="0.054" stop-color="#fffcfd"/><stop offset="0.12" stop-color="#fffcfc"/><stop offset="0.186" stop-color="#fffdfd"/><stop offset="0.252" stop-color="#fefeff"/><stop offset="0.296" stop-color="#fbfbff"/><stop offset="0.34" stop-color="#fcfcff"/><stop offset="0.371" stop-color="#fefeff"/><stop offset="0.397" stop-color="#fffefe"/><stop offset="0.424" stop-color="#fef3f4"/><stop offset="0.45" stop-color="#fde6e9"/><stop offset="0.494" stop-color="#fcd8dd"/><stop offset="0.56" stop-color="#fcd4d9"/><stop offset="0.626" stop-color="#fcd4da"/><stop offset="0.692" stop-color="#fcd3d9"/><stop offset="0.758" stop-color="#fcd1d7"/><stop offset="0.824" stop-color="#fbccd3"/><stop offset="0.89" stop-color="#fbc7cf"/><stop offset="0.947" stop-color="#fac3cb"/><stop offset="1" stop-color="#fbc6ce"/></linearGradient>
<linearGradient id="e130" x1="0" y1="0" x2="0" y2="1"><stop offset="0" stop-color="#fffdfd"/><stop offset="0.054" stop-color="#fffcfd"/><stop offset="0.12" stop-color="#fffcfc"/><stop offset="0.186" stop-color="#ffffff"/><stop offset="0.252" stop-color="#fbfbff"/><stop offset="0.296" stop-color="#fafaff"/><stop offset="0.34" stop-color="#fcfcff"/><stop offset="0.371" stop-color="#fefeff"/><stop offset="0.397" stop-color="#fffefe"/><stop offset="0.424" stop-color="#fef5f6"/><stop offset="0.45" stop-color="#fdeaed"/><stop offset="0.494" stop-color="#fddfe4"/><stop offset="0.56" stop-color="#fcdde1"/><stop offset="0.626" stop-color="#fddee3"/><stop offset="0.692" stop-color="#fddfe4"/><stop offset="0.758" stop-color="#fddfe3"/><stop offset="0.824" stop-color="#fcdce1"/><stop offset="0.89" stop-color="#fcd8dd"/><stop offset="0.947" stop-color="#fcd4da"/><stop offset="1" stop-color="#fcd5db"/></linearGradient>
<clipPath id="c1"><rect x="334.1" y="15.5" width="332.2" height="92.6"/></clipPath>
<clipPath id="c2"><rect x="334.1" y="117.8" width="332.2" height="83.4"/></clipPath>
<linearGradient id="cb" x1="0" y1="0" x2="1" y2="0"><stop offset="0" stop-color="#000010"/><stop offset="0.12" stop-color="#000070"/><stop offset="0.27" stop-color="#0000ff"/><stop offset="0.40" stop-color="#9090ff"/><stop offset="0.5" stop-color="#ffffff"/><stop offset="0.60" stop-color="#ff9090"/><stop offset="0.73" stop-color="#ff0000"/><stop offset="0.88" stop-color="#700000"/><stop offset="1" stop-color="#100000"/></linearGradient>
<radialGradient id="at" cx="0.42" cy="0.4" r="0.6"><stop offset="0" stop-color="#d4a688"/><stop offset="0.4" stop-color="#9a6644"/><stop offset="1" stop-color="#6e4026"/></radialGradient>
<filter id="bl1" x="-50%" y="-50%" width="200%" height="200%"><feGaussianBlur stdDeviation="2.6"/></filter>
<filter id="bl2" x="-50%" y="-50%" width="200%" height="200%"><feGaussianBlur stdDeviation="1.6"/></filter>
<filter id="bl3" x="-50%" y="-50%" width="200%" height="200%"><feGaussianBlur stdDeviation="2.2"/></filter>
<linearGradient id="cn" x1="0" y1="0" x2="0" y2="1"><stop offset="0" stop-color="#4f8fd0"/><stop offset="0.35" stop-color="#6ea5da"/><stop offset="0.85" stop-color="#f0f6fc"/><stop offset="1" stop-color="#ffffff"/></linearGradient>
<linearGradient id="cn2" x1="0" y1="0" x2="0" y2="1"><stop offset="0" stop-color="#4f8fd0"/><stop offset="0.3" stop-color="#7aacde"/><stop offset="0.9" stop-color="#f4f8fd"/><stop offset="1" stop-color="#ffffff"/></linearGradient></defs>
<rect x="0" y="0" width="685" height="579" fill="#fff"/>
<g shape-rendering="crispEdges">
<rect x="334.1" y="206.4" width="3.1" height="150.4" fill="url(#d0)"/>
<rect x="336.6" y="206.4" width="3.1" height="150.4" fill="url(#d1)"/>
<rect x="339.1" y="206.4" width="3.1" height="150.4" fill="url(#d2)"/>
<rect x="341.7" y="206.4" width="3.1" height="150.4" fill="url(#d3)"/>
<rect x="344.2" y="206.4" width="3.1" height="150.4" fill="url(#d4)"/>
<rect x="346.7" y="206.4" width="3.1" height="150.4" fill="url(#d5)"/>
<rect x="349.3" y="206.4" width="3.1" height="150.4" fill="url(#d6)"/>
<rect x="351.8" y="206.4" width="3.1" height="150.4" fill="url(#d7)"/>
<rect x="354.3" y="206.4" width="3.1" height="150.4" fill="url(#d8)"/>
<rect x="356.9" y="206.4" width="3.1" height="150.4" fill="url(#d9)"/>
<rect x="359.4" y="206.4" width="3.1" height="150.4" fill="url(#d10)"/>
<rect x="361.9" y="206.4" width="3.1" height="150.4" fill="url(#d11)"/>
<rect x="364.5" y="206.4" width="3.1" height="150.4" fill="url(#d12)"/>
<rect x="367" y="206.4" width="3.1" height="150.4" fill="url(#d13)"/>
<rect x="369.6" y="206.4" width="3.1" height="150.4" fill="url(#d14)"/>
<rect x="372.1" y="206.4" width="3.1" height="150.4" fill="url(#d15)"/>
<rect x="374.6" y="206.4" width="3.1" height="150.4" fill="url(#d16)"/>
<rect x="377.2" y="206.4" width="3.1" height="150.4" fill="url(#d17)"/>
<rect x="379.7" y="206.4" width="3.1" height="150.4" fill="url(#d18)"/>
<rect x="382.2" y="206.4" width="3.1" height="150.4" fill="url(#d19)"/>
<rect x="384.8" y="206.4" width="3.1" height="150.4" fill="url(#d20)"/>
<rect x="387.3" y="206.4" width="3.1" height="150.4" fill="url(#d21)"/>
<rect x="389.8" y="206.4" width="3.1" height="150.4" fill="url(#d22)"/>
<rect x="392.4" y="206.4" width="3.1" height="150.4" fill="url(#d23)"/>
<rect x="394.9" y="206.4" width="3.1" height="150.4" fill="url(#d24)"/>
<rect x="397.5" y="206.4" width="3.1" height="150.4" fill="url(#d25)"/>
<rect x="400" y="206.4" width="3.1" height="150.4" fill="url(#d26)"/>
<rect x="402.5" y="206.4" width="3.1" height="150.4" fill="url(#d27)"/>
<rect x="405.1" y="206.4" width="3.1" height="150.4" fill="url(#d28)"/>
<rect x="407.6" y="206.4" width="3.1" height="150.4" fill="url(#d29)"/>
<rect x="410.1" y="206.4" width="3.1" height="150.4" fill="url(#d30)"/>
<rect x="412.7" y="206.4" width="3.1" height="150.4" fill="url(#d31)"/>
<rect x="415.2" y="206.4" width="3.1" height="150.4" fill="url(#d32)"/>
<rect x="417.7" y="206.4" width="3.1" height="150.4" fill="url(#d33)"/>
<rect x="420.3" y="206.4" width="3.1" height="150.4" fill="url(#d34)"/>
<rect x="422.8" y="206.4" width="3.1" height="150.4" fill="url(#d35)"/>
<rect x="425.4" y="206.4" width="3.1" height="150.4" fill="url(#d36)"/>
<rect x="427.9" y="206.4" width="3.1" height="150.4" fill="url(#d37)"/>
<rect x="430.4" y="206.4" width="3.1" height="150.4" fill="url(#d38)"/>
<rect x="433" y="206.4" width="3.1" height="150.4" fill="url(#d39)"/>
<rect x="435.5" y="206.4" width="3.1" height="150.4" fill="url(#d40)"/>
<rect x="438" y="206.4" width="3.1" height="150.4" fill="url(#d41)"/>
<rect x="440.6" y="206.4" width="3.1" height="150.4" fill="url(#d42)"/>
<rect x="443.1" y="206.4" width="3.1" height="150.4" fill="url(#d43)"/>
<rect x="445.6" y="206.4" width="3.1" height="150.4" fill="url(#d44)"/>
<rect x="448.2" y="206.4" width="3.1" height="150.4" fill="url(#d45)"/>
<rect x="450.7" y="206.4" width="3.1" height="150.4" fill="url(#d46)"/>
<rect x="453.3" y="206.4" width="3.1" height="150.4" fill="url(#d47)"/>
<rect x="455.8" y="206.4" width="3.1" height="150.4" fill="url(#d48)"/>
<rect x="458.3" y="206.4" width="3.1" height="150.4" fill="url(#d49)"/>
<rect x="460.9" y="206.4" width="3.1" height="150.4" fill="url(#d50)"/>
<rect x="463.4" y="206.4" width="3.1" height="150.4" fill="url(#d51)"/>
<rect x="465.9" y="206.4" width="3.1" height="150.4" fill="url(#d52)"/>
<rect x="468.5" y="206.4" width="3.1" height="150.4" fill="url(#d53)"/>
<rect x="471" y="206.4" width="3.1" height="150.4" fill="url(#d54)"/>
<rect x="473.5" y="206.4" width="3.1" height="150.4" fill="url(#d55)"/>
<rect x="476.1" y="206.4" width="3.1" height="150.4" fill="url(#d56)"/>
<rect x="478.6" y="206.4" width="3.1" height="150.4" fill="url(#d57)"/>
<rect x="481.2" y="206.4" width="3.1" height="150.4" fill="url(#d58)"/>
<rect x="483.7" y="206.4" width="3.1" height="150.4" fill="url(#d59)"/>
<rect x="486.2" y="206.4" width="3.1" height="150.4" fill="url(#d60)"/>
<rect x="488.8" y="206.4" width="3.1" height="150.4" fill="url(#d61)"/>
<rect x="491.3" y="206.4" width="3.1" height="150.4" fill="url(#d62)"/>
<rect x="493.8" y="206.4" width="3.1" height="150.4" fill="url(#d63)"/>
<rect x="496.4" y="206.4" width="3.1" height="150.4" fill="url(#d64)"/>
<rect x="498.9" y="206.4" width="3.1" height="150.4" fill="url(#d65)"/>
<rect x="501.4" y="206.4" width="3.1" height="150.4" fill="url(#d66)"/>
<rect x="504" y="206.4" width="3.1" height="150.4" fill="url(#d67)"/>
<rect x="506.5" y="206.4" width="3.1" height="150.4" fill="url(#d68)"/>
<rect x="509.1" y="206.4" width="3.1" height="150.4" fill="url(#d69)"/>
<rect x="511.6" y="206.4" width="3.1" height="150.4" fill="url(#d70)"/>
<rect x="514.1" y="206.4" width="3.1" height="150.4" fill="url(#d71)"/>
<rect x="516.7" y="206.4" width="3.1" height="150.4" fill="url(#d72)"/>
<rect x="519.2" y="206.4" width="3.1" height="150.4" fill="url(#d73)"/>
<rect x="521.7" y="206.4" width="3.1" height="150.4" fill="url(#d74)"/>
<rect x="524.3" y="206.4" width="3.1" height="150.4" fill="url(#d75)"/>
<rect x="526.8" y="206.4" width="3.1" height="150.4" fill="url(#d76)"/>
<rect x="529.3" y="206.4" width="3.1" height="150.4" fill="url(#d77)"/>
<rect x="531.9" y="206.4" width="3.1" height="150.4" fill="url(#d78)"/>
<rect x="534.4" y="206.4" width="3.1" height="150.4" fill="url(#d79)"/>
<rect x="537" y="206.4" width="3.1" height="150.4" fill="url(#d80)"/>
<rect x="539.5" y="206.4" width="3.1" height="150.4" fill="url(#d81)"/>
<rect x="542" y="206.4" width="3.1" height="150.4" fill="url(#d82)"/>
<rect x="544.6" y="206.4" width="3.1" height="150.4" fill="url(#d83)"/>
<rect x="547.1" y="206.4" width="3.1" height="150.4" fill="url(#d84)"/>
<rect x="549.6" y="206.4" width="3.1" height="150.4" fill="url(#d85)"/>
<rect x="552.2" y="206.4" width="3.1" height="150.4" fill="url(#d86)"/>
<rect x="554.7" y="206.4" width="3.1" height="150.4" fill="url(#d87)"/>
<rect x="557.2" y="206.4" width="3.1" height="150.4" fill="url(#d88)"/>
<rect x="559.8" y="206.4" width="3.1" height="150.4" fill="url(#d89)"/>
<rect x="562.3" y="206.4" width="3.1" height="150.4" fill="url(#d90)"/>
<rect x="564.8" y="206.4" width="3.1" height="150.4" fill="url(#d91)"/>
<rect x="567.4" y="206.4" width="3.1" height="150.4" fill="url(#d92)"/>
<rect x="569.9" y="206.4" width="3.1" height="150.4" fill="url(#d93)"/>
<rect x="572.5" y="206.4" width="3.1" height="150.4" fill="url(#d94)"/>
<rect x="575" y="206.4" width="3.1" height="150.4" fill="url(#d95)"/>
<rect x="577.5" y="206.4" width="3.1" height="150.4" fill="url(#d96)"/>
<rect x="580.1" y="206.4" width="3.1" height="150.4" fill="url(#d97)"/>
<rect x="582.6" y="206.4" width="3.1" height="150.4" fill="url(#d98)"/>
<rect x="585.1" y="206.4" width="3.1" height="150.4" fill="url(#d99)"/>
<rect x="587.7" y="206.4" width="3.1" height="150.4" fill="url(#d100)"/>
<rect x="590.2" y="206.4" width="3.1" height="150.4" fill="url(#d101)"/>
<rect x="592.7" y="206.4" width="3.1" height="150.4" fill="url(#d102)"/>
<rect x="595.3" y="206.4" width="3.1" height="150.4" fill="url(#d103)"/>
<rect x="597.8" y="206.4" width="3.1" height="150.4" fill="url(#d104)"/>
<rect x="600.4" y="206.4" width="3.1" height="150.4" fill="url(#d105)"/>
<rect x="602.9" y="206.4" width="3.1" height="150.4" fill="url(#d106)"/>
<rect x="605.4" y="206.4" width="3.1" height="150.4" fill="url(#d107)"/>
<rect x="608" y="206.4" width="3.1" height="150.4" fill="url(#d108)"/>
<rect x="610.5" y="206.4" width="3.1" height="150.4" fill="url(#d109)"/>
<rect x="613" y="206.4" width="3.1" height="150.4" fill="url(#d110)"/>
<rect x="615.6" y="206.4" width="3.1" height="150.4" fill="url(#d111)"/>
<rect x="618.1" y="206.4" width="3.1" height="150.4" fill="url(#d112)"/>
<rect x="620.6" y="206.4" width="3.1" height="150.4" fill="url(#d113)"/>
<rect x="623.2" y="206.4" width="3.1" height="150.4" fill="url(#d114)"/>
<rect x="625.7" y="206.4" width="3.1" height="150.4" fill="url(#d115)"/>
<rect x="628.3" y="206.4" width="3.1" height="150.4" fill="url(#d116)"/>
<rect x="630.8" y="206.4" width="3.1" height="150.4" fill="url(#d117)"/>
<rect x="633.3" y="206.4" width="3.1" height="150.4" fill="url(#d118)"/>
<rect x="635.9" y="206.4" width="3.1" height="150.4" fill="url(#d119)"/>
<rect x="638.4" y="206.4" width="3.1" height="150.4" fill="url(#d120)"/>
<rect x="640.9" y="206.4" width="3.1" height="150.4" fill="url(#d121)"/>
<rect x="643.5" y="206.4" width="3.1" height="150.4" fill="url(#d122)"/>
<rect x="646" y="206.4" width="3.1" height="150.4" fill="url(#d123)"/>
<rect x="648.5" y="206.4" width="3.1" height="150.4" fill="url(#d124)"/>
<rect x="651.1" y="206.4" width="3.1" height="150.4" fill="url(#d125)"/>
<rect x="653.6" y="206.4" width="3.1" height="150.4" fill="url(#d126)"/>
<rect x="656.2" y="206.4" width="3.1" height="150.4" fill="url(#d127)"/>
<rect x="658.7" y="206.4" width="3.1" height="150.4" fill="url(#d128)"/>
<rect x="661.2" y="206.4" width="3.1" height="150.4" fill="url(#d129)"/>
<rect x="663.8" y="206.4" width="3.1" height="150.4" fill="url(#d130)"/>
</g>
<g shape-rendering="crispEdges">
<rect x="334.1" y="366" width="3.1" height="150.9" fill="url(#e0)"/>
<rect x="336.6" y="366" width="3.1" height="150.9" fill="url(#e1)"/>
<rect x="339.1" y="366" width="3.1" height="150.9" fill="url(#e2)"/>
<rect x="341.7" y="366" width="3.1" height="150.9" fill="url(#e3)"/>
<rect x="344.2" y="366" width="3.1" height="150.9" fill="url(#e4)"/>
<rect x="346.7" y="366" width="3.1" height="150.9" fill="url(#e5)"/>
<rect x="349.3" y="366" width="3.1" height="150.9" fill="url(#e6)"/>
<rect x="351.8" y="366" width="3.1" height="150.9" fill="url(#e7)"/>
<rect x="354.3" y="366" width="3.1" height="150.9" fill="url(#e8)"/>
<rect x="356.9" y="366" width="3.1" height="150.9" fill="url(#e9)"/>
<rect x="359.4" y="366" width="3.1" height="150.9" fill="url(#e10)"/>
<rect x="361.9" y="366" width="3.1" height="150.9" fill="url(#e11)"/>
<rect x="364.5" y="366" width="3.1" height="150.9" fill="url(#e12)"/>
<rect x="367" y="366" width="3.1" height="150.9" fill="url(#e13)"/>
<rect x="369.6" y="366" width="3.1" height="150.9" fill="url(#e14)"/>
<rect x="372.1" y="366" width="3.1" height="150.9" fill="url(#e15)"/>
<rect x="374.6" y="366" width="3.1" height="150.9" fill="url(#e16)"/>
<rect x="377.2" y="366" width="3.1" height="150.9" fill="url(#e17)"/>
<rect x="379.7" y="366" width="3.1" height="150.9" fill="url(#e18)"/>
<rect x="382.2" y="366" width="3.1" height="150.9" fill="url(#e19)"/>
<rect x="384.8" y="366" width="3.1" height="150.9" fill="url(#e20)"/>
<rect x="387.3" y="366" width="3.1" height="150.9" fill="url(#e21)"/>
<rect x="389.8" y="366" width="3.1" height="150.9" fill="url(#e22)"/>
<rect x="392.4" y="366" width="3.1" height="150.9" fill="url(#e23)"/>
<rect x="394.9" y="366" width="3.1" height="150.9" fill="url(#e24)"/>
<rect x="397.5" y="366" width="3.1" height="150.9" fill="url(#e25)"/>
<rect x="400" y="366" width="3.1" height="150.9" fill="url(#e26)"/>
<rect x="402.5" y="366" width="3.1" height="150.9" fill="url(#e27)"/>
<rect x="405.1" y="366" width="3.1" height="150.9" fill="url(#e28)"/>
<rect x="407.6" y="366" width="3.1" height="150.9" fill="url(#e29)"/>
<rect x="410.1" y="366" width="3.1" height="150.9" fill="url(#e30)"/>
<rect x="412.7" y="366" width="3.1" height="150.9" fill="url(#e31)"/>
<rect x="415.2" y="366" width="3.1" height="150.9" fill="url(#e32)"/>
<rect x="417.7" y="366" width="3.1" height="150.9" fill="url(#e33)"/>
<rect x="420.3" y="366" width="3.1" height="150.9" fill="url(#e34)"/>
<rect x="422.8" y="366" width="3.1" height="150.9" fill="url(#e35)"/>
<rect x="425.4" y="366" width="3.1" height="150.9" fill="url(#e36)"/>
<rect x="427.9" y="366" width="3.1" height="150.9" fill="url(#e37)"/>
<rect x="430.4" y="366" width="3.1" height="150.9" fill="url(#e38)"/>
<rect x="433" y="366" width="3.1" height="150.9" fill="url(#e39)"/>
<rect x="435.5" y="366" width="3.1" height="150.9" fill="url(#e40)"/>
<rect x="438" y="366" width="3.1" height="150.9" fill="url(#e41)"/>
<rect x="440.6" y="366" width="3.1" height="150.9" fill="url(#e42)"/>
<rect x="443.1" y="366" width="3.1" height="150.9" fill="url(#e43)"/>
<rect x="445.6" y="366" width="3.1" height="150.9" fill="url(#e44)"/>
<rect x="448.2" y="366" width="3.1" height="150.9" fill="url(#e45)"/>
<rect x="450.7" y="366" width="3.1" height="150.9" fill="url(#e46)"/>
<rect x="453.3" y="366" width="3.1" height="150.9" fill="url(#e47)"/>
<rect x="455.8" y="366" width="3.1" height="150.9" fill="url(#e48)"/>
<rect x="458.3" y="366" width="3.1" height="150.9" fill="url(#e49)"/>
<rect x="460.9" y="366" width="3.1" height="150.9" fill="url(#e50)"/>
<rect x="463.4" y="366" width="3.1" height="150.9" fill="url(#e51)"/>
<rect x="465.9" y="366" width="3.1" height="150.9" fill="url(#e52)"/>
<rect x="468.5" y="366" width="3.1" height="150.9" fill="url(#e53)"/>
<rect x="471" y="366" width="3.1" height="150.9" fill="url(#e54)"/>
<rect x="473.5" y="366" width="3.1" height="150.9" fill="url(#e55)"/>
<rect x="476.1" y="366" width="3.1" height="150.9" fill="url(#e56)"/>
<rect x="478.6" y="366" width="3.1" height="150.9" fill="url(#e57)"/>
<rect x="481.2" y="366" width="3.1" height="150.9" fill="url(#e58)"/>
<rect x="483.7" y="366" width="3.1" height="150.9" fill="url(#e59)"/>
<rect x="486.2" y="366" width="3.1" height="150.9" fill="url(#e60)"/>
<rect x="488.8" y="366" width="3.1" height="150.9" fill="url(#e61)"/>
<rect x="491.3" y="366" width="3.1" height="150.9" fill="url(#e62)"/>
<rect x="493.8" y="366" width="3.1" height="150.9" fill="url(#e63)"/>
<rect x="496.4" y="366" width="3.1" height="150.9" fill="url(#e64)"/>
<rect x="498.9" y="366" width="3.1" height="150.9" fill="url(#e65)"/>
<rect x="501.4" y="366" width="3.1" height="150.9" fill="url(#e66)"/>
<rect x="504" y="366" width="3.1" height="150.9" fill="url(#e67)"/>
<rect x="506.5" y="366" width="3.1" height="150.9" fill="url(#e68)"/>
<rect x="509.1" y="366" width="3.1" height="150.9" fill="url(#e69)"/>
<rect x="511.6" y="366" width="3.1" height="150.9" fill="url(#e70)"/>
<rect x="514.1" y="366" width="3.1" height="150.9" fill="url(#e71)"/>
<rect x="516.7" y="366" width="3.1" height="150.9" fill="url(#e72)"/>
<rect x="519.2" y="366" width="3.1" height="150.9" fill="url(#e73)"/>
<rect x="521.7" y="366" width="3.1" height="150.9" fill="url(#e74)"/>
<rect x="524.3" y="366" width="3.1" height="150.9" fill="url(#e75)"/>
<rect x="526.8" y="366" width="3.1" height="150.9" fill="url(#e76)"/>
<rect x="529.3" y="366" width="3.1" height="150.9" fill="url(#e77)"/>
<rect x="531.9" y="366" width="3.1" height="150.9" fill="url(#e78)"/>
<rect x="534.4" y="366" width="3.1" height="150.9" fill="url(#e79)"/>
<rect x="537" y="366" width="3.1" height="150.9" fill="url(#e80)"/>
<rect x="539.5" y="366" width="3.1" height="150.9" fill="url(#e81)"/>
<rect x="542" y="366" width="3.1" height="150.9" fill="url(#e82)"/>
<rect x="544.6" y="366" width="3.1" height="150.9" fill="url(#e83)"/>
<rect x="547.1" y="366" width="3.1" height="150.9" fill="url(#e84)"/>
<rect x="549.6" y="366" width="3.1" height="150.9" fill="url(#e85)"/>
<rect x="552.2" y="366" width="3.1" height="150.9" fill="url(#e86)"/>
<rect x="554.7" y="366" width="3.1" height="150.9" fill="url(#e87)"/>
<rect x="557.2" y="366" width="3.1" height="150.9" fill="url(#e88)"/>
<rect x="559.8" y="366" width="3.1" height="150.9" fill="url(#e89)"/>
<rect x="562.3" y="366" width="3.1" height="150.9" fill="url(#e90)"/>
<rect x="564.8" y="366" width="3.1" height="150.9" fill="url(#e91)"/>
<rect x="567.4" y="366" width="3.1" height="150.9" fill="url(#e92)"/>
<rect x="569.9" y="366" width="3.1" height="150.9" fill="url(#e93)"/>
<rect x="572.5" y="366" width="3.1" height="150.9" fill="url(#e94)"/>
<rect x="575" y="366" width="3.1" height="150.9" fill="url(#e95)"/>
<rect x="577.5" y="366" width="3.1" height="150.9" fill="url(#e96)"/>
<rect x="580.1" y="366" width="3.1" height="150.9" fill="url(#e97)"/>
<rect x="582.6" y="366" width="3.1" height="150.9" fill="url(#e98)"/>
<rect x="585.1" y="366" width="3.1" height="150.9" fill="url(#e99)"/>
<rect x="587.7" y="366" width="3.1" height="150.9" fill="url(#e100)"/>
<rect x="590.2" y="366" width="3.1" height="150.9" fill="url(#e101)"/>
<rect x="592.7" y="366" width="3.1" height="150.9" fill="url(#e102)"/>
<rect x="595.3" y="366" width="3.1" height="150.9" fill="url(#e103)"/>
<rect x="597.8" y="366" width="3.1" height="150.9" fill="url(#e104)"/>
<rect x="600.4" y="366" width="3.1" height="150.9" fill="url(#e105)"/>
<rect x="602.9" y="366" width="3.1" height="150.9" fill="url(#e106)"/>
<rect x="605.4" y="366" width="3.1" height="150.9" fill="url(#e107)"/>
<rect x="608" y="366" width="3.1" height="150.9" fill="url(#e108)"/>
<rect x="610.5" y="366" width="3.1" height="150.9" fill="url(#e109)"/>
<rect x="613" y="366" width="3.1" height="150.9" fill="url(#e110)"/>
<rect x="615.6" y="366" width="3.1" height="150.9" fill="url(#e111)"/>
<rect x="618.1" y="366" width="3.1" height="150.9" fill="url(#e112)"/>
<rect x="620.6" y="366" width="3.1" height="150.9" fill="url(#e113)"/>
<rect x="623.2" y="366" width="3.1" height="150.9" fill="url(#e114)"/>
<rect x="625.7" y="366" width="3.1" height="150.9" fill="url(#e115)"/>
<rect x="628.3" y="366" width="3.1" height="150.9" fill="url(#e116)"/>
<rect x="630.8" y="366" width="3.1" height="150.9" fill="url(#e117)"/>
<rect x="633.3" y="366" width="3.1" height="150.9" fill="url(#e118)"/>
<rect x="635.9" y="366" width="3.1" height="150.9" fill="url(#e119)"/>
<rect x="638.4" y="366" width="3.1" height="150.9" fill="url(#e120)"/>
<rect x="640.9" y="366" width="3.1" height="150.9" fill="url(#e121)"/>
<rect x="643.5" y="366" width="3.1" height="150.9" fill="url(#e122)"/>
<rect x="646" y="366" width="3.1" height="150.9" fill="url(#e123)"/>
<rect x="648.5" y="366" width="3.1" height="150.9" fill="url(#e124)"/>
<rect x="651.1" y="366" width="3.1" height="150.9" fill="url(#e125)"/>
<rect x="653.6" y="366" width="3.1" height="150.9" fill="url(#e126)"/>
<rect x="656.2" y="366" width="3.1" height="150.9" fill="url(#e127)"/>
<rect x="658.7" y="366" width="3.1" height="150.9" fill="url(#e128)"/>
<rect x="661.2" y="366" width="3.1" height="150.9" fill="url(#e129)"/>
<rect x="663.8" y="366" width="3.1" height="150.9" fill="url(#e130)"/>
</g>
<line x1="347.5" y1="206.4" x2="347.5" y2="356.9" stroke="#77778a" stroke-width="0.9"/>
<line x1="347.5" y1="366" x2="347.5" y2="516.9" stroke="#5e5e62" stroke-width="0.9"/>
<line x1="398.5" y1="206.4" x2="398.5" y2="356.9" stroke="#77778a" stroke-width="0.9"/>
<line x1="398.5" y1="366" x2="398.5" y2="516.9" stroke="#5e5e62" stroke-width="0.9"/>
<line x1="449.5" y1="206.4" x2="449.5" y2="356.9" stroke="#77778a" stroke-width="0.9"/>
<line x1="449.5" y1="366" x2="449.5" y2="516.9" stroke="#5e5e62" stroke-width="0.9"/>
<line x1="500.5" y1="206.4" x2="500.5" y2="356.9" stroke="#77778a" stroke-width="0.9"/>
<line x1="500.5" y1="366" x2="500.5" y2="516.9" stroke="#5e5e62" stroke-width="0.9"/>
<line x1="551.5" y1="206.4" x2="551.5" y2="356.9" stroke="#77778a" stroke-width="0.9"/>
<line x1="551.5" y1="366" x2="551.5" y2="516.9" stroke="#5e5e62" stroke-width="0.9"/>
<line x1="602.5" y1="206.4" x2="602.5" y2="356.9" stroke="#77778a" stroke-width="0.9"/>
<line x1="602.5" y1="366" x2="602.5" y2="516.9" stroke="#5e5e62" stroke-width="0.9"/>
<line x1="653.5" y1="206.4" x2="653.5" y2="356.9" stroke="#77778a" stroke-width="0.9"/>
<line x1="653.5" y1="366" x2="653.5" y2="516.9" stroke="#5e5e62" stroke-width="0.9"/>
<line x1="346.8" y1="15.5" x2="346.8" y2="108.1" stroke="#a9a8c6" stroke-width="1"/>
<line x1="346.8" y1="117.8" x2="346.8" y2="199.7" stroke="#a9a8c6" stroke-width="1"/>
<line x1="397.8" y1="15.5" x2="397.8" y2="108.1" stroke="#a9a8c6" stroke-width="1"/>
<line x1="397.8" y1="117.8" x2="397.8" y2="199.7" stroke="#a9a8c6" stroke-width="1"/>
<line x1="448.8" y1="15.5" x2="448.8" y2="108.1" stroke="#a9a8c6" stroke-width="1"/>
<line x1="448.8" y1="117.8" x2="448.8" y2="199.7" stroke="#a9a8c6" stroke-width="1"/>
<line x1="499.8" y1="15.5" x2="499.8" y2="108.1" stroke="#a9a8c6" stroke-width="1"/>
<line x1="499.8" y1="117.8" x2="499.8" y2="199.7" stroke="#a9a8c6" stroke-width="1"/>
<line x1="550.8" y1="15.5" x2="550.8" y2="108.1" stroke="#a9a8c6" stroke-width="1"/>
<line x1="550.8" y1="117.8" x2="550.8" y2="199.7" stroke="#a9a8c6" stroke-width="1"/>
<line x1="601.8" y1="15.5" x2="601.8" y2="108.1" stroke="#a9a8c6" stroke-width="1"/>
<line x1="601.8" y1="117.8" x2="601.8" y2="199.7" stroke="#a9a8c6" stroke-width="1"/>
<line x1="652.8" y1="15.5" x2="652.8" y2="108.1" stroke="#a9a8c6" stroke-width="1"/>
<line x1="652.8" y1="117.8" x2="652.8" y2="199.7" stroke="#a9a8c6" stroke-width="1"/>
<line x1="334.1" y1="74.7" x2="666.3" y2="74.7" stroke="#a9a8c6" stroke-width="1"/>
<rect x="338" y="17" width="58" height="23" fill="#fff"/>
<g clip-path="url(#c1)">
<polyline points="334.1,48 335.6,49.2 337.1,50.6 338.6,52.1 340.1,53.6 341.6,55.3 343.1,57.1 344.6,59 346.1,60.9 347.6,62.9 349.1,65 350.6,67 352.1,69 353.6,71 355.1,73 356.6,74.9 358.1,76.8 359.6,78.5 361.1,80.2 362.6,81.7 364.1,83 365.6,84.2 367.1,85.3 368.6,86.1 370.1,86.8 371.6,87.2 373.1,87.4 374.6,87.5 376.1,87.3 377.6,86.8 379.1,86.2 380.6,85.3 382.1,84.2 383.6,82.9 385.1,81.4 386.6,79.8 388.1,77.9 389.6,75.9 391.1,73.7 392.6,71.4 394.1,69 395.6,66.4 397.1,63.9 398.6,61.2 400.1,58.6 401.6,55.9 403.1,53.3 404.6,50.7 406.1,48.1 407.6,45.7 409.1,43.4 410.6,41.2 412.1,39.2 413.6,37.3 415.1,35.7 416.6,34.2 418.1,33 419.6,32.1 421.1,31.3 422.6,30.9 424.1,30.7 425.6,30.8 427.1,31.1 428.6,31.8 430.1,32.7 431.6,33.8 433.1,35.2 434.6,36.9 436.1,38.8 437.6,40.9 439.1,43.2 440.6,45.7 442.1,48.4 443.6,51.2 445.1,54.1 446.6,57.2 448.1,60.2 449.6,63.3 451.1,66.5 452.6,69.6 454.1,72.6 455.6,75.6 457.1,78.5 458.6,81.3 460.1,83.9 461.6,86.3 463.1,88.6 464.6,90.6 466.1,92.4 467.6,93.9 469.1,95.2 470.6,96.2 472.1,96.9 473.6,97.3 475.1,97.4 476.6,97.2 478.1,96.7 479.6,95.9 481.1,94.8 482.6,93.4 484.1,91.7 485.6,89.8 487.1,87.6 488.6,85.3 490.1,82.7 491.6,79.9 493.1,77 494.6,73.9 496.1,70.8 497.6,67.6 499.1,64.3 500.6,61 502.1,57.7 503.6,54.5 505.1,51.3 506.6,48.2 508.1,45.2 509.6,42.4 511.1,39.8 512.5,37.4 514,35.1 515.5,33.2 517,31.4 518.5,30 520,28.8 521.5,27.9 523,27.3 524.5,27 526,27.1 527.5,27.4 529,28 530.5,28.9 532,30.1 533.5,31.6 535,33.3 536.5,35.3 538,37.4 539.5,39.8 541,42.4 542.5,45.1 544,48 545.5,51 547,54 548.5,57.1 550,60.2 551.5,63.3 553,66.4 554.5,69.5 556,72.4 557.5,75.2 559,78 560.5,80.5 562,82.9 563.5,85.1 565,87 566.5,88.7 568,90.2 569.5,91.5 571,92.4 572.5,93.1 574,93.6 575.5,93.7 577,93.6 578.5,93.2 580,92.6 581.5,91.7 583,90.5 584.5,89.1 586,87.5 587.5,85.7 589,83.7 590.5,81.6 592,79.3 593.5,76.9 595,74.4 596.5,71.8 598,69.2 599.5,66.5 601,63.9 602.5,61.2 604,58.6 605.5,56.1 607,53.7 608.5,51.3 610,49.1 611.5,47 613,45.1 614.5,43.4 616,41.8 617.5,40.5 619,39.4 620.5,38.4 622,37.7 623.5,37.2 625,37 626.5,36.9 628,37.1 629.5,37.5 631,38.1 632.5,38.9 634,39.9 635.5,41 637,42.4 638.5,43.8 640,45.4 641.5,47.1 643,49 644.5,50.9 646,52.8 647.5,54.8 649,56.9 650.5,58.9 652,60.9 653.5,62.9 655,64.9 656.5,66.8 658,68.6 659.5,70.3 661,71.9 662.5,73.4 664,74.8 665.5,76" fill="none" stroke="#f5190f" stroke-width="2.2" stroke-dasharray="2.4 2.9" stroke-linecap="butt"/>
<polyline points="334.1,76 335.6,77.4 337.1,78.7 338.6,79.9 340.1,81 341.6,81.9 343.1,82.6 344.6,83.2 346.1,83.6 347.6,83.9 349.1,83.9 350.6,83.8 352.1,83.4 353.6,82.9 355.1,82.2 356.6,81.3 358.1,80.2 359.6,78.9 361.1,77.5 362.6,75.9 364.1,74.1 365.6,72.3 367.1,70.2 368.6,68.1 370.1,65.9 371.6,63.7 373.1,61.3 374.6,59 376.1,56.6 377.6,54.3 379.1,52 380.6,49.7 382.1,47.5 383.6,45.4 385.1,43.4 386.6,41.6 388.1,39.9 389.6,38.4 391.1,37 392.6,35.9 394.1,35 395.6,34.3 397.1,33.8 398.6,33.6 400.1,33.6 401.6,33.9 403.1,34.4 404.6,35.2 406.1,36.2 407.6,37.5 409.1,39 410.6,40.7 412.1,42.6 413.6,44.7 415.1,47 416.6,49.4 418.1,52 419.6,54.7 421.1,57.5 422.6,60.4 424.1,63.3 425.6,66.2 427.1,69.1 428.6,72 430.1,74.8 431.6,77.6 433.1,80.2 434.6,82.7 436.1,85 437.6,87.2 439.1,89.2 440.6,90.9 442.1,92.4 443.6,93.7 445.1,94.7 446.6,95.4 448.1,95.8 449.6,96 451.1,95.8 452.6,95.4 454.1,94.7 455.6,93.7 457.1,92.4 458.6,90.8 460.1,89 461.6,86.9 463.1,84.7 464.6,82.2 466.1,79.5 467.6,76.7 469.1,73.7 470.6,70.6 472.1,67.5 473.6,64.3 475.1,61 476.6,57.8 478.1,54.5 479.6,51.4 481.1,48.3 482.6,45.3 484.1,42.5 485.6,39.8 487.1,37.4 488.6,35.1 490.1,33.1 491.6,31.3 493.1,29.8 494.6,28.5 496.1,27.6 497.6,26.9 499.1,26.6 500.6,26.5 502.1,26.8 503.6,27.4 505.1,28.3 506.6,29.4 508.1,30.9 509.6,32.6 511.1,34.5 512.5,36.7 514,39.2 515.5,41.8 517,44.6 518.5,47.5 520,50.5 521.5,53.7 523,56.9 524.5,60.1 526,63.4 527.5,66.6 529,69.8 530.5,72.9 532,75.9 533.5,78.8 535,81.5 536.5,84 538,86.4 539.5,88.5 541,90.3 542.5,92 544,93.3 545.5,94.4 547,95.2 548.5,95.7 550,96 551.5,95.9 553,95.5 554.5,94.9 556,94 557.5,92.8 559,91.3 560.5,89.6 562,87.7 563.5,85.6 565,83.3 566.5,80.9 568,78.3 569.5,75.6 571,72.7 572.5,69.9 574,67 575.5,64 577,61.1 578.5,58.3 580,55.5 581.5,52.7 583,50.1 584.5,47.6 586,45.3 587.5,43.1 589,41.2 590.5,39.4 592,37.9 593.5,36.5 595,35.5 596.5,34.6 598,34 599.5,33.7 601,33.6 602.5,33.7 604,34.1 605.5,34.8 607,35.6 608.5,36.7 610,38 611.5,39.5 613,41.1 614.5,42.9 616,44.9 617.5,46.9 619,49.1 620.5,51.4 622,53.7 623.5,56 625,58.4 626.5,60.7 628,63.1 629.5,65.3 631,67.6 632.5,69.7 634,71.7 635.5,73.7 637,75.4 638.5,77.1 640,78.6 641.5,79.9 643,81 644.5,82 646,82.7 647.5,83.3 649,83.7 650.5,83.9 652,83.9 653.5,83.7 655,83.3 656.5,82.8 658,82.1 659.5,81.2 661,80.2 662.5,79 664,77.8 665.5,76.4" fill="none" stroke="#f5190f" stroke-width="2.6" stroke-linejoin="round"/>
</g>
<g clip-path="url(#c2)">
<path d="M334.2,175.3C336.3,174.9 342.7,173.5 346.7,173C350.7,172.5 354.3,172.9 358.4,172.4C362.5,171.9 367.1,171 371.5,170.1C375.9,169.2 380.3,168.3 384.7,167.2C389.1,166.1 393.7,164 397.8,163.6C401.9,163.2 405.4,164.8 409.5,164.5C413.6,164.2 418.5,163.7 422.6,161.9C426.7,160.2 430.9,156.3 434.3,154C437.7,151.7 440.7,149.4 443.1,148.2C445.5,147 446,146.8 448.9,146.7C451.8,146.5 457.2,147.5 460.6,147.3C464,147.1 466.9,145.5 469.3,145.3C471.7,145.1 472.8,146.8 475.2,146.1C477.6,145.4 480.8,142.7 484,140.9C487.2,139.2 491.5,136.7 494.2,135.6C496.9,134.5 496.7,134.3 500,134.5C503.3,134.7 509.9,135.4 514.2,136.5C518.5,137.6 522,140.4 525.9,140.9C529.8,141.4 533.2,140.1 537.6,139.4C542,138.7 547.8,136.5 552.2,136.5C556.6,136.5 559.4,137.8 563.8,139.4C568.2,141 573.5,145.4 578.4,146.1C583.3,146.8 589.1,144.3 593,143.8C596.9,143.3 597.9,142.7 601.8,143.2C605.7,143.7 611.5,145.1 616.4,146.7C621.3,148.3 625.6,151.9 631,152.6C636.4,153.3 643.6,151.2 648.5,151.1C653.4,151 657,151.8 660.2,152C663.4,152.2 666.3,152.5 667.5,152.6" fill="none" stroke="#5ce6dc" stroke-width="3" stroke-linejoin="round"/>
<polyline points="334.1,199.3 335.6,199.3 337.1,199.3 338.6,199.3 340.1,199.4 341.6,199.4 343.1,199.4 344.6,199.5 346.1,199.5 347.6,199.5 349.1,199.4 350.6,199.3 352.1,199.2 353.6,199 355.1,198.8 356.6,198.6 358.1,198.4 359.6,198.2 361.1,198 362.6,197.8 364.1,197.6 365.6,197.5 367.1,197.3 368.6,197.2 370.1,197 371.6,197 373.1,196.9 374.6,196.9 376.1,196.9 377.6,196.9 379.1,197 380.6,197.1 382.1,197.3 383.6,197.5 385.1,197.7 386.6,197.9 388.1,198.2 389.6,198.4 391.1,198.7 392.6,198.9 394.1,199.1 395.6,199.3 397.1,199.5 398.6,199.5 400.1,199.3 401.6,199.1 403.1,198.8 404.6,198.5 406.1,198.2 407.6,197.8 409.1,197.5 410.6,197.1 412.1,196.7 413.6,196.4 415.1,196 416.6,195.7 418.1,195.5 419.6,195.3 421.1,195.1 422.6,195 424.1,194.9 425.6,194.9 427.1,195 428.6,195.1 430.1,195.3 431.6,195.5 433.1,195.8 434.6,196.1 436.1,196.5 437.6,196.9 439.1,197.3 440.6,197.7 442.1,198.2 443.6,198.6 445.1,198.9 446.6,199.2 448.1,199.4 449.6,199.4 451.1,199.2 452.6,198.9 454.1,198.5 455.6,198 457.1,197.6 458.6,197.1 460.1,196.6 461.6,196 463.1,195.6 464.6,195.1 466.1,194.7 467.6,194.3 469.1,194 470.6,193.7 472.1,193.6 473.6,193.4 475.1,193.4 476.6,193.5 478.1,193.6 479.6,193.8 481.1,194.1 482.6,194.4 484.1,194.8 485.6,195.3 487.1,195.8 488.6,196.3 490.1,196.8 491.6,197.4 493.1,197.9 494.6,198.4 496.1,198.8 497.6,199.2 499.1,199.4 500.6,199.4 502.1,199.2 503.6,198.8 505.1,198.4 506.6,197.9 508.1,197.4 509.6,196.8 511.1,196.3 512.5,195.8 514,195.3 515.5,194.8 517,194.4 518.5,194.1 520,193.8 521.5,193.6 523,193.5 524.5,193.4 526,193.4 527.5,193.5 529,193.7 530.5,194 532,194.3 533.5,194.7 535,195.1 536.5,195.5 538,196 539.5,196.5 541,197.1 542.5,197.6 544,198 545.5,198.5 547,198.9 548.5,199.2 550,199.4 551.5,199.4 553,199.2 554.5,198.9 556,198.6 557.5,198.2 559,197.7 560.5,197.3 562,196.9 563.5,196.5 565,196.1 566.5,195.8 568,195.5 569.5,195.3 571,195.1 572.5,195 574,194.9 575.5,194.9 577,195 578.5,195.1 580,195.2 581.5,195.5 583,195.7 584.5,196 586,196.4 587.5,196.7 589,197.1 590.5,197.4 592,197.8 593.5,198.2 595,198.5 596.5,198.8 598,199.1 599.5,199.3 601,199.5 602.5,199.5 604,199.3 605.5,199.1 607,198.9 608.5,198.7 610,198.4 611.5,198.1 613,197.9 614.5,197.7 616,197.5 617.5,197.3 619,197.1 620.5,197 622,196.9 623.5,196.9 625,196.9 626.5,196.9 628,196.9 629.5,197 631,197.1 632.5,197.3 634,197.4 635.5,197.6 637,197.8 638.5,198 640,198.2 641.5,198.4 643,198.6 644.5,198.8 646,199 647.5,199.2 649,199.3 650.5,199.4 652,199.5 653.5,199.5 655,199.4 656.5,199.3 658,199.2 659.5,199.1 661,199 662.5,198.9 664,198.8 665.5,198.7" fill="none" stroke="#1e14f5" stroke-width="3.3" stroke-linejoin="round"/>
</g>
<rect x="334.1" y="15.5" width="332.2" height="92.6" fill="none" stroke="#000" stroke-width="1.8"/>
<rect x="334.1" y="117.8" width="332.2" height="81.9" fill="none" stroke="#000" stroke-width="1.8"/>
<rect x="334.1" y="206.4" width="332.2" height="150.4" fill="none" stroke="#000" stroke-width="1.8"/>
<rect x="334.1" y="366" width="332.2" height="150.9" fill="none" stroke="#000" stroke-width="1.8"/>
<g stroke="#000" stroke-width="1.4"><line x1="329.1" y1="97.9" x2="334.1" y2="97.9"/><line x1="329.1" y1="62.2" x2="334.1" y2="62.2"/><line x1="329.1" y1="26.5" x2="334.1" y2="26.5"/><line x1="331.1" y1="80" x2="334.1" y2="80"/><line x1="331.1" y1="44.4" x2="334.1" y2="44.4"/><line x1="329.1" y1="199.7" x2="334.1" y2="199.7"/><line x1="329.1" y1="131.3" x2="334.1" y2="131.3"/><line x1="331.1" y1="165.5" x2="334.1" y2="165.5"/><line x1="334.1" y1="323.7" x2="338.1" y2="323.7"/><line x1="662.3" y1="323.7" x2="666.3" y2="323.7"/><line x1="334.1" y1="290.5" x2="340.1" y2="290.5"/><line x1="660.3" y1="290.5" x2="666.3" y2="290.5"/><line x1="334.1" y1="257.2" x2="338.1" y2="257.2"/><line x1="662.3" y1="257.2" x2="666.3" y2="257.2"/><line x1="334.1" y1="224.1" x2="340.1" y2="224.1"/><line x1="660.3" y1="224.1" x2="666.3" y2="224.1"/><line x1="334.1" y1="483.7" x2="338.1" y2="483.7"/><line x1="662.3" y1="483.7" x2="666.3" y2="483.7"/><line x1="334.1" y1="450.5" x2="340.1" y2="450.5"/><line x1="660.3" y1="450.5" x2="666.3" y2="450.5"/><line x1="334.1" y1="417.3" x2="338.1" y2="417.3"/><line x1="662.3" y1="417.3" x2="666.3" y2="417.3"/><line x1="334.1" y1="384.1" x2="340.1" y2="384.1"/><line x1="660.3" y1="384.1" x2="666.3" y2="384.1"/><line x1="336.8" y1="108.1" x2="336.8" y2="110.6"/><line x1="364" y1="108.1" x2="364" y2="110.6"/><line x1="391.2" y1="108.1" x2="391.2" y2="110.6"/><line x1="418.5" y1="108.1" x2="418.5" y2="110.6"/><line x1="445.7" y1="108.1" x2="445.7" y2="110.6"/><line x1="473" y1="108.1" x2="473" y2="110.6"/><line x1="500.2" y1="108.1" x2="500.2" y2="110.6"/><line x1="527.4" y1="108.1" x2="527.4" y2="110.6"/><line x1="554.7" y1="108.1" x2="554.7" y2="110.6"/><line x1="581.9" y1="108.1" x2="581.9" y2="110.6"/><line x1="609.2" y1="108.1" x2="609.2" y2="110.6"/><line x1="636.4" y1="108.1" x2="636.4" y2="110.6"/><line x1="663.6" y1="108.1" x2="663.6" y2="110.6"/><line x1="336.8" y1="199.7" x2="336.8" y2="202.2"/><line x1="364" y1="199.7" x2="364" y2="202.2"/><line x1="391.2" y1="199.7" x2="391.2" y2="202.2"/><line x1="418.5" y1="199.7" x2="418.5" y2="202.2"/><line x1="445.7" y1="199.7" x2="445.7" y2="202.2"/><line x1="473" y1="199.7" x2="473" y2="202.2"/><line x1="500.2" y1="199.7" x2="500.2" y2="202.2"/><line x1="527.4" y1="199.7" x2="527.4" y2="202.2"/><line x1="554.7" y1="199.7" x2="554.7" y2="202.2"/><line x1="581.9" y1="199.7" x2="581.9" y2="202.2"/><line x1="609.2" y1="199.7" x2="609.2" y2="202.2"/><line x1="636.4" y1="199.7" x2="636.4" y2="202.2"/><line x1="663.6" y1="199.7" x2="663.6" y2="202.2"/><line x1="336.8" y1="516.9" x2="336.8" y2="522.9"/><line x1="364" y1="516.9" x2="364" y2="520.4"/><line x1="391.2" y1="516.9" x2="391.2" y2="522.9"/><line x1="418.5" y1="516.9" x2="418.5" y2="520.4"/><line x1="445.7" y1="516.9" x2="445.7" y2="522.9"/><line x1="473" y1="516.9" x2="473" y2="520.4"/><line x1="500.2" y1="516.9" x2="500.2" y2="522.9"/><line x1="527.4" y1="516.9" x2="527.4" y2="520.4"/><line x1="554.7" y1="516.9" x2="554.7" y2="522.9"/><line x1="581.9" y1="516.9" x2="581.9" y2="520.4"/><line x1="609.2" y1="516.9" x2="609.2" y2="522.9"/><line x1="636.4" y1="516.9" x2="636.4" y2="520.4"/><line x1="663.6" y1="516.9" x2="663.6" y2="522.9"/></g>
<line x1="334.1" y1="425.2" x2="666.3" y2="425.2" stroke="#111" stroke-width="1.7" stroke-dasharray="5.3 4.55" stroke-dashoffset="-1"/>
<rect x="352.4" y="214" width="71.1" height="14.8" fill="url(#cb)"/>
<line x1="533.6" y1="171.3" x2="529" y2="183" stroke="#1a14f0" stroke-width="2.1"/>
<polygon points="527.2,187.6 525.8,179.2 533,182" fill="#1a14f0"/>
<g stroke="#8a5a3c" stroke-width="2" stroke-linecap="round"><line x1="174.1" y1="146.2" x2="185" y2="134.8"/><line x1="174.1" y1="146.2" x2="180.9" y2="151.9"/><line x1="174.1" y1="146.2" x2="156.9" y2="151.9"/><line x1="146" y1="163.3" x2="156.9" y2="151.9"/><line x1="146" y1="163.3" x2="152.8" y2="169"/><line x1="146" y1="163.3" x2="128.8" y2="169"/><line x1="170" y1="163.3" x2="180.9" y2="151.9"/><line x1="170" y1="163.3" x2="176.8" y2="169"/><line x1="170" y1="163.3" x2="152.8" y2="169"/><line x1="117.9" y1="180.4" x2="128.8" y2="169"/><line x1="117.9" y1="180.4" x2="124.7" y2="186.1"/><line x1="117.9" y1="180.4" x2="100.7" y2="186.1"/><line x1="141.9" y1="180.4" x2="152.8" y2="169"/><line x1="141.9" y1="180.4" x2="148.7" y2="186.1"/><line x1="141.9" y1="180.4" x2="124.7" y2="186.1"/><line x1="165.9" y1="180.4" x2="176.8" y2="169"/><line x1="165.9" y1="180.4" x2="172.7" y2="186.1"/><line x1="165.9" y1="180.4" x2="148.7" y2="186.1"/><line x1="89.8" y1="197.5" x2="100.7" y2="186.1"/><line x1="89.8" y1="197.5" x2="96.6" y2="203.2"/><line x1="89.8" y1="197.5" x2="72.6" y2="203.2"/><line x1="113.8" y1="197.5" x2="124.7" y2="186.1"/><line x1="113.8" y1="197.5" x2="120.6" y2="203.2"/><line x1="113.8" y1="197.5" x2="96.6" y2="203.2"/><line x1="137.8" y1="197.5" x2="148.7" y2="186.1"/><line x1="137.8" y1="197.5" x2="144.6" y2="203.2"/><line x1="137.8" y1="197.5" x2="120.6" y2="203.2"/><line x1="161.8" y1="197.5" x2="172.7" y2="186.1"/><line x1="161.8" y1="197.5" x2="168.6" y2="203.2"/><line x1="161.8" y1="197.5" x2="144.6" y2="203.2"/><line x1="61.7" y1="214.6" x2="72.6" y2="203.2"/><line x1="61.7" y1="214.6" x2="68.5" y2="220.3"/><line x1="61.7" y1="214.6" x2="44.5" y2="220.3"/><line x1="85.7" y1="214.6" x2="96.6" y2="203.2"/><line x1="85.7" y1="214.6" x2="92.5" y2="220.3"/><line x1="85.7" y1="214.6" x2="68.5" y2="220.3"/><line x1="109.7" y1="214.6" x2="120.6" y2="203.2"/><line x1="109.7" y1="214.6" x2="116.5" y2="220.3"/><line x1="109.7" y1="214.6" x2="92.5" y2="220.3"/><line x1="133.7" y1="214.6" x2="144.6" y2="203.2"/><line x1="133.7" y1="214.6" x2="140.5" y2="220.3"/><line x1="133.7" y1="214.6" x2="116.5" y2="220.3"/><line x1="157.7" y1="214.6" x2="168.6" y2="203.2"/><line x1="157.7" y1="214.6" x2="164.5" y2="220.3"/><line x1="157.7" y1="214.6" x2="140.5" y2="220.3"/><line x1="57.6" y1="231.7" x2="68.5" y2="220.3"/><line x1="57.6" y1="231.7" x2="64.4" y2="237.4"/><line x1="57.6" y1="231.7" x2="40.4" y2="237.4"/><line x1="81.6" y1="231.7" x2="92.5" y2="220.3"/><line x1="81.6" y1="231.7" x2="88.4" y2="237.4"/><line x1="81.6" y1="231.7" x2="64.4" y2="237.4"/><line x1="105.6" y1="231.7" x2="116.5" y2="220.3"/><line x1="105.6" y1="231.7" x2="112.4" y2="237.4"/><line x1="105.6" y1="231.7" x2="88.4" y2="237.4"/><line x1="129.6" y1="231.7" x2="140.5" y2="220.3"/><line x1="129.6" y1="231.7" x2="136.4" y2="237.4"/><line x1="129.6" y1="231.7" x2="112.4" y2="237.4"/><line x1="53.5" y1="248.8" x2="64.4" y2="237.4"/><line x1="53.5" y1="248.8" x2="60.3" y2="254.5"/><line x1="53.5" y1="248.8" x2="36.3" y2="254.5"/><line x1="77.5" y1="248.8" x2="88.4" y2="237.4"/><line x1="77.5" y1="248.8" x2="84.3" y2="254.5"/><line x1="77.5" y1="248.8" x2="60.3" y2="254.5"/><line x1="101.5" y1="248.8" x2="112.4" y2="237.4"/><line x1="101.5" y1="248.8" x2="108.3" y2="254.5"/><line x1="101.5" y1="248.8" x2="84.3" y2="254.5"/><line x1="49.4" y1="265.9" x2="60.3" y2="254.5"/><line x1="49.4" y1="265.9" x2="56.2" y2="271.6"/><line x1="49.4" y1="265.9" x2="32.2" y2="271.6"/><line x1="73.4" y1="265.9" x2="84.3" y2="254.5"/><line x1="73.4" y1="265.9" x2="80.2" y2="271.6"/><line x1="73.4" y1="265.9" x2="56.2" y2="271.6"/><line x1="45.3" y1="283" x2="56.2" y2="271.6"/><line x1="45.3" y1="283" x2="52.1" y2="288.7"/><line x1="45.3" y1="283" x2="28.1" y2="288.7"/></g><g fill="url(#at)"><circle cx="185" cy="134.8" r="4.35"/><circle cx="174.1" cy="146.2" r="4.35"/><circle cx="156.9" cy="151.9" r="4.35"/><circle cx="180.9" cy="151.9" r="4.35"/><circle cx="146" cy="163.3" r="4.35"/><circle cx="170" cy="163.3" r="4.35"/><circle cx="128.8" cy="169" r="4.35"/><circle cx="152.8" cy="169" r="4.35"/><circle cx="176.8" cy="169" r="4.35"/><circle cx="117.9" cy="180.4" r="4.35"/><circle cx="141.9" cy="180.4" r="4.35"/><circle cx="165.9" cy="180.4" r="4.35"/><circle cx="100.7" cy="186.1" r="4.35"/><circle cx="124.7" cy="186.1" r="4.35"/><circle cx="148.7" cy="186.1" r="4.35"/><circle cx="172.7" cy="186.1" r="4.35"/><circle cx="89.8" cy="197.5" r="4.35"/><circle cx="113.8" cy="197.5" r="4.35"/><circle cx="137.8" cy="197.5" r="4.35"/><circle cx="161.8" cy="197.5" r="4.35"/><circle cx="72.6" cy="203.2" r="4.35"/><circle cx="96.6" cy="203.2" r="4.35"/><circle cx="120.6" cy="203.2" r="4.35"/><circle cx="144.6" cy="203.2" r="4.35"/><circle cx="168.6" cy="203.2" r="4.35"/><circle cx="61.7" cy="214.6" r="4.35"/><circle cx="85.7" cy="214.6" r="4.35"/><circle cx="109.7" cy="214.6" r="4.35"/><circle cx="133.7" cy="214.6" r="4.35"/><circle cx="157.7" cy="214.6" r="4.35"/><circle cx="44.5" cy="220.3" r="4.35"/><circle cx="68.5" cy="220.3" r="4.35"/><circle cx="92.5" cy="220.3" r="4.35"/><circle cx="116.5" cy="220.3" r="4.35"/><circle cx="140.5" cy="220.3" r="4.35"/><circle cx="164.5" cy="220.3" r="4.35"/><circle cx="57.6" cy="231.7" r="4.35"/><circle cx="81.6" cy="231.7" r="4.35"/><circle cx="105.6" cy="231.7" r="4.35"/><circle cx="129.6" cy="231.7" r="4.35"/><circle cx="40.4" cy="237.4" r="4.35"/><circle cx="64.4" cy="237.4" r="4.35"/><circle cx="88.4" cy="237.4" r="4.35"/><circle cx="112.4" cy="237.4" r="4.35"/><circle cx="136.4" cy="237.4" r="4.35"/><circle cx="53.5" cy="248.8" r="4.35"/><circle cx="77.5" cy="248.8" r="4.35"/><circle cx="101.5" cy="248.8" r="4.35"/><circle cx="36.3" cy="254.5" r="4.35"/><circle cx="60.3" cy="254.5" r="4.35"/><circle cx="84.3" cy="254.5" r="4.35"/><circle cx="108.3" cy="254.5" r="4.35"/><circle cx="49.4" cy="265.9" r="4.35"/><circle cx="73.4" cy="265.9" r="4.35"/><circle cx="32.2" cy="271.6" r="4.35"/><circle cx="56.2" cy="271.6" r="4.35"/><circle cx="80.2" cy="271.6" r="4.35"/><circle cx="45.3" cy="283" r="4.35"/><circle cx="28.1" cy="288.7" r="4.35"/><circle cx="52.1" cy="288.7" r="4.35"/></g><line x1="76.5" y1="119.5" x2="158" y2="216.5" stroke="#ff2a2a" stroke-opacity="0.55" stroke-width="19" filter="url(#bl1)"/><line x1="79" y1="122.5" x2="156.5" y2="214.5" stroke="#ff1414" stroke-opacity="0.9" stroke-width="6.5" filter="url(#bl2)"/><line x1="47" y1="77.5" x2="70.5" y2="105" stroke="#3434ff" stroke-opacity="0.68" stroke-width="12.5" filter="url(#bl3)"/><line x1="48.5" y1="79.5" x2="61" y2="94.5" stroke="#1c1cff" stroke-opacity="0.55" stroke-width="4.5" filter="url(#bl2)"/><polyline points="77.8,121.2 78,121.3 78.1,121.5 78.2,121.6 78.3,121.8 78.4,122 78.5,122.1 78.6,122.3 78.7,122.5 78.7,122.7 78.8,122.9 78.9,123.1 78.9,123.2 79,123.4 79,123.6 79.1,123.8 79.1,124 79.2,124.2 79.3,124.4 79.4,124.5 79.5,124.7 79.6,124.9 79.8,125 79.9,125.1 80.1,125.2 80.4,125.3 80.6,125.4 80.9,125.5 81.2,125.6 81.5,125.6 81.8,125.7 82.2,125.8 82.5,125.8 82.9,125.9 83.2,125.9 83.5,126 83.8,126.1 84,126.2 84.2,126.3 84.4,126.4 84.5,126.6 84.5,126.8 84.5,127 84.5,127.2 84.4,127.5 84.2,127.8 83.9,128.1 83.6,128.5 83.3,128.9 83,129.3 82.6,129.6 82.2,130 81.9,130.4 81.6,130.8 81.3,131.1 81.1,131.5 81,131.7 81,132 81,132.1 81.2,132.3 81.6,132.3 82,132.3 82.6,132.2 83.3,132.1 84.1,131.9 85.1,131.7 86.1,131.4 87.2,131.1 88.3,130.7 89.5,130.4 90.6,130 91.7,129.7 92.8,129.4 93.7,129.2 94.4,129 95,129 95.4,129 95.6,129.1 95.5,129.4 95.2,129.7 94.7,130.2 93.9,130.8 92.8,131.6 91.6,132.4 90.1,133.3 88.5,134.3 86.8,135.4 85.1,136.4 83.3,137.5 81.6,138.6 80,139.6 78.5,140.5 77.3,141.3 76.3,142 75.7,142.5 75.4,142.9 75.6,143 76.1,143 77.1,142.7 78.5,142.2 80.4,141.5 82.6,140.7 85.1,139.7 87.9,138.5 91,137.2 94.2,135.9 97.5,134.5 100.7,133.1 103.8,131.8 106.7,130.6 109.3,129.6 111.5,128.7 113.2,128.1 114.4,127.7 115,127.6 115,127.8 114.3,128.4 113,129.3 111,130.4 108.4,131.9 105.3,133.7 101.7,135.6 97.7,137.8 93.4,140.1 89,142.5 84.6,144.9 80.2,147.2 76.1,149.5 72.3,151.5 69.1,153.3 66.4,154.8 64.5,156 63.3,156.8 63,157.2 63.5,157.1 65,156.6 67.3,155.7 70.5,154.4 74.4,152.6 79.1,150.6 84.3,148.3 89.9,145.7 95.9,143 102,140.3 108,137.5 113.9,134.9 119.3,132.4 124.3,130.2 128.5,128.4 132,126.9 134.5,125.9 136,125.4 136.4,125.4 135.8,125.9 134,127 131.3,128.5 127.5,130.6 122.9,133.1 117.5,135.9 111.5,139.1 105,142.4 98.3,145.9 91.6,149.4 84.9,152.9 78.6,156.2 72.8,159.3 67.7,162 63.4,164.3 60.1,166.1 57.8,167.4 56.7,168.2 56.8,168.4 58,168 60.4,167 63.9,165.5 68.4,163.6 73.8,161.2 79.9,158.4 86.6,155.4 93.6,152.1 100.8,148.8 108,145.5 114.9,142.4 121.5,139.4 127.4,136.7 132.6,134.4 136.9,132.5 140.2,131.1 142.4,130.2 143.5,129.9 143.4,130.2 142.2,131 139.9,132.3 136.6,134.1 132.4,136.4 127.4,139 121.9,142 115.9,145.1 109.6,148.4 103.2,151.7 97,155 91,158.1 85.5,161 80.6,163.7 76.4,165.9 73.1,167.8 70.6,169.2 69.2,170.1 68.7,170.5 69.3,170.5 70.8,170 73.2,169 76.4,167.7 80.3,166 84.8,164 89.7,161.8 94.9,159.5 100.3,157.1 105.7,154.6 110.9,152.3 115.8,150.1 120.4,148.1 124.4,146.4 127.7,144.9 130.4,143.9 132.3,143.1 133.5,142.8 133.9,142.8 133.6,143.2 132.5,143.9 130.8,145 128.5,146.3 125.7,147.9 122.5,149.6 119.1,151.6 115.4,153.5 111.8,155.6 108.1,157.5 104.7,159.5 101.4,161.2 98.6,162.9 96.1,164.3 94.1,165.5 92.5,166.5 91.5,167.2 91.1,167.6 91.1,167.8 91.7,167.7 92.7,167.4 94.2,167 96,166.3 98.1,165.5 100.5,164.5 102.9,163.5 105.5,162.5 108.1,161.5 110.6,160.5 113,159.5 115.2,158.6 117.1,157.9 118.8,157.3 120.2,156.8 121.3,156.5 122,156.4 122.4,156.4 122.5,156.6 122.3,156.9 121.8,157.3 121.1,157.9 120.2,158.5 119.2,159.3 118,160.1 116.8,160.9 115.5,161.7 114.2,162.6 113,163.4 111.9,164.1 110.9,164.8 110.1,165.5 109.4,166 108.9,166.5 108.5,166.9 108.4,167.2 108.4,167.4 108.6,167.5 108.9,167.5 109.4,167.5 110,167.5 110.6,167.3 111.4,167.2 112.2,167 113,166.8 113.9,166.6 114.7,166.4 115.5,166.3 116.2,166.1 116.9,166 117.5,165.9 118,165.9 118.4,165.9 118.8,166 119,166.1 119.2,166.2 119.3,166.4 119.3,166.6 119.2,166.8 119.1,167.1 119,167.4 118.8,167.6 118.6,168 118.5,168.3 118.3,168.6 118.1,168.9 117.9,169.2 117.8,169.4 117.7,169.7 117.6,170 117.6,170.2 117.6,170.4 117.7,170.6 117.7,170.8 117.9,170.9 118,171.1 118.2,171.2 118.4,171.3 118.6,171.4 118.9,171.5 119.1,171.6 119.4,171.7 119.6,171.8 119.9,171.9 120.1,172 120.4,172.1 120.6,172.2 120.8,172.3 121,172.4 121.2,172.5 121.4,172.7 121.5,172.8 121.7,172.9 121.8,173.1 121.9,173.3 122,173.4 122.1,173.6 122.2,173.8 122.3,173.9 122.4,174.1 122.5,174.3 122.6,174.5 122.7,174.6 122.7,174.8" fill="none" stroke="#ff1a1a" stroke-width="1.4" stroke-linejoin="round"/><line x1="60" y1="166.6" x2="184.3" y2="105.1" stroke="#ff1a1a" stroke-width="1.7"/><polyline points="175.6,104.2 185.2,104.7 179.4,112.4" fill="none" stroke="#ff1a1a" stroke-width="1.7"/><polyline points="53.8,87 53.9,87.1 53.9,87.2 54,87.3 54,87.4 54,87.5 54.1,87.6 54.1,87.7 54.1,87.8 54,87.9 54,88.1 54,88.2 53.9,88.3 53.9,88.4 53.9,88.6 53.8,88.7 53.8,88.9 53.7,89 53.7,89.1 53.6,89.2 53.6,89.4 53.6,89.5 53.6,89.6 53.7,89.7 53.8,89.7 53.9,89.8 54,89.8 54.2,89.9 54.4,89.9 54.6,89.8 54.9,89.8 55.2,89.7 55.6,89.7 56,89.5 56.5,89.4 56.9,89.3 57.4,89.1 58,89 58.5,88.8 59.1,88.6 59.6,88.4 60.1,88.3 60.6,88.1 61.1,88 61.5,87.9 61.9,87.8 62.2,87.8 62.4,87.8 62.5,87.8 62.5,87.9 62.4,88.1 62.2,88.3 61.8,88.6 61.3,89 60.7,89.4 60,89.9 59.1,90.5 58.1,91.1 57.1,91.7 55.9,92.5 54.6,93.2 53.4,94 52,94.8 50.7,95.6 49.4,96.4 48.1,97.2 46.9,98 45.8,98.6 44.8,99.3 44,99.8 43.3,100.2 42.9,100.6 42.7,100.8 42.8,100.9 43.1,100.8 43.8,100.6 44.7,100.2 45.8,99.7 47.3,99 49.1,98.2 51,97.3 53.3,96.3 55.7,95.1 58.3,93.9 61.1,92.5 63.9,91.2 66.8,89.8 69.6,88.4 72.5,87 75.2,85.7 77.8,84.5 80.1,83.3 82.2,82.3 84.1,81.5 85.5,80.8 86.6,80.4 87.3,80.1 87.6,80.1 87.4,80.3 86.8,80.7 85.7,81.4 84.2,82.3 82.2,83.5 79.9,84.8 77.1,86.3 74.1,88 70.8,89.9 67.2,91.8 63.5,93.9 59.7,96 55.8,98.1 52,100.2 48.3,102.3 44.7,104.3 41.4,106.1 38.3,107.8 35.6,109.3 33.3,110.7 31.5,111.7 30.1,112.6 29.1,113.2 28.7,113.5 28.9,113.5 29.5,113.3 30.6,112.8 32.2,112.1 34.3,111.1 36.8,109.9 39.7,108.6 42.8,107 46.3,105.3 49.9,103.5 53.6,101.7 57.5,99.8 61.3,97.9 65.1,96 68.8,94.2 72.2,92.5 75.5,90.9 78.4,89.5 81.1,88.2 83.4,87.2 85.2,86.3 86.7,85.6 87.8,85.2 88.4,85 88.6,85 88.4,85.2 87.8,85.6 86.8,86.2 85.5,87 83.9,87.9 82.1,89 80,90.2 77.8,91.5 75.4,92.8 73,94.2 70.5,95.6 68,97 65.7,98.4 63.4,99.7 61.2,100.9 59.2,102.1 57.4,103.1 55.8,104.1 54.4,104.9 53.3,105.6 52.5,106.2 51.8,106.6 51.5,106.9 51.4,107.1 51.5,107.1 51.8,107.1 52.3,106.9 53,106.7 53.8,106.3 54.8,105.9 55.9,105.5 57,105 58.2,104.5 59.4,103.9 60.7,103.4 61.9,102.9 63.1,102.4 64.2,101.9 65.3,101.4 66.3,101 67.2,100.7 68,100.4 68.7,100.1 69.3,99.9 69.8,99.8 70.2,99.7 70.4,99.6 70.6,99.6 70.7,99.7 70.7,99.8 70.7,99.9 70.5,100.1 70.4,100.3 70.1,100.6 69.9,100.8 69.6,101.1 69.3,101.3 69,101.6 68.7,101.9 68.4,102.1 68.1,102.4 67.8,102.6 67.6,102.9 67.4,103.1 67.2,103.3 67,103.5 66.9,103.7 66.8,103.9 66.7,104 66.7,104.1 66.7,104.3 66.7,104.4 66.7,104.4 66.8,104.5 66.9,104.6 67,104.6 67.1,104.7 67.2,104.7 67.3,104.8 67.5,104.8 67.6,104.8 67.8,104.9 67.9,104.9 68.1,104.9 68.2,105 68.3,105 68.5,105.1 68.6,105.1 68.7,105.2 68.8,105.2 68.9,105.3 69,105.3 69.1,105.4 69.2,105.5 69.3,105.5 69.4,105.6 69.4,105.7 69.5,105.7 69.6,105.8 69.6,105.9 69.7,106 69.7,106.1 69.8,106.1 69.8,106.2 69.9,106.3 70,106.4 70,106.5 70.1,106.5 70.1,106.6 70.2,106.7 70.2,106.8 70.3,106.9 70.3,107 70.4,107" fill="none" stroke="#2020ff" stroke-width="1.3" stroke-linejoin="round"/><line x1="31.2" y1="113.2" x2="143.4" y2="54.4" stroke="#2020ff" stroke-width="1.8"/><polyline points="134.9,53.3 144.3,53.9 138.7,61.5" fill="none" stroke="#2020ff" stroke-width="1.8"/><line x1="131.9" y1="66.1" x2="162.6" y2="108.1" stroke="#111" stroke-width="1.2"/><polyline points="131.6,71.3 131.7,65.8 136.7,67.8" fill="none" stroke="#111" stroke-width="1"/><polyline points="157.8,106.4 162.8,108.4 162.9,102.9" fill="none" stroke="#111" stroke-width="1"/><g stroke="#000" stroke-width="1.6" fill="none"><line x1="178.1" y1="234.2" x2="183.7" y2="212.8"/><line x1="178.1" y1="234.2" x2="207.4" y2="219.7"/><polyline points="180.2,217.3 183.9,212.1 186,218.3"/><polyline points="201.5,218.2 208.1,219.4 204.2,224.4"/></g>
<polyline points="142.8,28.8 147.8,24.6 152.8,28.8" fill="none" stroke="#2020ff" stroke-width="1.9" stroke-linejoin="round"/>
<polyline points="194,95.5 199,91.3 204,95.5" fill="none" stroke="#ff1a1a" stroke-width="1.9" stroke-linejoin="round"/>
<polyline points="215.8,211.3 220.8,207.1 225.8,211.3" fill="none" stroke="#000" stroke-width="1.9" stroke-linejoin="round"/>
<polyline points="185,191.6 190,187.4 195,191.6" fill="none" stroke="#000" stroke-width="1.9" stroke-linejoin="round"/>
<polygon points="55.2,447.5 102.4,521.5 8,521.5" fill="url(#cn)"/><polygon points="150.4,477.4 188.8,477.4 217.2,521.5 122.3,521.5" fill="url(#cn2)"/><g stroke="#a6a6a6" stroke-width="2.6"><line x1="8" y1="373.7" x2="102.4" y2="521.5"/><line x1="102.4" y1="373.7" x2="8" y2="521.5"/><line x1="122.3" y1="373.2" x2="217.2" y2="521.5"/><line x1="217.2" y1="373.2" x2="122.3" y2="521.5"/></g><g fill="none" stroke="#2222ff" stroke-width="1.9"><line x1="22.9" y1="487" x2="22.9" y2="407.1"/><polyline points="26.5,413.7 22.9,407.1 19.3,413.7"/></g><g fill="none" stroke="#2222ff" stroke-width="1.9"><line x1="32" y1="474.3" x2="32" y2="419.9"/><polyline points="35.6,426.5 32,419.9 28.4,426.5"/></g><g fill="none" stroke="#2222ff" stroke-width="1.9"><line x1="41.8" y1="463.4" x2="41.8" y2="431.8"/><polyline points="45.4,438.4 41.8,431.8 38.2,438.4"/></g><g fill="none" stroke="#2222ff" stroke-width="1.9"><line x1="70.8" y1="463.4" x2="70.8" y2="433.3"/><polyline points="74.4,439.9 70.8,433.3 67.2,439.9"/></g><g fill="none" stroke="#2222ff" stroke-width="1.9"><line x1="79.2" y1="475.4" x2="79.2" y2="420.6"/><polyline points="82.8,427.2 79.2,420.6 75.6,427.2"/></g><g fill="none" stroke="#2222ff" stroke-width="1.9"><line x1="88.2" y1="487" x2="88.2" y2="407.9"/><polyline points="91.8,414.5 88.2,407.9 84.6,414.5"/></g><g fill="none" stroke="#2222ff" stroke-width="1.9"><line x1="137" y1="486.8" x2="137" y2="407.9"/><polyline points="140.6,414.5 137,407.9 133.4,414.5"/></g><g fill="none" stroke="#2222ff" stroke-width="1.9"><line x1="145.8" y1="474.5" x2="145.8" y2="419.6"/><polyline points="149.4,426.2 145.8,419.6 142.2,426.2"/></g><g fill="none" stroke="#2222ff" stroke-width="1.9"><line x1="193.7" y1="474.5" x2="193.7" y2="419.6"/><polyline points="197.3,426.2 193.7,419.6 190.1,426.2"/></g><g fill="none" stroke="#2222ff" stroke-width="1.9"><line x1="202.5" y1="486.8" x2="202.5" y2="408.4"/><polyline points="206.1,415 202.5,408.4 198.9,415"/></g><g fill="none" stroke="#ff2020" stroke-width="1.9"><line x1="32.7" y1="395.5" x2="49.7" y2="421"/><polyline points="43.1,417.5 49.7,421 49,413.5"/></g><g fill="none" stroke="#ff2020" stroke-width="1.9"><line x1="62.5" y1="421" x2="80.6" y2="394.4"/><polyline points="79.9,401.9 80.6,394.4 73.9,397.8"/></g><g fill="none" stroke="#ff2020" stroke-width="1.9"><line x1="30.9" y1="501.6" x2="49" y2="476.1"/><polyline points="48.1,483.5 49,476.1 42.3,479.4"/></g><g fill="none" stroke="#ff2020" stroke-width="1.9"><line x1="62.5" y1="476.9" x2="79.9" y2="502.6"/><polyline points="73.2,499.2 79.9,502.6 79.2,495.1"/></g><g fill="none" stroke="#ff2020" stroke-width="1.9"><line x1="146.7" y1="395.8" x2="164.3" y2="421.7"/><polyline points="157.6,418.3 164.3,421.7 163.6,414.2"/></g><g fill="none" stroke="#ff2020" stroke-width="1.9"><line x1="176.9" y1="421.1" x2="195.1" y2="394.4"/><polyline points="194.4,401.9 195.1,394.4 188.4,397.8"/></g><g fill="none" stroke="#ff2020" stroke-width="1.9"><line x1="145.2" y1="501.8" x2="163.4" y2="475.4"/><polyline points="162.6,482.9 163.4,475.4 156.7,478.8"/></g><g fill="none" stroke="#ff2020" stroke-width="1.9"><line x1="176.9" y1="477.4" x2="194.6" y2="503"/><polyline points="187.9,499.6 194.6,503 193.8,495.5"/></g><g stroke="#111" stroke-width="1.2" stroke-dasharray="1.1 1.3" fill="none"><line x1="205.4" y1="420.2" x2="231" y2="420.2"/><line x1="205.4" y1="476" x2="231" y2="476"/><line x1="221.6" y1="421" x2="221.6" y2="475.5"/></g><g stroke="#111" stroke-width="0.9" fill="none"><polyline points="219.2,425 221.6,420.8 224,425"/><polyline points="219.2,471.2 221.6,475.4 224,471.2"/></g>
<g><text x="-0.7" y="20.7" font-size="26" fill="#000" text-anchor="start" textLength="30" lengthAdjust="spacingAndGlyphs" stroke="#000" stroke-width="0.25">(a)</text>
<text x="-0.7" y="346.9" font-size="26" fill="#000" text-anchor="start" textLength="31" lengthAdjust="spacingAndGlyphs" stroke="#000" stroke-width="0.25">(b)</text>
<text x="237.8" y="20.7" font-size="26" fill="#000" text-anchor="start" textLength="28.6" lengthAdjust="spacingAndGlyphs" stroke="#000" stroke-width="0.25">(c)</text>
<text x="238.3" y="233.9" font-size="26" fill="#000" text-anchor="start" textLength="31" lengthAdjust="spacingAndGlyphs" stroke="#000" stroke-width="0.25">(d)</text>
<text x="238.3" y="382.6" font-size="26" fill="#000" text-anchor="start" textLength="30.6" lengthAdjust="spacingAndGlyphs" stroke="#000" stroke-width="0.25">(e)</text>
<text x="322.6" y="33.5" font-size="19.5" fill="#000" text-anchor="end" stroke="#000" stroke-width="0.3">1</text>
<text x="322.6" y="69.2" font-size="19.5" fill="#000" text-anchor="end" stroke="#000" stroke-width="0.3">0</text>
<text x="322.6" y="104.9" font-size="19.5" fill="#000" text-anchor="end" stroke="#000" stroke-width="0.3">-1</text>
<text x="322.6" y="138.4" font-size="19.5" fill="#000" text-anchor="end" stroke="#000" stroke-width="0.3">1</text>
<text x="322.6" y="204.2" font-size="19.5" fill="#000" text-anchor="end" stroke="#000" stroke-width="0.3">0</text>
<text x="324.2" y="234.9" font-size="19.5" fill="#000" text-anchor="end" stroke="#000" stroke-width="0.3">3</text>
<text x="324.2" y="297.9" font-size="19.5" fill="#000" text-anchor="end" stroke="#000" stroke-width="0.3">2</text>
<text x="324.2" y="358.2" font-size="19.5" fill="#000" text-anchor="end" stroke="#000" stroke-width="0.3">1</text>
<text x="324.2" y="394.9" font-size="19.5" fill="#000" text-anchor="end" stroke="#000" stroke-width="0.3">3</text>
<text x="324.2" y="460.4" font-size="19.5" fill="#000" text-anchor="end" stroke="#000" stroke-width="0.3">2</text>
<text x="324.2" y="519.8" font-size="19.5" fill="#000" text-anchor="end" stroke="#000" stroke-width="0.3">1</text>
<text x="333.5" y="542.8" font-size="19.5" fill="#000" text-anchor="middle" stroke="#000" stroke-width="0.3">-12</text>
<text x="389.7" y="542.8" font-size="19.5" fill="#000" text-anchor="middle" stroke="#000" stroke-width="0.3">-8</text>
<text x="444.1" y="542.8" font-size="19.5" fill="#000" text-anchor="middle" stroke="#000" stroke-width="0.3">-4</text>
<text x="500.5" y="542.8" font-size="19.5" fill="#000" text-anchor="middle" stroke="#000" stroke-width="0.3">0</text>
<text x="553.6" y="542.8" font-size="19.5" fill="#000" text-anchor="middle" stroke="#000" stroke-width="0.3">4</text>
<text x="606.2" y="542.8" font-size="19.5" fill="#000" text-anchor="middle" stroke="#000" stroke-width="0.3">8</text>
<text x="660.5" y="542.8" font-size="19.5" fill="#000" text-anchor="middle" stroke="#000" stroke-width="0.3">12</text>
<text transform="translate(295.9,115.3) rotate(-90)" font-size="22" stroke="#000" stroke-width="0.25" textLength="113.5" lengthAdjust="spacingAndGlyphs">field (norm.)</text>
<text transform="translate(292.4,188) rotate(-90)" font-size="22" stroke="#000" stroke-width="0.25">n<tspan dy="5.6">e</tspan><tspan dy="-5.6">(τ</tspan><tspan font-size="24" dy="7.4">d</tspan><tspan font-size="22" dy="-7.4">)</tspan></text>
<text transform="translate(294.9,321.6) rotate(-90)" font-size="21.5" stroke="#000" stroke-width="0.25" textLength="77.5" lengthAdjust="spacingAndGlyphs">ω<tspan dy="3.8">pr</tspan><tspan dy="-3.8"> (eV)</tspan></text>
<text transform="translate(294.9,481.6) rotate(-90)" font-size="21.5" stroke="#000" stroke-width="0.25" textLength="77.5" lengthAdjust="spacingAndGlyphs">ω<tspan dy="3.8">pr</tspan><tspan dy="-3.8"> (eV)</tspan></text>
<text x="472.5" y="570" font-size="22" stroke="#000" stroke-width="0.25">τ<tspan font-size="22" dy="8">d</tspan><tspan font-size="20" dy="-7.5"> (fs)</tspan></text>
<text x="340.2" y="33" font-size="21.5" fill="#f5190f" text-anchor="start" textLength="55" lengthAdjust="spacingAndGlyphs" stroke="#f5190f" stroke-width="0.3">pump</text>
<text x="517.3" y="165.8" font-size="16" fill="#1a14f0" text-anchor="start" textLength="29" lengthAdjust="spacingAndGlyphs" stroke="#1a14f0" stroke-width="0.6">×10</text>
<text x="563.8" y="165" font-size="15.5" fill="#6fe8e0" text-anchor="start" textLength="58.5" lengthAdjust="spacingAndGlyphs" stroke="#6fe8e0" stroke-width="0.45" xml:space="preserve">μ =  0 eV</text>
<text x="563.8" y="182.6" font-size="15.5" fill="#1a14f0" text-anchor="start" textLength="86" lengthAdjust="spacingAndGlyphs" stroke="#1a14f0" stroke-width="0.45">μ = − 1.2 eV</text>
<text x="351.2" y="246.7" font-size="19.5" fill="#000" text-anchor="start" stroke="#000" stroke-width="0.3">-4</text>
<text x="411" y="246.7" font-size="19.5" fill="#000" text-anchor="start" stroke="#000" stroke-width="0.3">4</text>
<text x="432" y="229.3" font-size="18.5" stroke="#000" stroke-width="0.25" textLength="98.5" lengthAdjust="spacingAndGlyphs">Δσ<tspan font-size="23" dy="2">(</tspan><tspan dy="-2">ω</tspan><tspan font-size="18" dy="4">pr</tspan><tspan dy="-4">, τ</tspan><tspan font-size="19" dy="4.5">d</tspan><tspan font-size="23" dy="-2.5">)</tspan></text>
<text x="672.3" y="432.4" font-size="18.5" fill="#000" text-anchor="start" stroke="#000" stroke-width="0.3">Δ</text>
<text x="18.4" y="59.8" font-size="16.8" fill="#2020ff" text-anchor="start" textLength="48.3" lengthAdjust="spacingAndGlyphs" stroke="#2020ff" stroke-width="0.35">probe</text>
<text x="16.8" y="144.3" font-size="16.8" fill="#ff1a1a" text-anchor="start" textLength="48" lengthAdjust="spacingAndGlyphs" stroke="#ff1a1a" stroke-width="0.35">pump</text>
<text x="107.2" y="294.1" font-size="17.5" fill="#808080" text-anchor="start" textLength="81" lengthAdjust="spacingAndGlyphs" stroke="#808080" stroke-width="0.25">Graphene</text>
<text x="159.5" y="81.8" font-size="25.5" fill="#000" text-anchor="start" textLength="13" lengthAdjust="spacingAndGlyphs" stroke="#000" stroke-width="0.3">τ</text>
<text x="171.8" y="91.2" font-size="27.5" fill="#000" text-anchor="start" stroke="#000" stroke-width="0.3">d</text>
<text x="142.2" y="42.5" font-size="22" fill="#2020ff" text-anchor="start" textLength="10.9" lengthAdjust="spacingAndGlyphs" stroke="#2020ff" stroke-width="0.3">x</text>
<text x="193.3" y="108.9" font-size="22" fill="#ff1a1a" text-anchor="start" textLength="10.9" lengthAdjust="spacingAndGlyphs" stroke="#ff1a1a" stroke-width="0.3">x</text>
<text x="215.3" y="223.6" font-size="22" fill="#000" text-anchor="start" textLength="10.9" lengthAdjust="spacingAndGlyphs" stroke="#000" stroke-width="0.3">x</text>
<text x="184.8" y="204.1" font-size="20.5" fill="#000" text-anchor="start" textLength="10.9" lengthAdjust="spacingAndGlyphs" stroke="#000" stroke-width="0.3">y</text>
<text x="209.6" y="493.6" font-size="14.5" fill="#000" text-anchor="start" textLength="49.8" lengthAdjust="spacingAndGlyphs" stroke="#000" stroke-width="0.3">Δ=2|μ|</text></g>
</svg></body></html>
